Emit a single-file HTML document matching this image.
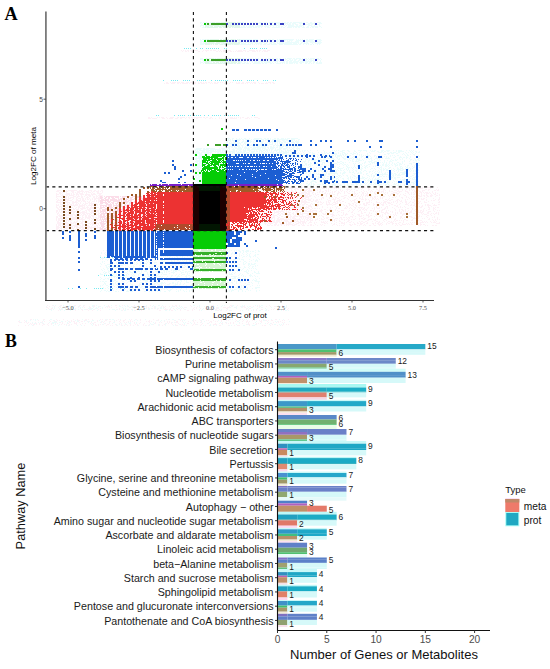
<!DOCTYPE html>
<html><head><meta charset="utf-8"><style>
html,body{margin:0;padding:0;background:#fff;}
svg{display:block;font-family:"Liberation Sans",sans-serif;}
</style></head><body>
<svg width="550" height="669" viewBox="0 0 550 669">
<rect width="550" height="669" fill="#fff"/>
<g shape-rendering="crispEdges"><path fill="#ec3232" d="M151 191h2v1h-2zM149 192h1v1h-1zM151 192h5v1h-5zM157 192h36v1h-36zM230 192h34v1h-34zM265 192h4v1h-4zM270 192h1v1h-1zM273 192h3v1h-3zM283 192h1v1h-1zM287 192h1v1h-1zM296 192h1v1h-1zM146 193h3v1h-3zM150 193h3v1h-3zM154 193h39v1h-39zM230 193h37v1h-37zM269 193h8v1h-8zM278 192h1v2h-1zM280 193h3v1h-3zM285 193h1v1h-1zM288 193h1v1h-1zM291 192h1v2h-1zM294 193h2v1h-2zM147 194h3v1h-3zM151 194h5v1h-5zM157 194h6v1h-6zM230 194h39v1h-39zM270 194h3v1h-3zM275 194h4v1h-4zM281 194h4v1h-4zM287 194h1v1h-1zM289 194h2v1h-2zM146 195h17v1h-17zM164 194h29v2h-29zM230 195h37v1h-37zM268 195h1v1h-1zM271 195h2v1h-2zM275 195h1v1h-1zM277 195h1v1h-1zM283 195h2v1h-2zM288 195h1v1h-1zM294 195h1v1h-1zM147 196h3v1h-3zM151 196h3v1h-3zM155 196h38v1h-38zM266 196h2v1h-2zM269 196h3v1h-3zM273 196h1v1h-1zM276 196h2v1h-2zM280 196h2v1h-2zM291 196h1v1h-1zM296 196h1v1h-1zM143 195h2v3h-2zM147 197h46v1h-46zM230 196h34v2h-34zM266 197h1v1h-1zM271 197h3v1h-3zM276 197h1v1h-1zM278 197h6v1h-6zM285 197h1v1h-1zM287 197h2v1h-2zM295 197h1v1h-1zM301 197h1v1h-1zM143 198h13v1h-13zM157 198h36v1h-36zM269 197h1v2h-1zM271 198h2v1h-2zM274 198h2v1h-2zM278 198h2v1h-2zM283 198h1v1h-1zM288 198h1v1h-1zM290 197h1v2h-1zM292 197h1v2h-1zM300 198h1v1h-1zM139 197h2v3h-2zM143 199h50v1h-50zM230 198h36v2h-36zM267 199h2v1h-2zM270 199h7v1h-7zM278 199h5v1h-5zM286 199h1v1h-1zM139 200h3v1h-3zM143 200h7v1h-7zM151 200h3v1h-3zM155 200h1v1h-1zM157 200h36v1h-36zM230 200h42v1h-42zM273 200h4v1h-4zM282 200h4v1h-4zM293 200h1v1h-1zM295 200h1v1h-1zM139 201h6v1h-6zM146 201h17v1h-17zM230 201h37v1h-37zM268 201h3v1h-3zM272 201h1v1h-1zM274 201h3v1h-3zM278 201h1v1h-1zM280 201h1v1h-1zM282 201h2v1h-2zM285 201h1v1h-1zM289 201h1v1h-1zM291 201h1v1h-1zM135 200h2v3h-2zM138 202h25v1h-25zM164 201h29v2h-29zM230 202h40v1h-40zM271 202h2v1h-2zM274 202h4v1h-4zM281 202h3v1h-3zM289 202h2v1h-2zM294 202h2v1h-2zM135 203h10v1h-10zM146 203h3v1h-3zM150 203h3v1h-3zM154 203h39v1h-39zM230 203h36v1h-36zM267 203h4v1h-4zM278 203h1v1h-1zM283 203h1v1h-1zM286 202h1v2h-1zM288 203h2v1h-2zM291 203h1v1h-1zM297 203h1v1h-1zM131 202h2v3h-2zM134 204h4v1h-4zM157 204h36v1h-36zM230 204h34v1h-34zM265 204h1v1h-1zM267 204h1v1h-1zM269 204h2v1h-2zM272 203h1v2h-1zM275 204h6v1h-6zM284 204h1v1h-1zM286 204h3v1h-3zM290 204h1v1h-1zM295 204h1v1h-1zM131 205h6v1h-6zM139 204h7v2h-7zM147 204h9v2h-9zM157 205h6v1h-6zM164 205h29v1h-29zM230 205h37v1h-37zM269 205h1v1h-1zM271 205h5v1h-5zM277 205h3v1h-3zM281 205h4v1h-4zM289 205h2v1h-2zM293 205h2v1h-2zM127 205h2v2h-2zM131 206h2v1h-2zM134 206h22v1h-22zM157 206h36v1h-36zM230 206h44v1h-44zM275 206h6v1h-6zM285 206h1v1h-1zM288 206h1v1h-1zM294 206h1v1h-1zM127 207h3v1h-3zM131 207h7v1h-7zM139 207h3v1h-3zM143 207h2v1h-2zM147 207h6v1h-6zM154 207h2v1h-2zM157 207h6v1h-6zM164 207h29v1h-29zM230 207h14v1h-14zM245 207h7v1h-7zM253 207h4v1h-4zM258 207h1v1h-1zM260 207h9v1h-9zM271 207h1v1h-1zM273 207h1v1h-1zM276 207h1v1h-1zM278 207h2v1h-2zM283 207h2v1h-2zM286 207h2v1h-2zM289 207h1v1h-1zM294 207h2v1h-2zM127 208h2v1h-2zM135 208h11v1h-11zM147 208h2v1h-2zM151 208h5v1h-5zM157 208h36v1h-36zM249 208h3v1h-3zM255 208h1v1h-1zM258 208h7v1h-7zM266 208h6v1h-6zM273 208h4v1h-4zM278 208h3v1h-3zM288 208h1v1h-1zM123 206h2v4h-2zM126 209h3v1h-3zM130 208h4v2h-4zM135 209h3v1h-3zM139 209h2v1h-2zM142 209h3v1h-3zM146 209h9v1h-9zM156 209h37v1h-37zM230 208h18v2h-18zM249 209h1v1h-1zM251 209h10v1h-10zM263 209h4v1h-4zM268 209h2v1h-2zM271 209h1v1h-1zM273 209h3v1h-3zM279 209h1v1h-1zM282 208h1v2h-1zM284 209h1v1h-1zM286 209h2v1h-2zM289 209h1v1h-1zM292 209h4v1h-4zM297 209h1v1h-1zM301 209h1v1h-1zM119 208h2v3h-2zM123 210h10v1h-10zM134 210h7v1h-7zM142 210h8v1h-8zM151 210h42v1h-42zM230 210h23v1h-23zM256 210h1v1h-1zM258 210h2v1h-2zM261 210h2v1h-2zM266 210h1v1h-1zM119 211h3v1h-3zM123 211h2v1h-2zM127 211h2v1h-2zM130 211h4v1h-4zM135 211h6v1h-6zM142 211h4v1h-4zM147 211h8v1h-8zM156 211h7v1h-7zM230 211h21v1h-21zM252 211h3v1h-3zM257 211h1v1h-1zM259 211h5v1h-5zM270 211h1v1h-1zM123 212h4v1h-4zM128 212h6v1h-6zM135 212h10v1h-10zM146 212h3v1h-3zM150 212h13v1h-13zM230 212h19v1h-19zM253 212h4v1h-4zM258 212h1v1h-1zM268 211h1v2h-1zM270 212h2v1h-2zM119 212h2v2h-2zM123 213h3v1h-3zM127 213h7v1h-7zM135 213h2v1h-2zM139 213h6v1h-6zM146 213h4v1h-4zM151 213h2v1h-2zM154 213h2v1h-2zM157 213h6v1h-6zM164 211h29v3h-29zM230 213h16v1h-16zM248 213h1v1h-1zM250 212h2v2h-2zM253 213h1v1h-1zM255 213h2v1h-2zM258 213h2v1h-2zM262 213h1v1h-1zM264 213h3v1h-3zM118 214h3v1h-3zM123 214h2v1h-2zM126 214h4v1h-4zM131 214h2v1h-2zM134 214h3v1h-3zM138 214h3v1h-3zM143 214h3v1h-3zM147 214h8v1h-8zM156 214h37v1h-37zM230 214h18v1h-18zM249 214h9v1h-9zM259 214h1v1h-1zM261 214h2v1h-2zM266 214h4v1h-4zM271 214h1v1h-1zM116 214h1v2h-1zM119 215h6v1h-6zM126 215h7v1h-7zM134 215h7v1h-7zM143 215h2v1h-2zM146 215h10v1h-10zM157 215h36v1h-36zM230 215h17v1h-17zM248 215h7v1h-7zM256 215h2v1h-2zM261 215h1v1h-1zM266 215h2v1h-2zM270 215h1v1h-1zM119 216h2v1h-2zM123 216h3v1h-3zM127 216h3v1h-3zM131 216h7v1h-7zM139 216h2v1h-2zM142 216h4v1h-4zM147 216h46v1h-46zM230 216h25v1h-25zM257 216h2v1h-2zM262 216h4v1h-4zM267 216h2v1h-2zM117 217h4v1h-4zM123 217h2v1h-2zM127 217h15v1h-15zM143 217h11v1h-11zM157 217h6v1h-6zM164 217h29v1h-29zM230 217h17v1h-17zM248 217h5v1h-5zM255 217h2v1h-2zM258 217h1v1h-1zM260 216h1v2h-1zM269 217h2v1h-2zM119 218h6v1h-6zM126 218h7v1h-7zM134 218h4v1h-4zM142 218h7v1h-7zM151 218h42v1h-42zM230 218h21v1h-21zM252 218h1v1h-1zM254 218h2v1h-2zM257 218h2v1h-2zM262 218h2v1h-2zM266 217h1v2h-1zM113 219h1v1h-1zM119 219h1v1h-1zM122 219h3v1h-3zM127 219h7v1h-7zM135 219h2v1h-2zM139 218h2v2h-2zM142 219h12v1h-12zM155 219h38v1h-38zM230 219h14v1h-14zM247 219h11v1h-11zM262 219h1v1h-1zM264 219h1v1h-1zM269 218h1v2h-1zM119 220h2v1h-2zM123 220h6v1h-6zM131 220h14v1h-14zM146 220h10v1h-10zM157 220h6v1h-6zM230 220h16v1h-16zM247 220h1v1h-1zM249 220h9v1h-9zM260 220h4v1h-4zM266 220h1v1h-1zM268 220h3v1h-3zM111 219h1v3h-1zM115 221h1v1h-1zM119 221h3v1h-3zM123 221h3v1h-3zM127 221h1v1h-1zM130 221h3v1h-3zM135 221h10v1h-10zM146 221h17v1h-17zM230 221h24v1h-24zM255 221h3v1h-3zM259 221h4v1h-4zM266 221h2v1h-2zM269 221h3v1h-3zM118 222h4v1h-4zM123 222h2v1h-2zM130 222h4v1h-4zM135 222h6v1h-6zM142 222h3v1h-3zM146 222h10v1h-10zM157 222h6v1h-6zM164 220h29v3h-29zM228 222h2v1h-2zM232 222h2v1h-2zM235 222h2v1h-2zM239 222h3v1h-3zM243 222h2v1h-2zM246 222h1v1h-1zM248 222h4v1h-4zM253 222h5v1h-5zM260 222h1v1h-1zM115 223h1v1h-1zM119 223h3v1h-3zM123 223h3v1h-3zM127 222h2v2h-2zM131 223h2v1h-2zM134 223h11v1h-11zM147 223h7v1h-7zM155 223h1v1h-1zM157 223h36v1h-36zM228 223h1v1h-1zM233 223h2v1h-2zM237 223h2v1h-2zM240 223h4v1h-4zM245 223h2v1h-2zM252 223h1v1h-1zM257 223h1v1h-1zM259 223h1v1h-1zM110 224h1v1h-1zM112 224h1v1h-1zM116 224h1v1h-1zM119 224h2v1h-2zM122 224h3v1h-3zM126 224h3v1h-3zM130 224h3v1h-3zM134 224h4v1h-4zM139 224h10v1h-10zM150 224h6v1h-6zM226 224h3v1h-3zM231 224h2v1h-2zM237 224h1v1h-1zM243 224h3v1h-3zM249 223h1v2h-1zM251 224h2v1h-2zM254 223h1v2h-1zM256 224h1v1h-1zM258 224h2v1h-2zM111 225h1v1h-1zM114 225h1v1h-1zM117 225h4v1h-4zM122 225h4v1h-4zM127 225h10v1h-10zM139 225h7v1h-7zM147 225h2v1h-2zM150 225h4v1h-4zM155 225h1v1h-1zM226 225h2v1h-2zM229 225h1v1h-1zM232 225h1v1h-1zM235 225h7v1h-7zM243 225h1v1h-1zM245 225h1v1h-1zM249 225h6v1h-6zM256 225h2v1h-2zM259 225h1v1h-1zM111 226h2v1h-2zM116 226h1v1h-1zM119 226h10v1h-10zM131 226h3v1h-3zM135 226h6v1h-6zM143 226h13v1h-13zM233 226h1v1h-1zM237 226h7v1h-7zM246 226h2v1h-2zM250 226h2v1h-2zM254 226h3v1h-3zM260 226h1v1h-1zM111 227h1v1h-1zM113 227h2v1h-2zM122 227h4v1h-4zM127 227h6v1h-6zM135 227h20v1h-20zM226 227h2v1h-2zM231 226h1v2h-1zM233 227h3v1h-3zM238 227h1v1h-1zM243 227h1v1h-1zM245 227h3v1h-3zM250 227h1v1h-1zM255 227h2v1h-2zM258 227h1v1h-1zM260 227h2v1h-2zM115 228h1v1h-1zM118 227h3v2h-3zM123 228h2v1h-2zM126 228h4v1h-4zM131 228h10v1h-10zM142 228h12v1h-12zM233 228h2v1h-2zM236 228h1v1h-1zM240 227h1v2h-1zM242 228h2v1h-2zM257 228h5v1h-5zM114 229h1v1h-1zM116 229h1v1h-1zM122 229h4v1h-4zM130 229h7v1h-7zM138 229h3v1h-3zM142 229h11v1h-11zM155 228h1v2h-1zM228 229h1v1h-1zM230 229h4v1h-4zM235 229h3v1h-3zM240 229h2v1h-2zM248 229h2v1h-2zM252 229h2v1h-2zM255 228h1v2h-1zM257 229h2v1h-2zM260 229h1v1h-1zM119 229h2v2h-2zM123 230h2v1h-2zM127 229h2v2h-2zM131 230h2v1h-2zM135 230h2v1h-2zM139 230h2v1h-2zM143 230h2v1h-2zM147 230h2v1h-2zM151 230h2v1h-2z"/>
<path fill="#000000" d="M193 184h33v2h-33zM199 191h21v33h-21z"/>
<path fill="#06cc06" d="M204 23h2v2h-2zM204 40h2v2h-2zM204 59h2v2h-2zM221 128h2v2h-2zM195 154h2v2h-2zM205 154h2v2h-2zM212 154h14v2h-14zM202 156h3v1h-3zM206 156h4v1h-4zM211 156h11v1h-11zM223 156h2v1h-2zM202 157h16v1h-16zM222 157h2v1h-2zM203 158h7v1h-7zM211 158h2v1h-2zM214 158h10v1h-10zM203 159h4v1h-4zM208 159h8v1h-8zM217 159h5v1h-5zM223 159h1v1h-1zM225 157h1v3h-1zM202 160h8v1h-8zM212 160h5v1h-5zM218 160h3v1h-3zM222 160h2v1h-2zM202 161h4v1h-4zM207 161h1v1h-1zM210 161h10v1h-10zM221 161h1v1h-1zM223 161h3v1h-3zM202 162h6v1h-6zM209 162h1v1h-1zM211 162h10v1h-10zM222 162h4v1h-4zM202 163h1v1h-1zM206 163h3v1h-3zM210 163h3v1h-3zM214 163h5v1h-5zM223 163h1v1h-1zM225 163h1v1h-1zM202 164h4v1h-4zM208 164h2v1h-2zM211 164h8v1h-8zM195 164h2v2h-2zM202 165h3v1h-3zM207 165h5v1h-5zM213 165h3v1h-3zM218 165h1v1h-1zM220 164h6v2h-6zM202 166h1v1h-1zM204 166h6v1h-6zM214 166h3v1h-3zM222 166h1v1h-1zM224 166h2v1h-2zM203 167h15v1h-15zM219 166h2v2h-2zM222 167h2v1h-2zM202 168h16v1h-16zM219 168h1v1h-1zM224 168h2v1h-2zM202 169h4v1h-4zM207 169h5v1h-5zM214 169h7v1h-7zM222 169h3v1h-3zM201 170h3v1h-3zM205 170h1v1h-1zM207 170h1v1h-1zM209 170h1v1h-1zM211 170h5v1h-5zM217 170h7v1h-7zM225 170h1v1h-1zM201 171h1v1h-1zM203 171h2v1h-2zM206 171h2v1h-2zM210 171h7v1h-7zM219 171h7v1h-7zM195 172h2v2h-2zM199 172h2v2h-2zM193 178h2v2h-2zM199 180h2v2h-2zM202 172h24v12h-24zM193 231h33v18h-33z"/>
<path fill="#1c5ed2" d="M232 129h3v2h-3zM236 129h3v2h-3zM244 129h3v2h-3zM248 129h3v2h-3zM252 129h3v2h-3zM256 129h3v2h-3zM260 129h3v2h-3zM264 129h3v2h-3zM268 129h3v2h-3zM276 129h2v2h-2zM235 140h2v2h-2zM247 140h2v2h-2zM256 140h2v2h-2zM259 140h2v2h-2zM268 140h2v2h-2zM274 140h2v2h-2zM289 140h2v2h-2zM310 140h2v2h-2zM320 140h2v2h-2zM325 140h2v2h-2zM330 140h2v2h-2zM347 140h2v2h-2zM354 140h2v2h-2zM366 140h2v2h-2zM379 140h4v2h-4zM416 140h2v2h-2zM226 144h2v2h-2zM232 144h2v2h-2zM235 144h2v2h-2zM247 144h2v2h-2zM253 144h2v2h-2zM256 144h2v2h-2zM262 144h2v2h-2zM265 144h2v2h-2zM280 144h2v2h-2zM286 144h2v2h-2zM289 144h2v2h-2zM292 144h2v2h-2zM295 144h2v2h-2zM298 144h4v2h-4zM310 144h2v2h-2zM315 144h2v2h-2zM330 146h2v2h-2zM369 146h2v2h-2zM380 146h2v2h-2zM416 146h2v2h-2zM294 150h2v2h-2zM292 152h4v2h-4zM332 152h2v2h-2zM306 154h2v1h-2zM226 154h2v2h-2zM229 154h2v2h-2zM235 154h2v2h-2zM238 154h2v2h-2zM241 154h2v2h-2zM244 154h2v2h-2zM247 154h2v2h-2zM250 154h2v2h-2zM253 154h2v2h-2zM256 154h2v2h-2zM259 154h2v2h-2zM262 154h2v2h-2zM265 154h2v2h-2zM268 154h2v2h-2zM271 154h2v2h-2zM274 154h2v2h-2zM277 154h2v2h-2zM280 154h2v2h-2zM320 154h2v2h-2zM325 155h2v1h-2zM329 155h1v1h-1zM226 156h50v1h-50zM280 156h1v1h-1zM282 156h1v1h-1zM285 155h2v2h-2zM289 155h2v2h-2zM293 155h2v2h-2zM297 155h2v2h-2zM301 155h2v2h-2zM305 155h3v2h-3zM309 155h2v2h-2zM313 155h2v2h-2zM324 156h3v1h-3zM329 156h3v1h-3zM227 157h1v1h-1zM229 157h2v1h-2zM233 157h2v1h-2zM236 157h3v1h-3zM243 157h4v1h-4zM249 157h2v1h-2zM252 157h1v1h-1zM256 157h2v1h-2zM259 157h6v1h-6zM266 157h1v1h-1zM269 157h1v1h-1zM271 157h1v1h-1zM274 157h1v1h-1zM276 157h1v1h-1zM278 157h5v1h-5zM306 157h2v1h-2zM321 156h2v2h-2zM324 157h2v1h-2zM330 157h2v1h-2zM347 156h2v2h-2zM355 156h2v2h-2zM366 156h2v2h-2zM378 156h4v2h-4zM416 156h2v2h-2zM226 158h57v1h-57zM286 158h1v1h-1zM289 158h3v1h-3zM295 158h1v1h-1zM226 159h52v1h-52zM279 159h1v1h-1zM283 159h1v1h-1zM288 159h1v1h-1zM290 159h1v1h-1zM293 158h1v2h-1zM296 159h1v1h-1zM298 159h1v1h-1zM301 159h1v1h-1zM312 158h2v2h-2zM226 160h7v1h-7zM235 160h1v1h-1zM237 160h1v1h-1zM239 160h1v1h-1zM241 160h1v1h-1zM243 160h2v1h-2zM246 160h4v1h-4zM251 160h2v1h-2zM255 160h2v1h-2zM258 160h1v1h-1zM260 160h3v1h-3zM265 160h2v1h-2zM269 160h5v1h-5zM276 160h1v1h-1zM278 160h2v1h-2zM281 159h1v2h-1zM286 160h3v1h-3zM292 160h1v1h-1zM295 160h2v1h-2zM172 160h2v2h-2zM277 161h1v1h-1zM280 161h11v1h-11zM297 161h1v1h-1zM300 161h1v1h-1zM318 160h2v2h-2zM326 160h2v2h-2zM332 160h2v2h-2zM226 161h50v2h-50zM277 162h2v1h-2zM282 162h1v1h-1zM284 162h6v1h-6zM226 163h1v1h-1zM228 163h8v1h-8zM239 163h4v1h-4zM244 163h1v1h-1zM246 163h2v1h-2zM250 163h4v1h-4zM256 163h4v1h-4zM261 163h1v1h-1zM265 163h1v1h-1zM267 163h2v1h-2zM270 163h2v1h-2zM273 163h6v1h-6zM280 163h1v1h-1zM282 163h4v1h-4zM287 163h1v1h-1zM290 163h1v1h-1zM292 163h2v1h-2zM314 162h2v2h-2zM330 162h2v2h-2zM277 164h1v1h-1zM281 164h2v1h-2zM284 164h1v1h-1zM286 164h3v1h-3zM292 164h1v1h-1zM295 162h1v3h-1zM297 163h1v2h-1zM172 164h2v2h-2zM190 164h2v2h-2zM226 164h50v2h-50zM278 165h2v1h-2zM281 165h3v1h-3zM285 165h3v1h-3zM289 165h1v1h-1zM291 165h1v1h-1zM293 165h1v1h-1zM300 164h2v2h-2zM318 164h2v2h-2zM377 162h2v4h-2zM226 166h2v1h-2zM229 166h1v1h-1zM231 166h1v1h-1zM233 166h2v1h-2zM236 166h1v1h-1zM239 166h2v1h-2zM242 166h3v1h-3zM246 166h1v1h-1zM249 166h1v1h-1zM253 166h1v1h-1zM255 166h1v1h-1zM257 166h2v1h-2zM260 166h3v1h-3zM265 166h1v1h-1zM267 166h4v1h-4zM272 166h5v1h-5zM278 166h1v1h-1zM283 166h2v1h-2zM295 166h1v1h-1zM226 167h52v1h-52zM280 166h2v2h-2zM284 167h1v1h-1zM287 166h3v2h-3zM293 167h2v1h-2zM298 166h4v2h-4zM324 166h2v2h-2zM330 164h4v4h-4zM226 168h51v1h-51zM278 168h1v1h-1zM280 168h4v1h-4zM285 168h1v1h-1zM289 168h4v1h-4zM298 168h1v1h-1zM300 168h6v1h-6zM358 165h2v4h-2zM174 166h2v4h-2zM227 169h1v1h-1zM229 169h1v1h-1zM231 169h1v1h-1zM233 169h6v1h-6zM240 169h2v1h-2zM244 169h2v1h-2zM247 169h2v1h-2zM250 169h1v1h-1zM252 169h1v1h-1zM255 169h1v1h-1zM257 169h2v1h-2zM260 169h1v1h-1zM264 169h1v1h-1zM267 169h5v1h-5zM273 169h1v1h-1zM276 169h6v1h-6zM283 169h10v1h-10zM299 169h7v1h-7zM310 168h2v2h-2zM322 168h2v2h-2zM328 168h4v2h-4zM226 170h31v1h-31zM258 170h26v1h-26zM288 170h1v1h-1zM290 170h1v1h-1zM292 170h1v1h-1zM297 170h3v1h-3zM302 170h4v1h-4zM182 170h2v2h-2zM190 170h2v2h-2zM226 171h30v1h-30zM257 171h28v1h-28zM286 171h1v1h-1zM289 171h3v1h-3zM294 168h2v4h-2zM299 171h7v1h-7zM308 170h2v2h-2zM314 170h2v2h-2zM324 170h2v2h-2zM330 170h5v2h-5zM226 172h18v1h-18zM245 172h38v1h-38zM285 172h4v1h-4zM292 172h2v1h-2zM297 172h4v1h-4zM164 172h2v2h-2zM168 172h2v2h-2zM226 173h39v1h-39zM266 173h19v1h-19zM287 173h1v1h-1zM289 173h6v1h-6zM302 172h2v2h-2zM226 174h11v1h-11zM238 174h14v1h-14zM253 174h34v1h-34zM289 174h3v1h-3zM300 174h2v1h-2zM184 174h2v2h-2zM226 175h5v1h-5zM232 175h8v1h-8zM241 175h19v1h-19zM261 175h14v1h-14zM276 175h9v1h-9zM287 175h7v1h-7zM300 175h1v1h-1zM320 174h4v2h-4zM377 174h2v2h-2zM226 176h26v1h-26zM253 176h29v1h-29zM285 176h7v1h-7zM294 176h6v1h-6zM406 169h2v8h-2zM180 176h2v2h-2zM226 177h29v1h-29zM256 177h31v1h-31zM288 177h1v1h-1zM290 177h2v1h-2zM293 177h1v1h-1zM296 177h4v1h-4zM306 176h2v2h-2zM312 174h2v4h-2zM320 176h2v2h-2zM334 176h1v2h-1zM226 178h3v1h-3zM230 178h38v1h-38zM269 178h13v1h-13zM283 178h2v1h-2zM286 178h1v1h-1zM288 178h2v1h-2zM298 178h2v1h-2zM301 177h1v2h-1zM178 178h2v2h-2zM226 179h10v1h-10zM237 179h8v1h-8zM246 179h30v1h-30zM277 179h6v1h-6zM289 179h2v1h-2zM292 179h3v1h-3zM296 179h1v1h-1zM298 179h4v1h-4zM304 178h2v2h-2zM308 178h2v2h-2zM314 178h2v2h-2zM330 176h2v4h-2zM389 170h2v10h-2zM226 180h52v1h-52zM279 180h6v1h-6zM288 180h1v1h-1zM299 180h5v1h-5zM334 180h1v1h-1zM358 175h2v6h-2zM377 180h2v1h-2zM406 179h2v2h-2zM160 180h2v2h-2zM226 181h58v1h-58zM285 181h1v1h-1zM287 181h3v1h-3zM291 181h2v1h-2zM294 180h2v2h-2zM298 181h1v1h-1zM300 181h4v1h-4zM320 180h2v2h-2zM324 180h4v2h-4zM332 181h3v1h-3zM162 182h4v1h-4zM178 182h2v1h-2zM184 182h2v1h-2zM226 182h9v1h-9zM236 182h52v1h-52zM292 182h3v1h-3zM296 182h2v1h-2zM300 182h1v1h-1zM324 182h6v1h-6zM332 182h2v1h-2zM336 181h2v2h-2zM342 181h6v2h-6zM352 181h8v2h-8zM362 181h2v2h-2zM370 181h2v2h-2zM377 181h5v2h-5zM384 181h2v2h-2zM398 181h4v2h-4zM406 181h4v2h-4zM226 183h57v1h-57zM286 183h1v1h-1zM288 183h2v1h-2zM292 183h2v1h-2zM296 183h4v1h-4zM324 183h2v1h-2zM328 183h2v1h-2zM377 183h2v1h-2zM406 183h2v2h-2zM416 163h2v23h-2zM157 231h36v1h-36zM69 231h2v2h-2zM94 231h2v2h-2zM155 231h1v2h-1zM157 232h6v1h-6zM164 232h29v1h-29zM236 231h6v2h-6zM155 233h38v1h-38zM62 231h2v4h-2zM155 234h8v1h-8zM164 234h29v1h-29zM226 231h8v4h-8zM236 233h4v2h-4zM244 231h2v4h-2zM155 235h38v1h-38zM85 233h2v4h-2zM155 236h1v1h-1zM157 236h6v1h-6zM164 236h29v1h-29zM226 235h12v2h-12zM155 237h38v1h-38zM62 237h2v2h-2zM94 235h2v4h-2zM155 238h8v1h-8zM226 237h6v2h-6zM236 237h6v2h-6zM155 239h1v1h-1zM157 239h6v1h-6zM164 238h29v2h-29zM69 235h2v6h-2zM85 239h2v2h-2zM155 240h38v1h-38zM232 239h10v2h-10zM155 241h1v1h-1zM157 241h36v1h-36zM255 240h2v2h-2zM155 242h8v1h-8zM226 239h4v4h-4zM232 241h8v2h-8zM155 243h1v1h-1zM157 243h6v1h-6zM164 242h29v2h-29zM155 244h38v1h-38zM228 243h6v2h-6zM236 243h4v2h-4zM244 243h2v2h-2zM157 245h6v1h-6zM164 245h29v1h-29zM157 246h36v1h-36zM226 245h14v2h-14zM246 245h2v2h-2zM78 231h2v17h-2zM157 247h6v1h-6zM164 247h29v1h-29zM155 245h1v4h-1zM157 248h1v1h-1zM275 247h2v2h-2zM155 249h3v1h-3zM155 250h1v1h-1zM157 250h1v1h-1zM155 251h3v1h-3zM78 251h2v2h-2zM155 252h1v1h-1zM157 252h1v1h-1zM160 250h3v3h-3zM164 250h29v3h-29zM226 252h2v2h-2zM235 252h2v2h-2zM155 253h3v2h-3zM107 231h7v25h-7zM115 231h3v25h-3zM119 231h3v25h-3zM123 231h3v25h-3zM127 231h3v25h-3zM131 231h3v25h-3zM135 231h3v25h-3zM139 231h3v25h-3zM143 231h3v25h-3zM151 231h3v25h-3zM155 255h1v1h-1zM160 253h33v3h-33zM111 256h11v1h-11zM151 256h5v1h-5zM157 255h1v2h-1zM107 256h3v2h-3zM114 257h8v1h-8zM123 256h23v2h-23zM147 231h3v27h-3zM151 257h7v1h-7zM78 257h2v2h-2zM115 258h3v1h-3zM120 258h3v1h-3zM135 258h3v1h-3zM140 258h3v1h-3zM160 258h3v1h-3zM164 258h29v1h-29zM226 257h2v2h-2zM229 257h2v2h-2zM235 257h2v2h-2zM114 259h10v1h-10zM125 258h3v2h-3zM130 258h3v2h-3zM134 259h10v1h-10zM145 258h3v2h-3zM155 258h1v2h-1zM157 258h1v2h-1zM160 259h33v1h-33zM114 260h2v1h-2zM118 260h2v1h-2zM122 260h2v1h-2zM126 260h2v1h-2zM130 260h2v1h-2zM134 260h2v1h-2zM138 260h2v1h-2zM142 260h2v1h-2zM150 259h2v2h-2zM110 259h2v3h-2zM78 261h2v2h-2zM226 261h2v2h-2zM229 261h2v2h-2zM232 261h2v2h-2zM235 261h2v2h-2zM110 262h3v2h-3zM118 262h6v2h-6zM125 262h3v2h-3zM130 262h3v2h-3zM142 262h2v2h-2zM150 262h2v2h-2zM160 262h3v2h-3zM165 262h28v2h-28zM110 265h2v2h-2zM114 265h2v2h-2zM118 265h2v2h-2zM142 265h2v2h-2zM154 265h2v2h-2zM229 265h2v2h-2zM232 265h2v2h-2zM235 265h2v2h-2zM160 266h2v2h-2zM164 266h2v2h-2zM168 266h2v2h-2zM172 266h2v2h-2zM176 266h2v2h-2zM180 266h2v2h-2zM188 266h2v2h-2zM192 266h1v2h-1zM155 268h1v1h-1zM157 268h1v1h-1zM110 268h3v2h-3zM118 268h6v2h-6zM125 268h3v2h-3zM130 268h3v2h-3zM135 268h8v2h-8zM145 268h3v2h-3zM150 268h3v2h-3zM155 269h3v1h-3zM160 268h3v2h-3zM165 268h3v2h-3zM175 268h3v2h-3zM190 268h3v2h-3zM78 269h2v2h-2zM110 270h2v1h-2zM229 269h2v2h-2zM232 269h2v2h-2zM238 269h2v2h-2zM114 271h2v2h-2zM118 271h2v2h-2zM122 271h2v2h-2zM134 271h2v2h-2zM150 271h2v2h-2zM158 271h2v2h-2zM110 274h2v2h-2zM118 274h2v2h-2zM122 274h2v2h-2zM142 274h2v2h-2zM150 274h2v2h-2zM154 274h2v2h-2zM122 277h2v1h-2zM130 277h2v1h-2zM138 277h2v1h-2zM150 277h2v1h-2zM154 277h2v1h-2zM118 277h2v2h-2zM127 278h8v1h-8zM157 278h36v1h-36zM122 278h3v2h-3zM127 279h3v1h-3zM132 279h3v1h-3zM137 278h3v2h-3zM142 278h3v2h-3zM147 278h9v2h-9zM157 279h6v1h-6zM164 279h29v1h-29zM229 279h2v2h-2zM238 279h2v2h-2zM241 279h2v2h-2zM244 279h2v2h-2zM247 279h2v2h-2zM110 279h2v3h-2zM130 280h2v2h-2zM134 280h2v2h-2zM150 280h2v2h-2zM154 280h2v2h-2zM158 280h2v2h-2zM110 283h2v2h-2zM118 283h2v2h-2zM122 283h2v2h-2zM142 283h2v2h-2zM146 283h2v2h-2zM150 283h2v2h-2zM150 286h6v1h-6zM157 286h6v1h-6zM78 286h2v2h-2zM110 286h2v2h-2zM118 286h6v2h-6zM125 286h3v2h-3zM130 286h3v2h-3zM135 286h3v2h-3zM145 286h3v2h-3zM150 287h13v1h-13zM164 286h29v2h-29zM229 286h2v2h-2zM232 286h2v2h-2zM238 286h2v2h-2zM244 286h2v2h-2zM110 289h2v2h-2zM122 289h2v2h-2zM130 289h2v2h-2zM134 289h2v2h-2zM138 289h2v2h-2zM146 289h2v2h-2zM150 289h2v2h-2zM154 289h2v2h-2zM158 289h2v2h-2z"/>
<path fill="#a05a28" d="M150 186h7v1h-7zM159 186h5v1h-5zM166 186h1v1h-1zM168 186h25v1h-25zM230 186h4v1h-4zM235 186h23v1h-23zM261 186h3v1h-3zM265 186h2v1h-2zM268 186h1v1h-1zM270 186h7v1h-7zM279 186h2v1h-2zM283 186h2v1h-2zM152 187h2v1h-2zM156 187h2v1h-2zM159 187h1v1h-1zM161 187h5v1h-5zM167 187h2v1h-2zM230 187h29v1h-29zM260 187h3v1h-3zM264 187h2v1h-2zM267 187h2v1h-2zM270 187h5v1h-5zM276 187h1v1h-1zM279 187h4v1h-4zM143 187h2v2h-2zM147 187h2v2h-2zM150 187h1v2h-1zM152 188h3v1h-3zM157 188h4v1h-4zM162 188h2v1h-2zM165 188h1v1h-1zM167 188h1v1h-1zM170 187h23v2h-23zM230 188h31v1h-31zM262 188h2v1h-2zM265 188h6v1h-6zM273 188h2v1h-2zM276 188h6v1h-6zM284 187h1v2h-1zM151 189h3v1h-3zM155 189h12v1h-12zM168 189h17v1h-17zM186 189h7v1h-7zM230 189h23v1h-23zM254 189h4v1h-4zM262 189h11v1h-11zM274 189h1v1h-1zM276 189h8v1h-8zM151 190h4v1h-4zM156 190h1v1h-1zM159 190h2v1h-2zM162 190h1v1h-1zM165 190h6v1h-6zM172 190h4v1h-4zM177 190h1v1h-1zM179 190h14v1h-14zM230 190h6v1h-6zM238 190h21v1h-21zM263 190h1v1h-1zM265 190h6v1h-6zM273 190h2v1h-2zM278 190h1v1h-1zM280 190h2v1h-2zM283 190h1v1h-1zM153 191h4v1h-4zM158 191h4v1h-4zM165 191h4v1h-4zM170 191h7v1h-7zM178 191h4v1h-4zM183 191h10v1h-10zM231 191h5v1h-5zM237 191h3v1h-3zM241 191h14v1h-14zM256 191h2v1h-2zM259 191h2v1h-2zM266 191h2v1h-2zM271 191h4v1h-4zM276 190h1v2h-1zM280 191h1v1h-1zM282 191h1v1h-1zM284 191h1v1h-1zM147 191h2v2h-2zM131 194h2v2h-2zM139 189h2v8h-2zM127 196h2v2h-2zM264 196h2v2h-2zM274 196h2v2h-2zM123 198h2v2h-2zM135 194h2v6h-2zM298 200h2v2h-2zM123 202h2v2h-2zM119 202h2v6h-2zM115 207h2v2h-2zM107 207h2v4h-2zM111 209h2v2h-2zM115 211h2v3h-2zM115 214h1v2h-1zM286 216h2v2h-2zM111 213h2v6h-2zM115 216h2v5h-2zM112 219h1v3h-1zM116 221h1v1h-1zM264 220h2v2h-2zM292 220h2v2h-2zM115 222h2v1h-2zM111 222h2v2h-2zM116 223h1v1h-1zM282 222h2v2h-2zM111 224h1v1h-1zM115 224h1v1h-1zM416 186h2v39h-2zM112 225h1v1h-1zM115 225h2v1h-2zM115 226h1v1h-1zM112 227h1v1h-1zM115 227h2v1h-2zM116 228h1v1h-1zM115 229h1v1h-1zM107 213h2v18h-2zM111 228h2v3h-2zM115 230h2v1h-2z"/>
<path fill="#7a1ec8" d="M150 184h1v1h-1zM152 184h5v1h-5zM159 184h2v1h-2zM162 184h6v1h-6zM169 184h12v1h-12zM182 184h11v1h-11zM226 184h51v1h-51zM278 184h4v1h-4zM150 185h38v1h-38zM189 185h4v1h-4zM226 185h12v1h-12zM239 185h44v1h-44z"/>
<path fill="#3c9e28" d="M207 23h2v2h-2zM211 23h15v2h-15zM207 40h19v2h-19zM207 59h2v2h-2zM211 59h15v2h-15zM207 144h2v2h-2zM215 144h6v2h-6zM223 144h3v2h-3z"/>
<path fill="#ebfcfc" d="M200 22h2v1h-2zM203 22h3v1h-3zM207 22h2v1h-2zM210 22h2v1h-2zM215 22h1v1h-1zM220 22h1v1h-1zM226 22h1v1h-1zM240 22h4v1h-4zM245 22h1v1h-1zM247 22h1v1h-1zM250 22h2v1h-2zM253 22h1v1h-1zM255 22h3v1h-3zM259 22h3v1h-3zM264 22h4v1h-4zM269 22h4v1h-4zM274 22h6v1h-6zM282 22h1v1h-1zM284 22h2v1h-2zM287 22h2v1h-2zM290 22h2v1h-2zM293 22h9v1h-9zM303 22h2v1h-2zM306 22h2v1h-2zM310 22h2v1h-2zM314 22h1v1h-1zM317 22h4v1h-4zM200 23h1v1h-1zM202 23h1v1h-1zM228 23h1v1h-1zM243 23h1v1h-1zM258 23h3v1h-3zM263 23h1v1h-1zM269 23h1v1h-1zM272 23h1v1h-1zM276 23h4v1h-4zM284 23h4v1h-4zM289 23h2v1h-2zM292 23h4v1h-4zM299 23h4v1h-4zM308 23h7v1h-7zM319 23h3v1h-3zM201 24h1v1h-1zM203 24h1v1h-1zM231 24h1v1h-1zM237 24h1v1h-1zM240 23h1v2h-1zM249 24h1v1h-1zM260 24h1v1h-1zM266 24h1v1h-1zM268 24h1v1h-1zM273 24h1v1h-1zM276 24h1v1h-1zM278 24h2v1h-2zM285 24h1v1h-1zM287 24h4v1h-4zM292 24h2v1h-2zM295 24h3v1h-3zM300 24h1v1h-1zM305 24h5v1h-5zM311 24h2v1h-2zM317 24h3v1h-3zM200 25h4v1h-4zM207 25h1v1h-1zM219 25h2v1h-2zM249 25h2v1h-2zM252 25h2v1h-2zM255 25h1v1h-1zM257 25h6v1h-6zM265 25h2v1h-2zM268 25h12v1h-12zM283 25h2v1h-2zM286 25h1v1h-1zM288 25h6v1h-6zM296 25h2v1h-2zM299 25h5v1h-5zM308 25h4v1h-4zM314 24h1v2h-1zM319 25h1v1h-1zM200 26h1v1h-1zM203 26h1v1h-1zM209 26h1v1h-1zM221 26h1v1h-1zM229 24h1v3h-1zM234 26h1v1h-1zM241 26h1v1h-1zM243 25h2v2h-2zM246 25h1v2h-1zM248 26h6v1h-6zM255 26h8v1h-8zM264 26h5v1h-5zM270 26h1v1h-1zM273 26h1v1h-1zM276 26h1v1h-1zM278 26h2v1h-2zM281 26h2v1h-2zM285 26h1v1h-1zM288 26h14v1h-14zM303 26h1v1h-1zM307 26h2v1h-2zM311 26h7v1h-7zM319 26h2v1h-2zM202 27h3v1h-3zM206 27h1v1h-1zM233 27h1v1h-1zM240 27h6v1h-6zM247 27h5v1h-5zM253 27h4v1h-4zM258 27h2v1h-2zM261 27h1v1h-1zM265 27h1v1h-1zM267 27h3v1h-3zM272 27h8v1h-8zM281 27h1v1h-1zM283 27h2v1h-2zM287 27h5v1h-5zM293 27h1v1h-1zM295 27h2v1h-2zM298 27h2v1h-2zM302 27h3v1h-3zM306 27h3v1h-3zM310 27h1v1h-1zM312 27h2v1h-2zM315 27h3v1h-3zM321 27h1v1h-1zM200 39h1v1h-1zM202 39h3v1h-3zM209 39h1v1h-1zM230 39h1v1h-1zM234 39h1v1h-1zM238 39h1v1h-1zM240 39h12v1h-12zM253 39h5v1h-5zM264 39h3v1h-3zM268 39h3v1h-3zM272 39h2v1h-2zM277 39h1v1h-1zM279 39h15v1h-15zM296 39h1v1h-1zM298 39h1v1h-1zM300 39h1v1h-1zM302 39h1v1h-1zM304 39h1v1h-1zM306 39h2v1h-2zM309 39h5v1h-5zM316 39h5v1h-5zM200 40h2v1h-2zM228 40h1v1h-1zM237 40h1v1h-1zM243 40h1v1h-1zM269 40h1v1h-1zM272 40h1v1h-1zM284 40h2v1h-2zM287 40h1v1h-1zM289 40h4v1h-4zM296 40h7v1h-7zM306 40h7v1h-7zM314 40h1v1h-1zM317 40h1v1h-1zM319 40h3v1h-3zM200 41h4v1h-4zM206 39h1v3h-1zM238 41h1v1h-1zM240 40h1v2h-1zM249 40h1v2h-1zM252 40h1v2h-1zM255 40h1v2h-1zM258 40h1v2h-1zM260 39h1v3h-1zM263 40h1v2h-1zM266 40h1v2h-1zM268 41h2v1h-2zM273 41h1v1h-1zM276 40h4v2h-4zM284 41h1v1h-1zM287 41h3v1h-3zM291 41h1v1h-1zM295 41h4v1h-4zM300 41h1v1h-1zM302 41h1v1h-1zM305 41h9v1h-9zM317 41h4v1h-4zM200 42h2v1h-2zM203 42h2v1h-2zM207 42h1v1h-1zM224 42h3v1h-3zM228 42h1v1h-1zM231 42h1v1h-1zM237 42h1v1h-1zM240 42h2v1h-2zM243 42h1v1h-1zM245 42h13v1h-13zM259 42h6v1h-6zM266 42h2v1h-2zM270 42h5v1h-5zM277 42h1v1h-1zM279 42h5v1h-5zM285 42h14v1h-14zM301 42h2v1h-2zM304 42h1v1h-1zM306 42h2v1h-2zM310 42h6v1h-6zM317 42h5v1h-5zM200 43h5v1h-5zM214 42h1v2h-1zM221 43h2v1h-2zM241 43h5v1h-5zM248 43h1v1h-1zM250 43h3v1h-3zM255 43h7v1h-7zM264 43h3v1h-3zM269 43h3v1h-3zM273 43h3v1h-3zM277 43h15v1h-15zM293 43h4v1h-4zM298 43h1v1h-1zM300 43h2v1h-2zM303 43h6v1h-6zM312 43h1v1h-1zM315 43h6v1h-6zM200 44h4v1h-4zM210 44h1v1h-1zM219 44h1v1h-1zM223 44h1v1h-1zM231 44h1v1h-1zM233 44h1v1h-1zM239 44h12v1h-12zM252 44h1v1h-1zM254 44h1v1h-1zM256 44h1v1h-1zM258 44h1v1h-1zM260 44h2v1h-2zM263 44h3v1h-3zM267 44h3v1h-3zM271 44h6v1h-6zM279 44h4v1h-4zM284 44h14v1h-14zM299 44h2v1h-2zM303 44h1v1h-1zM306 44h1v1h-1zM308 44h1v1h-1zM310 44h2v1h-2zM313 44h1v1h-1zM317 44h1v1h-1zM319 44h1v1h-1zM200 58h3v1h-3zM205 58h1v1h-1zM208 58h1v1h-1zM214 58h1v1h-1zM216 58h1v1h-1zM223 58h1v1h-1zM233 58h1v1h-1zM240 58h7v1h-7zM248 58h4v1h-4zM253 58h1v1h-1zM255 58h4v1h-4zM261 58h2v1h-2zM265 58h2v1h-2zM268 58h3v1h-3zM279 58h2v1h-2zM283 58h1v1h-1zM285 58h1v1h-1zM287 58h5v1h-5zM293 58h2v1h-2zM296 58h5v1h-5zM302 58h1v1h-1zM304 58h3v1h-3zM308 58h1v1h-1zM310 58h5v1h-5zM316 58h3v1h-3zM320 58h1v1h-1zM200 59h4v1h-4zM240 59h1v1h-1zM249 59h1v1h-1zM252 59h1v1h-1zM258 59h2v1h-2zM272 58h2v2h-2zM276 58h2v2h-2zM279 59h1v1h-1zM285 59h2v1h-2zM289 59h2v1h-2zM292 59h1v1h-1zM294 59h3v1h-3zM299 59h4v1h-4zM306 59h2v1h-2zM309 59h3v1h-3zM313 59h1v1h-1zM317 59h3v1h-3zM321 59h1v1h-1zM202 60h2v1h-2zM206 60h1v1h-1zM243 59h1v2h-1zM246 60h1v1h-1zM255 59h1v2h-1zM258 60h1v1h-1zM260 60h1v1h-1zM263 60h1v1h-1zM266 59h1v2h-1zM268 59h2v2h-2zM273 60h1v1h-1zM276 60h3v1h-3zM285 60h1v1h-1zM287 60h2v1h-2zM290 60h3v1h-3zM294 60h2v1h-2zM298 60h2v1h-2zM302 60h1v1h-1zM305 60h2v1h-2zM308 60h1v1h-1zM310 60h4v1h-4zM200 61h1v1h-1zM203 61h2v1h-2zM210 61h1v1h-1zM214 61h1v1h-1zM227 61h1v1h-1zM236 61h2v1h-2zM243 61h2v1h-2zM249 61h4v1h-4zM254 61h3v1h-3zM258 61h14v1h-14zM273 61h5v1h-5zM279 61h1v1h-1zM283 61h2v1h-2zM289 61h3v1h-3zM293 61h6v1h-6zM300 61h12v1h-12zM313 61h3v1h-3zM317 61h1v1h-1zM320 60h1v2h-1zM200 62h3v1h-3zM204 62h1v1h-1zM209 62h3v1h-3zM221 62h1v1h-1zM223 62h1v1h-1zM230 62h1v1h-1zM240 61h2v2h-2zM244 62h2v1h-2zM247 61h1v2h-1zM252 62h1v1h-1zM254 62h6v1h-6zM261 62h2v1h-2zM264 62h7v1h-7zM272 62h1v1h-1zM275 62h1v1h-1zM277 62h1v1h-1zM280 62h5v1h-5zM289 62h9v1h-9zM299 62h5v1h-5zM305 62h3v1h-3zM309 62h2v1h-2zM313 62h2v1h-2zM316 62h2v1h-2zM319 62h3v1h-3zM200 63h1v1h-1zM203 63h1v1h-1zM217 63h1v1h-1zM222 63h1v1h-1zM233 63h1v1h-1zM240 63h1v1h-1zM242 63h3v1h-3zM246 63h3v1h-3zM250 63h1v1h-1zM253 63h8v1h-8zM262 63h2v1h-2zM265 63h2v1h-2zM270 63h2v1h-2zM273 63h1v1h-1zM276 63h5v1h-5zM282 63h1v1h-1zM284 63h1v1h-1zM286 61h2v3h-2zM289 63h4v1h-4zM294 63h1v1h-1zM296 63h2v1h-2zM300 63h2v1h-2zM305 63h2v1h-2zM308 63h2v1h-2zM311 63h1v1h-1zM313 63h1v1h-1zM316 63h6v1h-6zM227 138h3v1h-3zM232 138h2v1h-2zM236 138h1v1h-1zM239 138h1v1h-1zM241 138h1v1h-1zM244 138h2v1h-2zM249 138h1v1h-1zM254 138h8v1h-8zM264 138h2v1h-2zM267 138h2v1h-2zM274 138h2v1h-2zM277 138h2v1h-2zM281 138h3v1h-3zM285 138h1v1h-1zM287 138h3v1h-3zM291 138h7v1h-7zM228 139h1v1h-1zM230 139h1v1h-1zM232 139h1v1h-1zM236 139h5v1h-5zM242 139h2v1h-2zM245 139h4v1h-4zM251 139h1v1h-1zM253 139h6v1h-6zM261 139h3v1h-3zM265 139h4v1h-4zM270 138h1v2h-1zM272 139h4v1h-4zM277 139h11v1h-11zM291 139h4v1h-4zM298 139h2v1h-2zM226 140h5v1h-5zM232 140h3v1h-3zM237 140h3v1h-3zM243 140h1v1h-1zM249 140h2v1h-2zM254 140h1v1h-1zM258 140h1v1h-1zM263 140h1v1h-1zM265 140h1v1h-1zM267 140h1v1h-1zM272 140h1v1h-1zM276 140h4v1h-4zM282 140h3v1h-3zM286 140h3v1h-3zM291 140h2v1h-2zM294 140h1v1h-1zM296 140h1v1h-1zM298 140h1v1h-1zM230 141h1v1h-1zM233 141h1v1h-1zM237 141h2v1h-2zM242 141h2v1h-2zM245 141h2v1h-2zM250 141h2v1h-2zM253 141h1v1h-1zM261 141h3v1h-3zM271 141h3v1h-3zM276 141h5v1h-5zM283 141h3v1h-3zM288 141h1v1h-1zM292 141h2v1h-2zM295 141h4v1h-4zM226 141h2v2h-2zM229 142h1v1h-1zM231 142h1v1h-1zM233 142h3v1h-3zM237 142h3v1h-3zM241 142h2v1h-2zM244 142h3v1h-3zM250 142h1v1h-1zM253 142h2v1h-2zM259 142h4v1h-4zM267 142h4v1h-4zM274 142h2v1h-2zM279 142h1v1h-1zM281 142h2v1h-2zM284 142h2v1h-2zM287 142h1v1h-1zM289 142h1v1h-1zM291 142h4v1h-4zM296 142h3v1h-3zM229 143h12v1h-12zM244 143h2v1h-2zM247 143h2v1h-2zM253 143h1v1h-1zM261 143h2v1h-2zM264 143h3v1h-3zM269 143h1v1h-1zM272 142h1v2h-1zM279 143h4v1h-4zM287 143h3v1h-3zM297 143h1v1h-1zM231 144h1v1h-1zM238 144h1v1h-1zM240 144h1v1h-1zM243 144h1v1h-1zM245 144h1v1h-1zM249 144h1v1h-1zM251 144h1v1h-1zM267 144h1v1h-1zM269 144h4v1h-4zM275 143h1v2h-1zM277 142h1v3h-1zM282 144h3v1h-3zM228 144h1v2h-1zM241 145h2v1h-2zM246 145h1v1h-1zM249 145h4v1h-4zM255 144h1v2h-1zM258 144h4v2h-4zM264 145h1v1h-1zM267 145h2v1h-2zM273 145h2v1h-2zM276 145h4v1h-4zM283 145h3v1h-3zM288 145h1v1h-1zM291 144h1v2h-1zM294 143h1v3h-1zM297 145h1v1h-1zM229 146h4v1h-4zM234 144h1v3h-1zM237 145h3v2h-3zM245 146h1v1h-1zM247 146h1v1h-1zM249 146h1v1h-1zM253 146h2v1h-2zM257 146h3v1h-3zM261 146h5v1h-5zM270 146h2v1h-2zM273 146h1v1h-1zM277 146h1v1h-1zM279 146h2v1h-2zM282 146h2v1h-2zM285 146h3v1h-3zM293 146h1v1h-1zM295 146h3v1h-3zM299 146h1v1h-1zM227 147h3v1h-3zM231 147h2v1h-2zM234 147h3v1h-3zM238 147h3v1h-3zM242 146h1v2h-1zM244 147h3v1h-3zM248 147h1v1h-1zM250 147h2v1h-2zM253 147h13v1h-13zM267 147h2v1h-2zM270 147h5v1h-5zM276 147h2v1h-2zM279 147h4v1h-4zM286 147h2v1h-2zM291 147h1v1h-1zM293 147h2v1h-2zM297 147h1v1h-1zM196 148h6v1h-6zM203 148h2v1h-2zM206 148h9v1h-9zM219 148h1v1h-1zM221 148h4v1h-4zM226 148h1v1h-1zM228 148h2v1h-2zM233 148h1v1h-1zM235 148h7v1h-7zM244 148h6v1h-6zM252 148h4v1h-4zM257 148h4v1h-4zM262 148h4v1h-4zM268 148h1v1h-1zM270 148h4v1h-4zM279 148h3v1h-3zM283 148h4v1h-4zM289 147h1v2h-1zM292 148h2v1h-2zM296 148h4v1h-4zM195 149h6v1h-6zM203 149h6v1h-6zM210 149h11v1h-11zM222 149h4v1h-4zM227 149h1v1h-1zM229 149h1v1h-1zM232 149h3v1h-3zM237 149h5v1h-5zM243 149h1v1h-1zM245 149h1v1h-1zM247 149h3v1h-3zM251 149h10v1h-10zM262 149h1v1h-1zM264 149h4v1h-4zM271 149h2v1h-2zM275 148h1v2h-1zM277 149h4v1h-4zM283 149h3v1h-3zM287 149h1v1h-1zM290 149h2v1h-2zM293 149h2v1h-2zM297 149h1v1h-1zM195 150h1v1h-1zM197 150h1v1h-1zM199 150h6v1h-6zM206 150h8v1h-8zM215 150h1v1h-1zM217 150h4v1h-4zM222 150h6v1h-6zM233 150h2v1h-2zM239 150h2v1h-2zM247 150h4v1h-4zM254 150h1v1h-1zM256 150h1v1h-1zM259 150h3v1h-3zM263 150h2v1h-2zM266 150h2v1h-2zM269 149h1v2h-1zM274 150h4v1h-4zM281 150h1v1h-1zM285 150h1v1h-1zM287 150h4v1h-4zM296 150h2v1h-2zM299 149h1v2h-1zM304 150h2v1h-2zM307 150h1v1h-1zM310 150h1v1h-1zM317 150h1v1h-1zM323 150h1v1h-1zM332 150h1v1h-1zM334 150h1v1h-1zM336 150h1v1h-1zM338 150h1v1h-1zM342 150h3v1h-3zM347 150h2v1h-2zM354 150h1v1h-1zM358 150h4v1h-4zM363 150h4v1h-4zM370 150h1v1h-1zM372 150h1v1h-1zM374 150h2v1h-2zM381 150h3v1h-3zM386 150h4v1h-4zM393 150h1v1h-1zM398 150h4v1h-4zM406 150h1v1h-1zM409 150h1v1h-1zM411 150h1v1h-1zM413 150h1v1h-1zM196 151h3v1h-3zM202 151h3v1h-3zM206 151h3v1h-3zM210 151h11v1h-11zM222 151h1v1h-1zM224 151h2v1h-2zM227 151h8v1h-8zM236 150h1v2h-1zM238 151h1v1h-1zM240 151h2v1h-2zM243 150h3v2h-3zM249 151h1v1h-1zM251 151h4v1h-4zM256 151h2v1h-2zM261 151h2v1h-2zM265 151h1v1h-1zM267 151h1v1h-1zM271 150h1v2h-1zM273 151h1v1h-1zM276 151h1v1h-1zM279 150h1v2h-1zM281 151h3v1h-3zM285 151h2v1h-2zM288 151h1v1h-1zM290 151h2v1h-2zM293 151h1v1h-1zM296 151h1v1h-1zM300 151h1v1h-1zM302 150h1v2h-1zM304 151h1v1h-1zM308 151h1v1h-1zM330 151h1v1h-1zM335 151h1v1h-1zM340 151h3v1h-3zM348 151h2v1h-2zM354 151h2v1h-2zM360 151h1v1h-1zM366 151h1v1h-1zM371 151h4v1h-4zM377 151h2v1h-2zM381 151h2v1h-2zM384 151h2v1h-2zM387 151h2v1h-2zM396 150h1v2h-1zM398 151h6v1h-6zM410 151h1v1h-1zM412 151h1v1h-1zM415 151h2v1h-2zM419 151h1v1h-1zM195 152h5v1h-5zM201 152h11v1h-11zM215 152h1v1h-1zM217 152h2v1h-2zM220 152h4v1h-4zM225 152h1v1h-1zM229 152h2v1h-2zM232 152h3v1h-3zM237 152h8v1h-8zM246 152h3v1h-3zM251 152h3v1h-3zM259 151h1v2h-1zM261 152h1v1h-1zM263 152h2v1h-2zM266 152h1v1h-1zM268 152h1v1h-1zM270 152h4v1h-4zM277 152h5v1h-5zM283 152h6v1h-6zM291 152h1v1h-1zM298 152h1v1h-1zM303 152h1v1h-1zM309 152h2v1h-2zM312 152h1v1h-1zM318 152h1v1h-1zM321 152h1v1h-1zM324 151h1v2h-1zM326 152h1v1h-1zM329 152h1v1h-1zM342 152h3v1h-3zM353 152h1v1h-1zM356 152h1v1h-1zM359 152h1v1h-1zM369 152h1v1h-1zM378 152h4v1h-4zM383 152h1v1h-1zM390 152h2v1h-2zM393 152h3v1h-3zM398 152h2v1h-2zM405 152h1v1h-1zM408 152h1v1h-1zM411 152h1v1h-1zM413 152h1v1h-1zM416 152h1v1h-1zM418 152h2v1h-2zM195 153h7v1h-7zM204 153h5v1h-5zM210 153h1v1h-1zM212 153h1v1h-1zM217 153h5v1h-5zM223 153h2v1h-2zM226 153h1v1h-1zM230 153h1v1h-1zM232 153h1v1h-1zM234 153h1v1h-1zM236 153h4v1h-4zM242 153h1v1h-1zM244 153h3v1h-3zM250 153h10v1h-10zM261 153h6v1h-6zM272 153h2v1h-2zM275 153h3v1h-3zM280 153h1v1h-1zM282 153h5v1h-5zM290 153h2v1h-2zM296 153h2v1h-2zM299 153h1v1h-1zM301 153h1v1h-1zM304 153h1v1h-1zM307 153h1v1h-1zM322 153h1v1h-1zM324 153h2v1h-2zM327 153h2v1h-2zM330 153h1v1h-1zM338 152h1v2h-1zM342 153h1v1h-1zM344 153h2v1h-2zM347 153h1v1h-1zM350 153h2v1h-2zM353 153h3v1h-3zM370 153h1v1h-1zM387 153h3v1h-3zM391 153h3v1h-3zM396 153h2v1h-2zM403 153h1v1h-1zM406 153h1v1h-1zM412 153h1v1h-1zM415 153h1v1h-1zM199 154h4v1h-4zM204 154h1v1h-1zM207 154h4v1h-4zM231 154h1v1h-1zM233 154h2v1h-2zM246 154h1v1h-1zM249 154h1v1h-1zM252 154h1v1h-1zM270 154h1v1h-1zM273 154h1v1h-1zM282 154h2v1h-2zM286 154h7v1h-7zM294 154h1v1h-1zM296 154h3v1h-3zM300 154h2v1h-2zM312 153h3v2h-3zM317 154h1v1h-1zM323 154h1v1h-1zM329 154h1v1h-1zM334 153h3v2h-3zM340 153h1v2h-1zM342 154h2v1h-2zM345 154h2v1h-2zM352 154h2v1h-2zM357 153h1v2h-1zM367 153h1v2h-1zM379 154h1v1h-1zM384 154h2v1h-2zM388 154h1v1h-1zM402 154h1v1h-1zM404 154h1v1h-1zM407 154h1v1h-1zM410 154h1v1h-1zM413 154h2v1h-2zM197 155h1v1h-1zM199 155h3v1h-3zM203 155h2v1h-2zM207 155h2v1h-2zM211 155h1v1h-1zM228 154h1v2h-1zM232 155h3v1h-3zM237 154h1v2h-1zM240 155h1v1h-1zM255 154h1v2h-1zM258 155h1v1h-1zM264 155h1v1h-1zM267 155h1v1h-1zM276 154h1v2h-1zM279 154h1v2h-1zM287 155h2v1h-2zM291 155h2v1h-2zM296 155h1v1h-1zM303 154h2v2h-2zM311 155h2v1h-2zM318 155h1v1h-1zM322 155h3v1h-3zM330 155h1v1h-1zM332 155h2v1h-2zM337 155h5v1h-5zM343 155h1v1h-1zM345 155h1v1h-1zM347 155h1v1h-1zM349 155h2v1h-2zM356 155h1v1h-1zM359 154h1v2h-1zM361 154h1v2h-1zM363 155h1v1h-1zM365 155h1v1h-1zM367 155h3v1h-3zM374 155h2v1h-2zM381 155h1v1h-1zM392 155h1v1h-1zM394 155h1v1h-1zM397 155h2v1h-2zM405 155h1v1h-1zM407 155h2v1h-2zM414 155h1v1h-1zM418 155h1v1h-1zM195 156h2v1h-2zM205 156h1v1h-1zM210 156h1v1h-1zM222 156h1v1h-1zM276 156h3v1h-3zM281 156h1v1h-1zM284 155h1v2h-1zM288 156h1v1h-1zM292 156h1v1h-1zM295 156h2v1h-2zM299 155h1v2h-1zM308 156h1v1h-1zM315 156h1v1h-1zM327 155h1v2h-1zM335 155h1v2h-1zM337 156h3v1h-3zM341 156h1v1h-1zM344 156h1v1h-1zM349 156h1v1h-1zM353 156h2v1h-2zM361 156h2v1h-2zM370 156h1v1h-1zM374 156h1v1h-1zM384 156h1v1h-1zM390 155h1v2h-1zM395 156h1v1h-1zM400 156h1v1h-1zM406 156h1v1h-1zM419 156h1v1h-1zM196 157h1v1h-1zM198 156h4v2h-4zM218 157h4v1h-4zM283 157h1v1h-1zM286 157h1v1h-1zM290 157h3v1h-3zM294 157h1v1h-1zM296 157h1v1h-1zM298 157h2v1h-2zM302 157h1v1h-1zM304 157h1v1h-1zM313 157h1v1h-1zM317 156h1v2h-1zM319 157h1v1h-1zM323 157h1v1h-1zM326 157h2v1h-2zM329 157h1v1h-1zM332 156h1v2h-1zM336 157h2v1h-2zM342 157h2v1h-2zM346 156h1v2h-1zM352 157h1v1h-1zM354 157h1v1h-1zM361 157h1v1h-1zM365 157h1v1h-1zM368 156h1v2h-1zM371 157h1v1h-1zM376 156h1v2h-1zM386 156h1v2h-1zM388 157h1v1h-1zM393 157h2v1h-2zM399 157h3v1h-3zM403 157h2v1h-2zM406 157h2v1h-2zM410 156h1v2h-1zM195 158h8v1h-8zM210 158h1v1h-1zM213 158h1v1h-1zM302 158h2v1h-2zM305 158h1v1h-1zM308 158h2v1h-2zM324 158h1v1h-1zM328 158h2v1h-2zM331 158h3v1h-3zM337 158h1v1h-1zM339 158h1v1h-1zM343 158h3v1h-3zM349 158h3v1h-3zM353 158h1v1h-1zM356 158h2v1h-2zM359 158h1v1h-1zM364 158h1v1h-1zM367 158h2v1h-2zM370 158h2v1h-2zM375 158h5v1h-5zM382 157h1v2h-1zM385 158h5v1h-5zM399 158h1v1h-1zM406 158h1v1h-1zM409 158h1v1h-1zM414 158h1v1h-1zM418 158h2v1h-2zM195 159h2v1h-2zM199 159h1v1h-1zM201 159h2v1h-2zM207 159h1v1h-1zM216 159h1v1h-1zM222 159h1v1h-1zM224 157h1v3h-1zM305 159h3v1h-3zM309 159h1v1h-1zM311 159h1v1h-1zM314 159h3v1h-3zM318 158h1v2h-1zM320 159h2v1h-2zM323 159h3v1h-3zM333 159h2v1h-2zM338 159h2v1h-2zM344 159h2v1h-2zM347 159h1v1h-1zM349 159h1v1h-1zM352 159h2v1h-2zM356 159h4v1h-4zM362 159h1v1h-1zM366 159h1v1h-1zM369 159h1v1h-1zM371 159h1v1h-1zM374 159h1v1h-1zM377 159h1v1h-1zM379 159h1v1h-1zM391 159h1v1h-1zM395 159h1v1h-1zM397 159h1v1h-1zM400 159h1v1h-1zM402 158h1v2h-1zM410 159h2v1h-2zM415 159h1v1h-1zM417 159h2v1h-2zM196 160h4v1h-4zM201 160h1v1h-1zM210 160h2v1h-2zM217 160h1v1h-1zM221 160h1v1h-1zM225 160h1v1h-1zM301 160h1v1h-1zM305 160h1v1h-1zM308 160h2v1h-2zM311 160h5v1h-5zM317 160h1v1h-1zM321 160h3v1h-3zM325 160h1v1h-1zM331 160h1v1h-1zM335 160h1v1h-1zM348 160h1v1h-1zM350 160h1v1h-1zM352 160h1v1h-1zM356 160h1v1h-1zM358 160h4v1h-4zM363 160h1v1h-1zM371 160h2v1h-2zM380 160h1v1h-1zM387 160h1v1h-1zM390 160h1v1h-1zM392 160h2v1h-2zM395 160h2v1h-2zM410 160h1v1h-1zM413 160h1v1h-1zM415 160h2v1h-2zM418 160h2v1h-2zM195 161h7v1h-7zM206 161h1v1h-1zM220 161h1v1h-1zM222 161h1v1h-1zM303 161h3v1h-3zM314 161h3v1h-3zM320 161h2v1h-2zM330 161h1v1h-1zM337 161h1v1h-1zM340 161h2v1h-2zM352 161h2v1h-2zM355 161h4v1h-4zM365 161h1v1h-1zM368 161h4v1h-4zM374 161h3v1h-3zM378 160h1v2h-1zM389 161h3v1h-3zM404 160h1v2h-1zM409 161h1v1h-1zM416 161h1v1h-1zM196 162h2v1h-2zM199 162h2v1h-2zM208 161h1v2h-1zM210 162h1v1h-1zM221 162h1v1h-1zM304 162h1v1h-1zM308 161h1v2h-1zM310 162h1v1h-1zM317 162h1v1h-1zM322 162h3v1h-3zM327 162h2v1h-2zM332 162h2v1h-2zM337 162h3v1h-3zM342 162h2v1h-2zM345 162h1v1h-1zM349 162h1v1h-1zM359 162h1v1h-1zM364 162h2v1h-2zM369 162h1v1h-1zM371 162h4v1h-4zM380 162h1v1h-1zM382 162h1v1h-1zM384 160h1v3h-1zM397 162h2v1h-2zM413 162h2v1h-2zM416 162h3v1h-3zM195 163h1v1h-1zM197 163h5v1h-5zM203 163h3v1h-3zM209 163h1v1h-1zM213 163h1v1h-1zM219 163h4v1h-4zM224 163h1v1h-1zM302 162h1v2h-1zM310 163h2v1h-2zM316 163h2v1h-2zM322 163h1v1h-1zM324 163h1v1h-1zM332 163h5v1h-5zM340 163h2v1h-2zM343 163h1v1h-1zM353 163h1v1h-1zM355 163h1v1h-1zM358 163h1v1h-1zM362 163h1v1h-1zM364 163h1v1h-1zM370 163h1v1h-1zM372 163h1v1h-1zM374 163h1v1h-1zM376 162h1v2h-1zM383 163h1v1h-1zM386 162h1v2h-1zM389 162h1v2h-1zM392 162h1v2h-1zM394 163h1v1h-1zM396 163h1v1h-1zM399 163h2v1h-2zM402 161h1v3h-1zM409 163h3v1h-3zM419 163h1v1h-1zM197 164h3v1h-3zM201 164h1v1h-1zM206 164h2v1h-2zM305 163h2v2h-2zM308 164h3v1h-3zM314 164h1v1h-1zM316 164h1v1h-1zM321 164h2v1h-2zM337 164h1v1h-1zM339 164h1v1h-1zM342 164h1v1h-1zM344 164h2v1h-2zM347 164h1v1h-1zM359 164h3v1h-3zM368 164h3v1h-3zM385 164h2v1h-2zM388 164h1v1h-1zM391 164h1v1h-1zM394 164h2v1h-2zM397 164h1v1h-1zM399 164h3v1h-3zM404 164h1v1h-1zM411 164h1v1h-1zM415 164h1v1h-1zM197 165h5v1h-5zM205 165h2v1h-2zM212 165h1v1h-1zM216 165h2v1h-2zM219 164h1v2h-1zM302 165h3v1h-3zM306 165h1v1h-1zM308 165h1v1h-1zM310 165h1v1h-1zM312 165h1v1h-1zM317 165h1v1h-1zM324 165h3v1h-3zM328 165h1v1h-1zM343 165h1v1h-1zM346 165h1v1h-1zM348 165h1v1h-1zM361 165h1v1h-1zM364 165h1v1h-1zM366 165h2v1h-2zM375 165h2v1h-2zM380 165h1v1h-1zM382 164h2v2h-2zM385 165h3v1h-3zM389 165h1v1h-1zM392 165h1v1h-1zM395 165h3v1h-3zM399 165h1v1h-1zM407 165h2v1h-2zM418 165h2v1h-2zM195 166h7v1h-7zM203 166h1v1h-1zM210 166h4v1h-4zM217 166h2v1h-2zM302 166h1v1h-1zM309 166h2v1h-2zM320 166h2v1h-2zM326 166h1v1h-1zM334 166h2v1h-2zM339 166h1v1h-1zM346 166h2v1h-2zM354 164h1v3h-1zM357 165h1v2h-1zM362 166h1v1h-1zM365 166h2v1h-2zM369 166h1v1h-1zM373 166h1v1h-1zM375 166h1v1h-1zM381 166h1v1h-1zM385 166h2v1h-2zM388 166h1v1h-1zM395 166h1v1h-1zM400 166h2v1h-2zM405 166h1v1h-1zM407 166h1v1h-1zM412 166h1v1h-1zM414 165h1v2h-1zM195 167h8v1h-8zM218 167h1v1h-1zM221 167h1v1h-1zM224 167h2v1h-2zM302 167h2v1h-2zM305 167h1v1h-1zM307 167h2v1h-2zM313 167h1v1h-1zM316 167h1v1h-1zM318 167h3v1h-3zM322 167h1v1h-1zM328 167h1v1h-1zM335 167h1v1h-1zM337 167h2v1h-2zM343 167h1v1h-1zM347 167h3v1h-3zM351 167h1v1h-1zM353 167h1v1h-1zM355 167h1v1h-1zM361 167h1v1h-1zM364 167h2v1h-2zM367 167h1v1h-1zM377 167h2v1h-2zM380 167h2v1h-2zM389 167h2v1h-2zM397 167h1v1h-1zM400 167h1v1h-1zM402 167h1v1h-1zM406 167h2v1h-2zM409 167h1v1h-1zM413 167h2v1h-2zM419 167h1v1h-1zM195 168h4v1h-4zM200 168h1v1h-1zM220 168h4v1h-4zM320 168h2v1h-2zM324 168h1v1h-1zM332 168h1v1h-1zM338 168h5v1h-5zM352 168h1v1h-1zM356 168h1v1h-1zM361 168h2v1h-2zM365 168h1v1h-1zM371 168h2v1h-2zM374 168h1v1h-1zM379 168h1v1h-1zM381 168h1v1h-1zM383 168h1v1h-1zM385 168h1v1h-1zM388 168h2v1h-2zM393 168h1v1h-1zM397 168h2v1h-2zM400 168h3v1h-3zM407 168h2v1h-2zM412 168h1v1h-1zM195 169h2v1h-2zM198 169h2v1h-2zM201 169h1v1h-1zM212 169h1v1h-1zM221 169h1v1h-1zM225 169h1v1h-1zM313 169h1v1h-1zM315 169h1v1h-1zM320 169h1v1h-1zM324 169h2v1h-2zM332 169h2v1h-2zM335 169h1v1h-1zM337 169h1v1h-1zM340 169h1v1h-1zM344 169h1v1h-1zM346 168h1v2h-1zM348 168h1v2h-1zM353 169h1v1h-1zM358 169h1v1h-1zM360 169h2v1h-2zM370 169h1v1h-1zM375 169h1v1h-1zM380 169h2v1h-2zM383 169h2v1h-2zM386 169h2v1h-2zM391 169h1v1h-1zM394 169h1v1h-1zM397 169h4v1h-4zM402 169h2v1h-2zM405 168h1v2h-1zM408 169h1v1h-1zM410 168h1v2h-1zM195 170h1v1h-1zM197 170h3v1h-3zM206 169h1v2h-1zM208 170h1v1h-1zM210 170h1v1h-1zM216 170h1v1h-1zM301 170h1v1h-1zM307 170h1v1h-1zM310 170h1v1h-1zM320 170h3v1h-3zM336 170h1v1h-1zM338 170h1v1h-1zM340 170h2v1h-2zM343 170h1v1h-1zM347 170h1v1h-1zM352 170h1v1h-1zM355 170h2v1h-2zM361 170h1v1h-1zM364 170h2v1h-2zM373 170h1v1h-1zM378 170h1v1h-1zM383 170h1v1h-1zM386 170h3v1h-3zM393 170h1v1h-1zM396 170h1v1h-1zM400 170h3v1h-3zM409 170h1v1h-1zM411 170h1v1h-1zM418 169h1v2h-1zM195 171h6v1h-6zM202 171h1v1h-1zM205 171h1v1h-1zM208 171h2v1h-2zM218 171h1v1h-1zM310 171h2v1h-2zM316 170h1v2h-1zM318 170h1v2h-1zM321 171h1v1h-1zM323 171h1v1h-1zM327 171h1v1h-1zM329 171h1v1h-1zM344 171h1v1h-1zM349 170h1v2h-1zM353 171h1v1h-1zM356 171h1v1h-1zM360 171h1v1h-1zM363 171h1v1h-1zM366 171h1v1h-1zM369 171h2v1h-2zM372 171h1v1h-1zM375 171h1v1h-1zM377 171h1v1h-1zM379 171h1v1h-1zM394 171h1v1h-1zM398 170h1v2h-1zM404 171h2v1h-2zM410 171h1v1h-1zM413 170h1v2h-1zM415 170h1v2h-1zM197 172h2v1h-2zM301 172h1v1h-1zM304 172h1v1h-1zM306 171h1v2h-1zM308 172h1v1h-1zM310 172h1v1h-1zM313 172h2v1h-2zM322 172h1v1h-1zM325 172h2v1h-2zM330 172h2v1h-2zM335 171h2v2h-2zM343 172h3v1h-3zM349 172h2v1h-2zM352 172h2v1h-2zM358 172h1v1h-1zM369 172h1v1h-1zM374 172h1v1h-1zM378 172h2v1h-2zM381 170h1v3h-1zM385 172h1v1h-1zM387 172h1v1h-1zM391 172h1v1h-1zM397 172h1v1h-1zM400 172h6v1h-6zM418 172h1v1h-1zM201 172h1v2h-1zM300 173h2v1h-2zM305 173h2v1h-2zM309 173h2v1h-2zM312 173h3v1h-3zM316 173h1v1h-1zM318 173h1v1h-1zM320 173h1v1h-1zM323 173h1v1h-1zM326 173h1v1h-1zM328 173h10v1h-10zM340 172h1v2h-1zM342 173h3v1h-3zM354 173h1v1h-1zM357 173h2v1h-2zM360 172h2v2h-2zM366 173h2v1h-2zM372 173h1v1h-1zM378 173h1v1h-1zM382 173h1v1h-1zM384 173h2v1h-2zM391 173h2v1h-2zM394 173h2v1h-2zM399 173h1v1h-1zM402 173h4v1h-4zM413 173h3v1h-3zM195 174h7v1h-7zM308 174h1v1h-1zM317 174h3v1h-3zM328 174h2v1h-2zM334 174h1v1h-1zM337 174h1v1h-1zM342 174h1v1h-1zM352 174h1v1h-1zM359 174h1v1h-1zM363 174h1v1h-1zM366 174h1v1h-1zM375 173h2v2h-2zM379 174h9v1h-9zM391 174h1v1h-1zM393 174h1v1h-1zM395 174h2v1h-2zM398 174h2v1h-2zM401 174h4v1h-4zM414 174h1v1h-1zM195 175h4v1h-4zM200 175h2v1h-2zM301 175h1v1h-1zM303 175h1v1h-1zM306 175h1v1h-1zM308 175h2v1h-2zM324 174h2v2h-2zM332 175h2v1h-2zM338 175h3v1h-3zM343 175h1v1h-1zM346 175h2v1h-2zM353 175h2v1h-2zM367 175h2v1h-2zM376 175h1v1h-1zM379 175h1v1h-1zM382 175h1v1h-1zM392 175h2v1h-2zM395 175h1v1h-1zM397 175h4v1h-4zM412 175h2v1h-2zM195 176h2v1h-2zM198 176h4v1h-4zM300 176h1v1h-1zM309 176h1v1h-1zM311 176h1v1h-1zM316 176h1v1h-1zM318 176h1v1h-1zM327 176h2v1h-2zM336 176h2v1h-2zM339 176h1v1h-1zM341 176h1v1h-1zM347 176h1v1h-1zM354 176h2v1h-2zM362 176h1v1h-1zM369 176h1v1h-1zM371 174h1v3h-1zM373 175h2v2h-2zM379 176h3v1h-3zM383 176h2v1h-2zM386 176h1v1h-1zM391 176h1v1h-1zM393 176h1v1h-1zM405 175h1v2h-1zM410 176h2v1h-2zM415 176h1v1h-1zM418 176h1v1h-1zM195 177h5v1h-5zM302 177h1v1h-1zM304 177h1v1h-1zM315 177h1v1h-1zM318 177h2v1h-2zM322 177h1v1h-1zM324 176h1v2h-1zM332 177h2v1h-2zM335 177h1v1h-1zM338 177h1v1h-1zM340 177h1v1h-1zM348 177h1v1h-1zM352 177h1v1h-1zM356 177h2v1h-2zM362 177h3v1h-3zM367 177h1v1h-1zM373 177h1v1h-1zM378 177h2v1h-2zM388 175h1v3h-1zM391 177h2v1h-2zM397 177h3v1h-3zM402 177h1v1h-1zM406 177h1v1h-1zM408 177h2v1h-2zM413 177h3v1h-3zM196 178h4v1h-4zM201 177h1v2h-1zM303 178h1v1h-1zM306 178h1v1h-1zM323 178h1v1h-1zM325 178h1v1h-1zM327 178h2v1h-2zM332 178h3v1h-3zM336 178h2v1h-2zM342 178h2v1h-2zM347 178h2v1h-2zM350 176h1v3h-1zM354 178h1v1h-1zM356 178h1v1h-1zM360 178h4v1h-4zM365 178h2v1h-2zM369 178h1v1h-1zM375 178h1v1h-1zM377 178h2v1h-2zM382 178h1v1h-1zM391 178h1v1h-1zM394 177h2v2h-2zM404 178h1v1h-1zM407 178h1v1h-1zM410 178h1v1h-1zM412 178h1v1h-1zM414 178h1v1h-1zM195 179h7v1h-7zM302 179h2v1h-2zM307 179h1v1h-1zM310 179h2v1h-2zM317 178h2v2h-2zM323 179h2v1h-2zM329 179h1v1h-1zM336 179h1v1h-1zM338 179h1v1h-1zM343 179h1v1h-1zM348 179h1v1h-1zM351 179h1v1h-1zM364 179h1v1h-1zM368 179h1v1h-1zM370 179h1v1h-1zM372 178h1v2h-1zM374 179h7v1h-7zM387 179h1v1h-1zM395 179h1v1h-1zM400 179h1v1h-1zM402 179h4v1h-4zM409 179h1v1h-1zM412 179h4v1h-4zM195 180h4v1h-4zM305 180h1v1h-1zM312 180h2v1h-2zM333 180h1v1h-1zM335 180h3v1h-3zM339 180h1v1h-1zM344 180h1v1h-1zM349 180h1v1h-1zM351 180h2v1h-2zM354 180h2v1h-2zM357 180h1v1h-1zM360 180h1v1h-1zM363 180h1v1h-1zM365 180h1v1h-1zM367 180h3v1h-3zM371 180h2v1h-2zM374 180h1v1h-1zM385 180h2v1h-2zM389 180h2v1h-2zM393 180h1v1h-1zM401 180h1v1h-1zM403 180h2v1h-2zM415 180h1v1h-1zM196 181h3v1h-3zM201 180h1v2h-1zM307 181h1v1h-1zM311 181h5v1h-5zM319 180h1v2h-1zM328 181h1v1h-1zM335 181h1v1h-1zM361 181h1v1h-1zM368 181h1v1h-1zM383 181h1v1h-1zM387 181h2v1h-2zM394 181h1v1h-1zM396 181h1v1h-1zM404 181h2v1h-2zM414 181h2v1h-2zM418 181h1v1h-1zM195 182h1v1h-1zM197 182h5v1h-5zM310 182h2v1h-2zM315 182h2v1h-2zM320 182h2v1h-2zM323 181h1v2h-1zM334 182h2v1h-2zM341 182h1v1h-1zM350 182h2v1h-2zM365 182h1v1h-1zM367 182h1v1h-1zM373 182h1v1h-1zM375 182h2v1h-2zM382 182h2v1h-2zM386 182h4v1h-4zM392 182h1v1h-1zM397 182h1v1h-1zM402 182h2v1h-2zM411 182h3v1h-3zM415 182h1v1h-1zM195 183h7v1h-7zM301 183h1v1h-1zM303 183h1v1h-1zM306 183h2v1h-2zM309 183h1v1h-1zM313 183h1v1h-1zM322 183h1v1h-1zM333 183h2v1h-2zM336 183h1v1h-1zM338 183h1v1h-1zM343 183h2v1h-2zM355 183h2v1h-2zM358 183h1v1h-1zM360 182h1v2h-1zM363 183h2v1h-2zM366 183h1v1h-1zM369 183h1v1h-1zM371 183h1v1h-1zM374 183h2v1h-2zM379 183h1v1h-1zM383 183h3v1h-3zM387 183h1v1h-1zM394 183h1v1h-1zM396 183h1v1h-1zM405 183h1v1h-1zM408 183h2v1h-2zM413 183h2v1h-2zM300 184h1v1h-1zM308 184h2v1h-2zM311 183h1v2h-1zM313 184h2v1h-2zM317 184h4v1h-4zM322 184h2v1h-2zM325 184h1v1h-1zM332 184h4v1h-4zM340 184h1v1h-1zM347 183h1v2h-1zM351 184h3v1h-3zM356 184h2v1h-2zM360 184h2v1h-2zM365 184h1v1h-1zM368 184h1v1h-1zM370 184h2v1h-2zM373 184h1v1h-1zM375 184h1v1h-1zM377 184h5v1h-5zM385 184h2v1h-2zM388 184h1v1h-1zM393 184h3v1h-3zM398 183h1v2h-1zM400 184h1v1h-1zM413 184h1v1h-1zM415 184h1v1h-1zM301 185h1v1h-1zM307 185h2v1h-2zM310 185h2v1h-2zM313 185h1v1h-1zM319 185h1v1h-1zM324 185h2v1h-2zM329 185h1v1h-1zM332 185h1v1h-1zM334 185h2v1h-2zM337 185h1v1h-1zM339 185h3v1h-3zM344 184h1v2h-1zM347 185h3v1h-3zM356 185h1v1h-1zM360 185h1v1h-1zM362 185h1v1h-1zM367 185h3v1h-3zM378 185h2v1h-2zM385 185h1v1h-1zM389 185h1v1h-1zM391 185h1v1h-1zM397 185h4v1h-4zM404 184h1v2h-1zM408 185h1v1h-1zM410 184h1v2h-1zM418 185h1v1h-1zM103 250h1v1h-1zM106 250h1v1h-1zM114 250h1v1h-1zM227 250h1v1h-1zM229 250h1v1h-1zM231 250h1v1h-1zM236 250h1v1h-1zM238 250h2v1h-2zM242 250h2v1h-2zM246 250h3v1h-3zM255 250h1v1h-1zM258 250h1v1h-1zM122 251h1v1h-1zM134 250h1v2h-1zM228 251h2v1h-2zM234 250h1v2h-1zM239 251h2v1h-2zM245 251h4v1h-4zM250 251h1v1h-1zM252 251h2v1h-2zM258 251h2v1h-2zM105 252h1v1h-1zM130 252h1v1h-1zM138 252h1v1h-1zM142 251h1v2h-1zM154 250h1v3h-1zM228 252h1v1h-1zM232 252h1v1h-1zM240 252h1v1h-1zM243 251h1v2h-1zM246 252h1v1h-1zM255 252h1v1h-1zM101 252h1v2h-1zM104 253h1v1h-1zM122 253h1v1h-1zM126 253h1v1h-1zM146 251h1v3h-1zM231 253h2v1h-2zM242 253h1v1h-1zM247 253h1v1h-1zM250 253h1v1h-1zM105 254h1v1h-1zM134 254h1v1h-1zM231 254h1v1h-1zM234 253h1v2h-1zM243 254h1v1h-1zM246 254h1v1h-1zM255 254h1v1h-1zM257 254h2v1h-2zM106 255h1v1h-1zM122 255h1v1h-1zM130 254h1v2h-1zM138 254h1v2h-1zM146 255h1v1h-1zM159 254h1v2h-1zM236 255h1v1h-1zM241 255h1v1h-1zM247 255h1v1h-1zM249 254h1v2h-1zM254 255h2v1h-2zM100 255h1v2h-1zM104 256h1v1h-1zM161 256h1v1h-1zM163 256h1v1h-1zM165 256h1v1h-1zM167 256h1v1h-1zM170 256h1v1h-1zM176 256h2v1h-2zM180 256h1v1h-1zM187 256h1v1h-1zM190 256h1v1h-1zM228 255h1v2h-1zM231 256h1v1h-1zM239 253h1v4h-1zM243 256h2v1h-2zM246 256h1v1h-1zM249 256h2v1h-2zM253 256h1v1h-1zM255 256h1v1h-1zM102 257h1v1h-1zM105 257h1v1h-1zM122 257h1v1h-1zM169 257h1v1h-1zM172 257h1v1h-1zM174 257h1v1h-1zM177 257h1v1h-1zM182 256h1v2h-1zM184 257h1v1h-1zM238 257h1v1h-1zM242 257h1v1h-1zM250 257h1v1h-1zM257 257h1v1h-1zM101 258h3v1h-3zM109 258h2v1h-2zM112 258h2v1h-2zM129 258h1v1h-1zM133 258h1v1h-1zM143 258h1v1h-1zM152 258h1v1h-1zM154 258h1v1h-1zM237 258h3v1h-3zM258 258h1v1h-1zM100 259h1v1h-1zM102 259h1v1h-1zM105 259h2v1h-2zM108 259h1v1h-1zM158 258h1v2h-1zM230 259h1v1h-1zM233 259h3v1h-3zM239 259h1v1h-1zM241 259h3v1h-3zM249 259h1v1h-1zM253 259h1v1h-1zM256 259h1v1h-1zM259 259h1v1h-1zM107 260h1v1h-1zM121 260h1v1h-1zM128 260h1v1h-1zM154 260h2v1h-2zM161 260h2v1h-2zM164 260h1v1h-1zM171 260h1v1h-1zM177 260h2v1h-2zM180 260h1v1h-1zM182 260h1v1h-1zM184 260h1v1h-1zM189 260h2v1h-2zM228 259h1v2h-1zM233 260h1v1h-1zM243 260h1v1h-1zM251 260h1v1h-1zM255 260h3v1h-3zM104 261h1v1h-1zM117 261h3v1h-3zM127 261h2v1h-2zM137 261h1v1h-1zM139 261h4v1h-4zM146 260h1v2h-1zM148 260h1v2h-1zM163 261h1v1h-1zM171 261h2v1h-2zM174 260h1v2h-1zM179 261h1v1h-1zM183 261h1v1h-1zM186 260h1v2h-1zM189 261h1v1h-1zM192 260h1v2h-1zM234 261h1v1h-1zM240 261h1v1h-1zM244 261h2v1h-2zM249 261h1v1h-1zM255 261h1v1h-1zM257 261h1v1h-1zM102 261h1v2h-1zM134 262h1v1h-1zM136 262h1v1h-1zM147 262h1v1h-1zM149 262h1v1h-1zM154 262h3v1h-3zM163 262h2v1h-2zM228 262h1v1h-1zM246 262h1v1h-1zM100 263h1v1h-1zM104 263h1v1h-1zM114 263h1v1h-1zM116 262h1v2h-1zM133 263h1v1h-1zM137 263h1v1h-1zM144 263h3v1h-3zM154 263h1v1h-1zM163 263h1v1h-1zM230 263h1v1h-1zM234 263h1v1h-1zM243 262h1v2h-1zM245 263h1v1h-1zM251 263h1v1h-1zM254 263h2v1h-2zM101 264h1v1h-1zM107 264h4v1h-4zM117 264h1v1h-1zM123 264h2v1h-2zM127 264h1v1h-1zM130 264h1v1h-1zM134 264h1v1h-1zM136 264h1v1h-1zM140 262h1v3h-1zM146 264h1v1h-1zM149 264h1v1h-1zM151 264h1v1h-1zM156 264h1v1h-1zM169 264h1v1h-1zM172 264h5v1h-5zM178 264h1v1h-1zM180 264h2v1h-2zM185 264h1v1h-1zM239 264h1v1h-1zM243 264h2v1h-2zM248 263h2v2h-2zM251 264h4v1h-4zM105 265h2v1h-2zM112 264h1v2h-1zM116 265h1v1h-1zM120 265h3v1h-3zM125 265h1v1h-1zM133 265h1v1h-1zM139 265h1v1h-1zM144 264h1v2h-1zM160 265h1v1h-1zM164 265h1v1h-1zM170 265h2v1h-2zM182 265h1v1h-1zM184 265h1v1h-1zM226 265h1v1h-1zM248 265h1v1h-1zM250 265h1v1h-1zM257 265h1v1h-1zM100 266h1v1h-1zM106 266h1v1h-1zM108 266h2v1h-2zM112 266h2v1h-2zM117 266h1v1h-1zM128 266h1v1h-1zM131 266h1v1h-1zM133 266h2v1h-2zM146 266h1v1h-1zM149 266h2v1h-2zM152 266h1v1h-1zM158 266h1v1h-1zM179 266h1v1h-1zM185 266h1v1h-1zM191 266h1v1h-1zM237 265h1v2h-1zM244 266h1v1h-1zM249 266h1v1h-1zM252 266h2v1h-2zM255 265h1v2h-1zM106 267h2v1h-2zM109 267h1v1h-1zM113 267h2v1h-2zM116 267h5v1h-5zM125 267h1v1h-1zM129 267h1v1h-1zM133 267h1v1h-1zM139 267h1v1h-1zM143 267h1v1h-1zM149 267h1v1h-1zM151 267h1v1h-1zM156 267h2v1h-2zM162 267h1v1h-1zM175 265h1v3h-1zM182 267h3v1h-3zM187 264h1v4h-1zM231 267h1v1h-1zM238 267h3v1h-3zM244 267h2v1h-2zM248 267h1v1h-1zM252 267h1v1h-1zM103 268h1v1h-1zM107 268h2v1h-2zM115 268h1v1h-1zM124 268h1v1h-1zM128 268h1v1h-1zM133 268h2v1h-2zM148 268h2v1h-2zM154 268h1v1h-1zM158 268h1v1h-1zM169 268h1v1h-1zM173 268h2v1h-2zM188 268h1v1h-1zM238 268h1v1h-1zM243 268h1v1h-1zM249 268h1v1h-1zM251 268h1v1h-1zM253 268h1v1h-1zM255 268h1v1h-1zM101 269h1v1h-1zM104 269h1v1h-1zM107 269h1v1h-1zM113 269h1v1h-1zM128 269h2v1h-2zM144 268h1v2h-1zM174 269h1v1h-1zM179 269h1v1h-1zM185 269h2v1h-2zM189 269h1v1h-1zM228 269h1v1h-1zM240 269h1v1h-1zM242 269h1v1h-1zM247 269h1v1h-1zM256 269h1v1h-1zM102 270h1v1h-1zM108 270h1v1h-1zM119 270h2v1h-2zM122 270h1v1h-1zM124 270h1v1h-1zM129 270h1v1h-1zM135 270h2v1h-2zM138 270h1v1h-1zM145 270h2v1h-2zM161 270h1v1h-1zM163 270h2v1h-2zM166 270h2v1h-2zM171 269h1v2h-1zM173 270h4v1h-4zM178 270h2v1h-2zM182 270h2v1h-2zM190 270h1v1h-1zM226 270h1v1h-1zM231 270h1v1h-1zM234 270h1v1h-1zM236 270h2v1h-2zM241 270h1v1h-1zM246 270h1v1h-1zM251 270h1v1h-1zM104 271h1v1h-1zM108 271h2v1h-2zM127 271h1v1h-1zM129 271h2v1h-2zM133 271h1v1h-1zM137 271h3v1h-3zM144 271h3v1h-3zM152 271h1v1h-1zM155 271h3v1h-3zM168 271h2v1h-2zM173 271h1v1h-1zM175 271h2v1h-2zM180 271h1v1h-1zM185 271h2v1h-2zM188 271h2v1h-2zM228 271h1v1h-1zM230 271h1v1h-1zM237 271h1v1h-1zM239 271h1v1h-1zM244 271h3v1h-3zM248 270h1v2h-1zM254 271h1v1h-1zM103 272h1v1h-1zM105 272h2v1h-2zM108 272h1v1h-1zM116 271h1v2h-1zM124 272h3v1h-3zM130 272h3v1h-3zM136 272h1v1h-1zM141 270h1v3h-1zM153 272h1v1h-1zM160 272h3v1h-3zM164 271h1v2h-1zM166 271h1v2h-1zM171 272h4v1h-4zM181 272h3v1h-3zM185 272h1v1h-1zM192 272h1v1h-1zM232 272h1v1h-1zM235 272h1v1h-1zM246 272h2v1h-2zM254 272h2v1h-2zM258 271h1v2h-1zM100 273h1v1h-1zM104 273h2v1h-2zM109 273h3v1h-3zM114 273h1v1h-1zM121 273h1v1h-1zM127 273h1v1h-1zM132 273h1v1h-1zM134 273h3v1h-3zM139 273h2v1h-2zM143 273h1v1h-1zM147 272h1v2h-1zM158 273h2v1h-2zM162 273h1v1h-1zM169 273h1v1h-1zM173 273h1v1h-1zM181 273h1v1h-1zM189 273h1v1h-1zM229 272h1v2h-1zM231 273h1v1h-1zM234 273h1v1h-1zM240 273h1v1h-1zM247 273h2v1h-2zM252 273h1v1h-1zM256 273h4v1h-4zM100 274h3v1h-3zM104 274h1v1h-1zM106 274h1v1h-1zM113 274h1v1h-1zM128 274h1v1h-1zM131 274h1v1h-1zM133 274h1v1h-1zM141 274h1v1h-1zM147 274h2v1h-2zM152 274h2v1h-2zM158 274h1v1h-1zM161 274h1v1h-1zM163 274h4v1h-4zM176 274h1v1h-1zM179 274h1v1h-1zM182 274h3v1h-3zM187 272h1v3h-1zM192 274h1v1h-1zM226 274h1v1h-1zM229 274h4v1h-4zM239 274h1v1h-1zM242 274h1v1h-1zM250 274h1v1h-1zM109 275h1v1h-1zM116 274h1v2h-1zM126 274h1v2h-1zM132 275h1v1h-1zM134 275h1v1h-1zM138 274h1v2h-1zM144 274h1v2h-1zM148 275h1v1h-1zM153 275h1v1h-1zM156 275h2v1h-2zM171 275h2v1h-2zM175 275h1v1h-1zM178 275h1v1h-1zM181 275h1v1h-1zM186 275h1v1h-1zM188 275h2v1h-2zM238 275h1v1h-1zM241 275h1v1h-1zM249 275h3v1h-3zM254 275h1v1h-1zM104 276h1v1h-1zM113 276h3v1h-3zM117 276h4v1h-4zM123 276h1v1h-1zM131 276h1v1h-1zM133 276h1v1h-1zM142 276h1v1h-1zM145 276h1v1h-1zM148 276h2v1h-2zM151 276h2v1h-2zM156 276h1v1h-1zM158 276h3v1h-3zM162 276h1v1h-1zM167 276h1v1h-1zM171 276h1v1h-1zM177 276h3v1h-3zM185 276h2v1h-2zM190 276h1v1h-1zM192 276h1v1h-1zM227 275h1v2h-1zM231 276h6v1h-6zM243 275h1v2h-1zM245 276h1v1h-1zM250 276h1v1h-1zM252 276h1v1h-1zM255 276h1v1h-1zM257 276h1v1h-1zM100 277h1v1h-1zM109 277h1v1h-1zM111 276h1v2h-1zM114 277h1v1h-1zM116 277h1v1h-1zM120 277h1v1h-1zM125 277h2v1h-2zM128 277h2v1h-2zM143 277h1v1h-1zM146 277h1v1h-1zM149 277h1v1h-1zM153 277h1v1h-1zM161 277h1v1h-1zM166 277h1v1h-1zM170 277h1v1h-1zM176 277h2v1h-2zM186 277h1v1h-1zM189 277h1v1h-1zM234 277h2v1h-2zM238 277h2v1h-2zM101 278h1v1h-1zM105 278h1v1h-1zM107 278h2v1h-2zM145 278h1v1h-1zM226 278h1v1h-1zM230 278h1v1h-1zM232 278h4v1h-4zM237 278h1v1h-1zM244 278h2v1h-2zM255 278h1v1h-1zM259 278h1v1h-1zM100 279h1v1h-1zM103 279h2v1h-2zM108 279h1v1h-1zM131 279h1v1h-1zM146 279h1v1h-1zM231 279h1v1h-1zM253 279h1v1h-1zM256 279h1v1h-1zM112 279h1v2h-1zM114 280h2v1h-2zM121 279h1v2h-1zM125 280h2v1h-2zM129 280h1v1h-1zM133 280h1v1h-1zM136 280h1v1h-1zM140 280h1v1h-1zM143 280h5v1h-5zM163 280h1v1h-1zM167 280h1v1h-1zM175 280h2v1h-2zM180 280h2v1h-2zM184 280h1v1h-1zM227 280h1v1h-1zM232 280h1v1h-1zM240 280h1v1h-1zM252 280h1v1h-1zM254 280h3v1h-3zM100 281h1v1h-1zM102 281h2v1h-2zM105 281h2v1h-2zM112 281h2v1h-2zM116 281h2v1h-2zM122 281h2v1h-2zM128 281h2v1h-2zM132 281h2v1h-2zM137 281h1v1h-1zM145 281h3v1h-3zM149 281h1v1h-1zM153 281h1v1h-1zM156 280h1v2h-1zM178 281h1v1h-1zM181 281h1v1h-1zM186 280h1v2h-1zM192 281h1v1h-1zM229 281h1v1h-1zM234 280h1v2h-1zM239 281h2v1h-2zM242 281h1v1h-1zM255 281h5v1h-5zM104 282h1v1h-1zM110 282h1v1h-1zM118 282h2v1h-2zM124 282h1v1h-1zM127 282h1v1h-1zM140 282h3v1h-3zM145 282h2v1h-2zM151 282h1v1h-1zM156 282h4v1h-4zM161 282h2v1h-2zM164 282h1v1h-1zM186 282h3v1h-3zM190 281h1v2h-1zM227 282h2v1h-2zM231 282h2v1h-2zM240 282h1v1h-1zM248 282h2v1h-2zM251 282h1v1h-1zM104 283h2v1h-2zM112 283h2v1h-2zM115 282h1v2h-1zM117 283h1v1h-1zM120 283h2v1h-2zM126 283h1v1h-1zM130 282h1v2h-1zM139 283h1v1h-1zM154 283h2v1h-2zM157 283h1v1h-1zM160 283h4v1h-4zM165 283h1v1h-1zM169 283h2v1h-2zM172 282h2v2h-2zM175 283h1v1h-1zM177 282h1v2h-1zM180 282h1v2h-1zM184 283h1v1h-1zM192 283h1v1h-1zM232 283h1v1h-1zM236 281h1v3h-1zM245 283h1v1h-1zM252 283h1v1h-1zM258 282h1v2h-1zM103 284h1v1h-1zM105 284h1v1h-1zM109 284h1v1h-1zM116 284h1v1h-1zM120 284h1v1h-1zM131 284h2v1h-2zM139 284h2v1h-2zM152 284h3v1h-3zM158 284h2v1h-2zM161 284h1v1h-1zM167 284h3v1h-3zM175 284h3v1h-3zM179 284h2v1h-2zM183 284h1v1h-1zM191 284h2v1h-2zM227 283h1v2h-1zM234 284h1v1h-1zM247 284h3v1h-3zM102 285h1v1h-1zM106 285h2v1h-2zM111 285h1v1h-1zM113 284h1v2h-1zM117 285h1v1h-1zM119 285h1v1h-1zM121 285h1v1h-1zM127 285h1v1h-1zM132 285h1v1h-1zM135 285h1v1h-1zM138 285h2v1h-2zM145 284h1v2h-1zM149 285h1v1h-1zM159 285h3v1h-3zM165 285h1v1h-1zM173 285h3v1h-3zM186 285h1v1h-1zM190 285h3v1h-3zM229 285h1v1h-1zM239 285h1v1h-1zM243 285h1v1h-1zM246 285h1v1h-1zM252 285h1v1h-1zM257 285h1v1h-1zM259 285h1v1h-1zM100 285h1v2h-1zM108 286h1v1h-1zM114 286h1v1h-1zM128 286h1v1h-1zM133 286h1v1h-1zM139 286h1v1h-1zM141 286h2v1h-2zM144 286h1v1h-1zM227 286h2v1h-2zM231 286h1v1h-1zM237 286h1v1h-1zM250 286h1v1h-1zM107 287h1v1h-1zM116 287h1v1h-1zM124 287h1v1h-1zM140 287h2v1h-2zM149 287h1v1h-1zM227 287h1v1h-1zM235 287h3v1h-3zM241 285h1v3h-1zM255 287h5v1h-5zM101 288h1v1h-1zM103 287h1v2h-1zM105 288h1v1h-1zM108 288h1v1h-1zM117 288h1v1h-1zM121 288h1v1h-1zM135 288h1v1h-1zM138 288h2v1h-2zM142 288h4v1h-4zM147 288h1v1h-1zM156 288h3v1h-3zM162 288h1v1h-1zM166 288h1v1h-1zM172 288h1v1h-1zM181 288h1v1h-1zM192 288h1v1h-1zM228 288h1v1h-1zM237 288h4v1h-4zM243 288h1v1h-1zM247 287h1v2h-1zM252 288h1v1h-1zM255 288h2v1h-2zM112 289h1v1h-1zM116 289h1v1h-1zM124 289h2v1h-2zM132 288h1v2h-1zM136 289h1v1h-1zM143 289h1v1h-1zM161 289h1v1h-1zM164 288h1v2h-1zM167 289h1v1h-1zM170 289h2v1h-2zM176 289h1v1h-1zM186 288h1v2h-1zM191 289h2v1h-2zM226 288h1v2h-1zM230 288h1v2h-1zM232 289h1v1h-1zM234 289h3v1h-3zM239 289h3v1h-3zM246 289h2v1h-2zM101 290h1v1h-1zM104 290h2v1h-2zM107 290h1v1h-1zM113 290h1v1h-1zM127 290h1v1h-1zM129 287h1v4h-1zM133 290h1v1h-1zM140 290h1v1h-1zM152 290h1v1h-1zM156 290h1v1h-1zM168 290h3v1h-3zM180 289h1v2h-1zM183 290h1v1h-1zM191 290h1v1h-1zM231 290h3v1h-3zM248 290h1v1h-1zM250 290h1v1h-1zM259 290h1v1h-1zM100 291h1v1h-1zM106 291h1v1h-1zM108 291h2v1h-2zM115 291h2v1h-2zM118 291h1v1h-1zM123 291h1v1h-1zM126 291h3v1h-3zM130 291h3v1h-3zM144 291h2v1h-2zM149 291h1v1h-1zM151 291h1v1h-1zM155 291h1v1h-1zM157 291h1v1h-1zM160 290h1v2h-1zM164 291h2v1h-2zM169 291h1v1h-1zM176 291h1v1h-1zM178 290h1v2h-1zM184 291h1v1h-1zM186 291h1v1h-1zM189 290h1v2h-1zM226 291h2v1h-2zM229 290h1v2h-1zM231 291h1v1h-1zM238 290h1v2h-1zM242 290h1v2h-1zM245 291h1v1h-1zM256 290h1v2h-1zM53 305h1v1h-1zM55 305h1v1h-1zM79 305h1v1h-1zM83 305h1v1h-1zM92 305h2v1h-2zM96 305h1v1h-1zM104 305h1v1h-1zM111 305h1v1h-1zM119 305h1v1h-1zM124 305h1v1h-1zM138 305h1v1h-1zM153 305h1v1h-1zM158 305h2v1h-2zM162 305h1v1h-1zM179 305h1v1h-1zM193 305h2v1h-2zM211 305h1v1h-1zM217 305h1v1h-1zM222 305h1v1h-1zM224 305h1v1h-1zM232 305h2v1h-2zM242 305h1v1h-1zM244 305h1v1h-1zM255 305h1v1h-1zM257 305h1v1h-1zM261 305h2v1h-2zM278 305h1v1h-1zM46 306h1v1h-1zM60 306h1v1h-1zM63 305h1v2h-1zM65 306h1v1h-1zM69 305h1v2h-1zM71 306h1v1h-1zM74 306h1v1h-1zM92 306h1v1h-1zM100 306h1v1h-1zM106 306h2v1h-2zM119 306h2v1h-2zM125 306h1v1h-1zM127 305h1v2h-1zM131 306h1v1h-1zM134 306h1v1h-1zM142 306h2v1h-2zM146 305h1v2h-1zM152 306h1v1h-1zM172 306h1v1h-1zM174 306h1v1h-1zM181 306h1v1h-1zM197 306h1v1h-1zM199 305h1v2h-1zM204 306h1v1h-1zM214 306h1v1h-1zM221 306h1v1h-1zM232 306h1v1h-1zM241 306h2v1h-2zM247 306h1v1h-1zM249 306h1v1h-1zM260 306h1v1h-1zM276 306h1v1h-1zM286 305h1v2h-1zM52 307h1v1h-1zM58 307h1v1h-1zM71 307h2v1h-2zM78 307h1v1h-1zM82 307h1v1h-1zM89 307h1v1h-1zM93 307h1v1h-1zM96 307h1v1h-1zM98 306h1v2h-1zM122 307h1v1h-1zM129 307h2v1h-2zM132 307h1v1h-1zM171 307h1v1h-1zM177 307h1v1h-1zM180 307h1v1h-1zM182 307h1v1h-1zM186 307h1v1h-1zM207 307h2v1h-2zM213 307h1v1h-1zM229 307h2v1h-2zM234 307h1v1h-1zM241 307h1v1h-1zM248 307h1v1h-1zM251 307h2v1h-2zM259 307h1v1h-1zM262 307h1v1h-1zM271 307h1v1h-1zM283 307h1v1h-1zM54 307h1v2h-1zM61 308h2v1h-2zM65 308h1v1h-1zM80 307h1v2h-1zM88 308h2v1h-2zM91 308h2v1h-2zM95 308h2v1h-2zM102 307h1v2h-1zM123 308h1v1h-1zM138 308h1v1h-1zM140 308h2v1h-2zM145 308h2v1h-2zM148 308h2v1h-2zM151 308h1v1h-1zM155 306h1v3h-1zM157 308h1v1h-1zM160 307h2v2h-2zM163 307h1v2h-1zM170 308h1v1h-1zM176 308h1v1h-1zM178 308h2v1h-2zM183 308h1v1h-1zM203 308h1v1h-1zM208 308h1v1h-1zM216 308h1v1h-1zM218 307h1v2h-1zM236 306h1v3h-1zM246 308h1v1h-1zM265 308h1v1h-1zM285 307h1v2h-1zM46 309h1v1h-1zM49 309h2v1h-2zM53 309h1v1h-1zM59 309h1v1h-1zM62 309h1v1h-1zM65 309h2v1h-2zM74 309h2v1h-2zM78 309h1v1h-1zM82 309h1v1h-1zM84 309h2v1h-2zM90 309h2v1h-2zM93 309h1v1h-1zM109 309h1v1h-1zM112 309h3v1h-3zM117 309h1v1h-1zM125 308h1v2h-1zM127 309h1v1h-1zM141 309h1v1h-1zM149 309h1v1h-1zM174 309h1v1h-1zM180 309h1v1h-1zM185 309h1v1h-1zM199 309h1v1h-1zM202 309h1v1h-1zM211 309h1v1h-1zM221 309h1v1h-1zM227 309h1v1h-1zM253 309h1v1h-1zM256 309h1v1h-1zM266 309h1v1h-1zM51 310h1v1h-1zM60 310h1v1h-1zM64 310h1v1h-1zM70 310h1v1h-1zM97 310h1v1h-1zM115 310h1v1h-1zM121 310h1v1h-1zM124 310h2v1h-2zM132 309h1v2h-1zM135 310h1v1h-1zM139 310h1v1h-1zM165 310h2v1h-2zM169 310h1v1h-1zM175 310h1v1h-1zM201 310h1v1h-1zM215 310h2v1h-2zM220 310h1v1h-1zM229 310h1v1h-1zM231 310h1v1h-1zM242 310h1v1h-1zM248 309h1v2h-1zM251 310h1v1h-1zM259 310h2v1h-2zM265 310h2v1h-2zM277 309h1v2h-1zM281 310h1v1h-1zM285 310h2v1h-2zM288 310h1v1h-1zM33 319h1v1h-1zM37 319h1v1h-1zM50 319h2v1h-2zM82 319h1v1h-1zM105 319h1v1h-1zM107 319h1v1h-1zM110 319h1v1h-1zM112 319h2v1h-2zM120 319h1v1h-1zM129 319h1v1h-1zM135 319h1v1h-1zM145 319h1v1h-1zM168 319h1v1h-1zM172 319h2v1h-2zM179 319h1v1h-1zM193 319h1v1h-1zM203 319h1v1h-1zM224 319h1v1h-1zM229 319h1v1h-1zM232 319h1v1h-1zM244 319h1v1h-1zM246 319h1v1h-1zM271 319h1v1h-1zM279 319h1v1h-1zM283 319h1v1h-1zM19 320h1v1h-1zM30 320h1v1h-1zM35 319h1v2h-1zM43 320h1v1h-1zM54 320h1v1h-1zM75 320h1v1h-1zM77 320h1v1h-1zM86 320h1v1h-1zM92 320h2v1h-2zM99 320h1v1h-1zM114 320h1v1h-1zM134 320h1v1h-1zM137 320h1v1h-1zM157 320h1v1h-1zM161 320h1v1h-1zM164 320h1v1h-1zM175 320h1v1h-1zM182 320h1v1h-1zM184 320h1v1h-1zM192 320h1v1h-1zM201 320h1v1h-1zM218 320h1v1h-1zM239 320h1v1h-1zM263 320h2v1h-2zM26 320h1v2h-1zM55 321h1v1h-1zM61 321h2v1h-2zM68 321h1v1h-1zM77 321h2v1h-2zM84 321h1v1h-1zM91 321h1v1h-1zM102 321h1v1h-1zM160 321h1v1h-1zM204 321h1v1h-1zM237 321h2v1h-2zM256 321h1v1h-1zM267 321h1v1h-1zM275 321h1v1h-1zM277 321h1v1h-1zM289 321h1v1h-1zM20 322h1v1h-1zM32 322h1v1h-1zM38 322h1v1h-1zM40 322h1v1h-1zM42 322h1v1h-1zM49 322h1v1h-1zM52 322h5v1h-5zM59 322h1v1h-1zM70 322h1v1h-1zM88 321h1v2h-1zM100 322h1v1h-1zM109 322h1v1h-1zM113 322h2v1h-2zM128 322h1v1h-1zM130 322h1v1h-1zM153 322h1v1h-1zM172 322h1v1h-1zM175 322h1v1h-1zM183 322h1v1h-1zM185 322h1v1h-1zM190 322h1v1h-1zM201 322h1v1h-1zM220 322h1v1h-1zM222 322h1v1h-1zM226 322h1v1h-1zM255 322h1v1h-1zM34 323h2v1h-2zM43 323h1v1h-1zM52 323h2v1h-2zM67 322h1v2h-1zM92 323h1v1h-1zM104 323h1v1h-1zM121 323h1v1h-1zM125 323h1v1h-1zM129 323h2v1h-2zM136 322h1v2h-1zM150 323h1v1h-1zM154 323h1v1h-1zM166 323h1v1h-1zM191 323h1v1h-1zM208 323h1v1h-1zM219 323h1v1h-1zM239 323h1v1h-1zM260 323h1v1h-1zM265 323h1v1h-1zM270 323h1v1h-1zM283 323h1v1h-1zM29 324h1v1h-1zM55 324h1v1h-1zM59 324h1v1h-1zM91 324h1v1h-1zM102 324h1v1h-1zM116 324h1v1h-1zM119 324h1v1h-1zM126 324h1v1h-1zM151 324h2v1h-2zM179 324h1v1h-1zM184 323h1v2h-1zM196 324h1v1h-1zM222 324h1v1h-1zM236 324h1v1h-1zM247 324h1v1h-1zM255 324h1v1h-1zM269 324h1v1h-1zM274 324h2v1h-2zM279 324h1v1h-1zM281 324h1v1h-1zM32 325h1v1h-1zM53 325h1v1h-1zM58 325h1v1h-1zM66 325h1v1h-1zM69 325h1v1h-1zM77 325h1v1h-1zM81 325h1v1h-1zM92 325h1v1h-1zM117 325h1v1h-1zM122 325h1v1h-1zM138 325h1v1h-1zM146 325h1v1h-1zM149 325h1v1h-1zM158 324h1v2h-1zM165 324h1v2h-1zM173 325h1v1h-1zM175 325h1v1h-1zM181 325h1v1h-1zM186 325h1v1h-1zM203 325h1v1h-1zM210 324h1v2h-1zM213 325h1v1h-1zM216 325h1v1h-1zM229 325h1v1h-1zM231 325h1v1h-1zM243 325h2v1h-2zM252 325h3v1h-3zM280 325h1v1h-1z"/>
<path fill="#fdf0f6" d="M181 50h1v1h-1zM183 50h1v1h-1zM185 50h1v1h-1zM187 50h2v1h-2zM190 50h2v1h-2zM194 50h4v1h-4zM203 50h1v1h-1zM205 50h4v1h-4zM210 50h2v1h-2zM213 50h3v1h-3zM218 50h1v1h-1zM220 50h1v1h-1zM226 50h1v1h-1zM228 50h3v1h-3zM236 50h1v1h-1zM238 50h4v1h-4zM243 50h3v1h-3zM249 50h6v1h-6zM256 50h2v1h-2zM259 50h2v1h-2zM263 50h3v1h-3zM267 50h3v1h-3zM182 51h1v1h-1zM185 51h2v1h-2zM188 51h1v1h-1zM191 51h3v1h-3zM198 51h2v1h-2zM202 51h1v1h-1zM206 51h1v1h-1zM216 51h2v1h-2zM219 51h1v1h-1zM221 51h1v1h-1zM223 50h2v2h-2zM226 51h2v1h-2zM230 51h2v1h-2zM233 51h1v1h-1zM235 51h1v1h-1zM237 51h6v1h-6zM245 51h1v1h-1zM247 51h2v1h-2zM252 51h4v1h-4zM257 51h1v1h-1zM259 51h1v1h-1zM262 51h1v1h-1zM264 51h4v1h-4zM166 82h2v1h-2zM170 82h1v1h-1zM172 82h4v1h-4zM177 82h3v1h-3zM181 82h3v1h-3zM186 82h3v1h-3zM190 82h2v1h-2zM193 82h3v1h-3zM198 82h1v1h-1zM200 82h2v1h-2zM203 82h1v1h-1zM205 82h2v1h-2zM208 82h2v1h-2zM211 82h1v1h-1zM214 82h2v1h-2zM217 82h2v1h-2zM220 82h1v1h-1zM222 82h1v1h-1zM226 82h1v1h-1zM230 82h1v1h-1zM232 82h1v1h-1zM236 82h1v1h-1zM238 82h2v1h-2zM242 82h2v1h-2zM246 82h4v1h-4zM251 82h1v1h-1zM253 82h3v1h-3zM258 82h1v1h-1zM266 82h1v1h-1zM268 82h3v1h-3zM272 82h2v1h-2zM164 83h1v1h-1zM166 83h3v1h-3zM171 83h4v1h-4zM177 83h2v1h-2zM180 83h1v1h-1zM182 83h6v1h-6zM189 83h1v1h-1zM192 83h4v1h-4zM198 83h2v1h-2zM201 83h4v1h-4zM206 83h1v1h-1zM210 83h1v1h-1zM212 83h1v1h-1zM214 83h4v1h-4zM224 83h1v1h-1zM227 83h1v1h-1zM229 83h1v1h-1zM236 83h4v1h-4zM241 83h3v1h-3zM245 83h1v1h-1zM247 83h1v1h-1zM250 83h1v1h-1zM252 83h1v1h-1zM254 83h2v1h-2zM259 83h1v1h-1zM261 83h3v1h-3zM265 83h3v1h-3zM270 83h1v1h-1zM273 83h2v1h-2zM148 117h2v1h-2zM151 117h1v1h-1zM157 117h1v1h-1zM159 117h1v1h-1zM161 117h3v1h-3zM166 117h1v1h-1zM170 117h4v1h-4zM177 117h2v1h-2zM180 117h5v1h-5zM186 117h1v1h-1zM188 117h2v1h-2zM191 117h11v1h-11zM203 117h2v1h-2zM206 117h2v1h-2zM210 117h2v1h-2zM225 117h1v1h-1zM230 117h3v1h-3zM234 117h1v1h-1zM236 117h1v1h-1zM238 117h1v1h-1zM242 117h2v1h-2zM247 117h2v1h-2zM251 117h1v1h-1zM254 117h4v1h-4zM148 118h3v1h-3zM152 118h5v1h-5zM162 118h3v1h-3zM167 118h1v1h-1zM169 118h4v1h-4zM175 118h3v1h-3zM180 118h2v1h-2zM185 118h1v1h-1zM189 118h1v1h-1zM192 118h1v1h-1zM194 118h1v1h-1zM196 118h2v1h-2zM205 118h1v1h-1zM209 118h2v1h-2zM212 118h1v1h-1zM215 118h1v1h-1zM219 117h1v2h-1zM221 118h1v1h-1zM225 118h3v1h-3zM230 118h7v1h-7zM240 117h1v2h-1zM245 118h3v1h-3zM249 118h1v1h-1zM258 118h2v1h-2zM259 187h1v1h-1zM263 187h1v1h-1zM266 187h1v1h-1zM278 187h1v1h-1zM283 187h1v1h-1zM288 187h1v1h-1zM290 187h2v1h-2zM294 187h2v1h-2zM298 187h1v1h-1zM300 187h3v1h-3zM306 187h1v1h-1zM311 187h1v1h-1zM314 187h1v1h-1zM319 187h1v1h-1zM321 187h1v1h-1zM323 187h3v1h-3zM330 187h1v1h-1zM333 187h3v1h-3zM340 187h1v1h-1zM344 187h1v1h-1zM346 187h1v1h-1zM356 187h5v1h-5zM363 187h3v1h-3zM371 187h1v1h-1zM375 187h1v1h-1zM379 187h2v1h-2zM385 187h1v1h-1zM388 187h2v1h-2zM393 187h1v1h-1zM398 187h2v1h-2zM402 187h1v1h-1zM407 187h2v1h-2zM410 187h1v1h-1zM422 187h1v1h-1zM427 187h4v1h-4zM432 187h1v1h-1zM437 187h1v1h-1zM271 188h2v1h-2zM289 188h4v1h-4zM295 188h3v1h-3zM301 188h1v1h-1zM308 188h2v1h-2zM322 188h3v1h-3zM326 188h1v1h-1zM334 188h1v1h-1zM336 188h1v1h-1zM338 188h1v1h-1zM347 188h1v1h-1zM355 188h1v1h-1zM358 188h1v1h-1zM362 188h1v1h-1zM368 188h1v1h-1zM376 188h1v1h-1zM382 188h1v1h-1zM384 188h1v1h-1zM392 188h1v1h-1zM395 187h1v2h-1zM399 188h1v1h-1zM406 188h2v1h-2zM415 187h1v2h-1zM420 188h3v1h-3zM430 188h1v1h-1zM259 189h3v1h-3zM275 189h1v1h-1zM285 187h1v3h-1zM287 189h1v1h-1zM291 189h1v1h-1zM294 189h2v1h-2zM297 189h2v1h-2zM304 189h1v1h-1zM306 189h2v1h-2zM309 189h1v1h-1zM319 189h2v1h-2zM346 189h4v1h-4zM351 189h1v1h-1zM354 189h1v1h-1zM361 189h1v1h-1zM368 189h2v1h-2zM373 189h1v1h-1zM376 189h2v1h-2zM379 188h1v2h-1zM381 189h1v1h-1zM383 189h2v1h-2zM393 189h1v1h-1zM397 188h1v2h-1zM406 189h1v1h-1zM411 188h1v2h-1zM413 189h1v1h-1zM425 189h2v1h-2zM428 189h2v1h-2zM436 189h1v1h-1zM438 189h1v1h-1zM57 190h4v1h-4zM66 190h1v1h-1zM68 190h9v1h-9zM79 190h1v1h-1zM81 190h2v1h-2zM89 190h3v1h-3zM94 190h2v1h-2zM98 190h1v1h-1zM101 190h2v1h-2zM259 190h1v1h-1zM261 190h2v1h-2zM264 190h1v1h-1zM277 190h1v1h-1zM279 190h1v1h-1zM282 190h1v1h-1zM291 190h2v1h-2zM295 190h1v1h-1zM304 190h3v1h-3zM308 190h4v1h-4zM315 190h1v1h-1zM317 189h1v2h-1zM320 190h1v1h-1zM325 190h2v1h-2zM330 190h1v1h-1zM336 190h1v1h-1zM340 189h1v2h-1zM342 190h1v1h-1zM347 190h1v1h-1zM350 190h1v1h-1zM356 190h2v1h-2zM363 190h1v1h-1zM368 190h1v1h-1zM371 190h1v1h-1zM383 190h1v1h-1zM385 190h1v1h-1zM394 190h3v1h-3zM398 190h1v1h-1zM402 189h1v2h-1zM405 190h1v1h-1zM409 188h1v3h-1zM412 190h1v1h-1zM414 190h1v1h-1zM418 190h1v1h-1zM422 190h3v1h-3zM428 190h1v1h-1zM434 190h2v1h-2zM437 190h2v1h-2zM56 191h3v1h-3zM61 191h1v1h-1zM65 191h3v1h-3zM71 191h3v1h-3zM77 191h7v1h-7zM85 191h4v1h-4zM91 191h1v1h-1zM93 191h2v1h-2zM96 191h3v1h-3zM100 191h1v1h-1zM258 191h1v1h-1zM263 191h3v1h-3zM268 191h2v1h-2zM278 191h2v1h-2zM285 191h2v1h-2zM288 191h1v1h-1zM290 191h4v1h-4zM295 191h2v1h-2zM300 190h1v2h-1zM304 191h2v1h-2zM307 191h5v1h-5zM313 191h1v1h-1zM319 191h2v1h-2zM322 191h2v1h-2zM326 191h1v1h-1zM328 188h1v4h-1zM334 191h2v1h-2zM338 191h1v1h-1zM341 191h1v1h-1zM346 191h1v1h-1zM349 191h1v1h-1zM352 191h1v1h-1zM361 191h1v1h-1zM364 191h1v1h-1zM366 191h1v1h-1zM372 191h1v1h-1zM375 191h1v1h-1zM378 190h2v2h-2zM381 191h3v1h-3zM389 190h1v2h-1zM391 191h2v1h-2zM397 191h5v1h-5zM405 191h3v1h-3zM414 191h2v1h-2zM419 191h2v1h-2zM422 191h1v1h-1zM59 192h2v1h-2zM62 192h3v1h-3zM66 192h1v1h-1zM72 192h2v1h-2zM75 192h1v1h-1zM77 192h3v1h-3zM82 192h1v1h-1zM84 192h1v1h-1zM88 192h3v1h-3zM92 192h1v1h-1zM97 192h2v1h-2zM102 191h1v2h-1zM264 192h1v1h-1zM271 192h1v1h-1zM279 192h1v1h-1zM281 192h2v1h-2zM284 192h1v1h-1zM288 192h3v1h-3zM292 192h4v1h-4zM297 192h3v1h-3zM301 192h6v1h-6zM308 192h2v1h-2zM312 192h2v1h-2zM317 192h1v1h-1zM319 192h1v1h-1zM322 192h1v1h-1zM325 192h1v1h-1zM330 192h1v1h-1zM334 192h1v1h-1zM338 192h2v1h-2zM347 192h1v1h-1zM354 191h1v2h-1zM359 192h1v1h-1zM370 191h1v2h-1zM374 192h1v1h-1zM376 192h1v1h-1zM379 192h1v1h-1zM381 192h1v1h-1zM383 192h1v1h-1zM385 192h1v1h-1zM393 192h4v1h-4zM399 192h1v1h-1zM407 192h2v1h-2zM413 192h1v1h-1zM415 192h1v1h-1zM420 192h2v1h-2zM423 192h1v1h-1zM425 192h3v1h-3zM429 192h1v1h-1zM432 191h1v2h-1zM56 193h1v1h-1zM59 193h3v1h-3zM66 193h4v1h-4zM73 193h1v1h-1zM76 193h2v1h-2zM79 193h4v1h-4zM86 192h1v2h-1zM91 193h1v1h-1zM93 193h2v1h-2zM97 193h5v1h-5zM267 193h2v1h-2zM277 192h1v2h-1zM283 193h2v1h-2zM287 193h1v1h-1zM289 193h2v1h-2zM296 193h1v1h-1zM299 193h5v1h-5zM305 193h5v1h-5zM312 193h1v1h-1zM324 193h2v1h-2zM327 193h1v1h-1zM329 193h1v1h-1zM332 191h1v3h-1zM337 193h2v1h-2zM340 193h1v1h-1zM344 191h1v3h-1zM348 193h2v1h-2zM352 193h1v1h-1zM354 193h2v1h-2zM357 193h1v1h-1zM362 192h2v2h-2zM365 193h1v1h-1zM367 192h1v2h-1zM374 193h2v1h-2zM384 193h1v1h-1zM387 192h1v2h-1zM391 193h3v1h-3zM396 193h3v1h-3zM405 193h1v1h-1zM408 193h1v1h-1zM414 193h1v1h-1zM419 193h1v1h-1zM424 193h1v1h-1zM426 193h3v1h-3zM430 193h1v1h-1zM433 193h1v1h-1zM435 192h1v2h-1zM437 193h1v1h-1zM56 194h3v1h-3zM60 194h1v1h-1zM62 194h1v1h-1zM65 194h5v1h-5zM71 193h1v2h-1zM73 194h2v1h-2zM76 194h3v1h-3zM80 194h4v1h-4zM85 194h5v1h-5zM91 194h5v1h-5zM99 194h2v1h-2zM299 194h1v1h-1zM301 194h1v1h-1zM304 194h2v1h-2zM307 194h3v1h-3zM313 194h1v1h-1zM315 193h1v2h-1zM317 194h2v1h-2zM323 194h1v1h-1zM329 194h3v1h-3zM333 194h2v1h-2zM354 194h1v1h-1zM356 194h1v1h-1zM366 194h2v1h-2zM375 194h1v1h-1zM385 194h1v1h-1zM392 194h1v1h-1zM397 194h1v1h-1zM400 194h1v1h-1zM403 194h1v1h-1zM409 194h1v1h-1zM411 192h1v3h-1zM413 194h2v1h-2zM426 194h1v1h-1zM431 194h1v1h-1zM434 194h2v1h-2zM56 195h1v1h-1zM61 195h3v1h-3zM66 195h2v1h-2zM69 195h5v1h-5zM76 195h1v1h-1zM78 195h1v1h-1zM81 195h1v1h-1zM85 195h2v1h-2zM88 195h3v1h-3zM92 195h1v1h-1zM96 195h1v1h-1zM98 195h5v1h-5zM267 195h1v1h-1zM270 195h1v1h-1zM273 195h2v1h-2zM276 195h1v1h-1zM278 195h4v1h-4zM286 194h1v2h-1zM289 195h2v1h-2zM295 194h1v2h-1zM300 195h1v1h-1zM304 195h4v1h-4zM309 195h3v1h-3zM316 195h1v1h-1zM320 195h1v1h-1zM337 194h1v2h-1zM344 195h3v1h-3zM355 195h1v1h-1zM358 195h1v1h-1zM361 194h1v2h-1zM363 194h1v2h-1zM365 195h4v1h-4zM371 195h1v1h-1zM388 195h1v1h-1zM390 194h1v2h-1zM404 195h2v1h-2zM418 195h2v1h-2zM421 193h1v3h-1zM423 195h2v1h-2zM426 195h2v1h-2zM430 195h3v1h-3zM436 195h2v1h-2zM439 194h1v2h-1zM56 196h5v1h-5zM62 196h1v1h-1zM73 196h3v1h-3zM77 196h3v1h-3zM84 196h1v1h-1zM87 196h1v1h-1zM89 196h2v1h-2zM96 196h2v1h-2zM99 196h1v1h-1zM102 196h1v1h-1zM282 196h1v1h-1zM286 196h3v1h-3zM290 196h1v1h-1zM292 196h1v1h-1zM294 196h2v1h-2zM297 196h3v1h-3zM301 196h1v1h-1zM304 196h7v1h-7zM314 196h1v1h-1zM318 196h1v1h-1zM321 196h1v1h-1zM326 194h1v3h-1zM334 196h1v1h-1zM341 196h3v1h-3zM348 196h1v1h-1zM350 195h1v2h-1zM353 196h3v1h-3zM357 196h1v1h-1zM360 196h1v1h-1zM365 196h1v1h-1zM367 196h1v1h-1zM370 196h2v1h-2zM377 196h1v1h-1zM383 196h2v1h-2zM389 196h1v1h-1zM394 196h1v1h-1zM396 196h1v1h-1zM399 195h1v2h-1zM411 196h1v1h-1zM413 196h1v1h-1zM415 196h1v1h-1zM419 196h3v1h-3zM424 196h1v1h-1zM427 196h2v1h-2zM430 196h2v1h-2zM435 196h1v1h-1zM56 197h1v1h-1zM61 197h1v1h-1zM65 196h2v2h-2zM68 196h1v2h-1zM70 197h4v1h-4zM76 197h2v1h-2zM81 196h2v2h-2zM86 197h3v1h-3zM93 196h2v2h-2zM96 197h1v1h-1zM98 197h2v1h-2zM277 197h1v1h-1zM284 196h1v2h-1zM296 197h2v1h-2zM300 197h1v1h-1zM302 197h2v1h-2zM305 197h4v1h-4zM315 197h1v1h-1zM322 197h2v1h-2zM331 197h2v1h-2zM335 197h2v1h-2zM339 197h1v1h-1zM344 197h2v1h-2zM349 197h1v1h-1zM359 197h1v1h-1zM370 197h1v1h-1zM372 197h1v1h-1zM374 196h2v2h-2zM392 197h2v1h-2zM395 197h1v1h-1zM401 197h2v1h-2zM406 196h1v2h-1zM408 197h1v1h-1zM412 197h1v1h-1zM414 197h1v1h-1zM426 197h1v1h-1zM57 198h1v1h-1zM62 198h1v1h-1zM64 198h3v1h-3zM68 198h3v1h-3zM73 198h1v1h-1zM76 198h1v1h-1zM78 198h3v1h-3zM87 198h1v1h-1zM89 198h1v1h-1zM94 198h6v1h-6zM102 198h1v1h-1zM268 196h1v3h-1zM276 198h2v1h-2zM280 198h1v1h-1zM282 198h1v1h-1zM284 198h3v1h-3zM289 197h1v2h-1zM291 198h1v1h-1zM293 197h2v2h-2zM297 198h1v1h-1zM301 198h2v1h-2zM304 198h2v1h-2zM308 198h1v1h-1zM311 198h1v1h-1zM323 198h1v1h-1zM329 197h1v2h-1zM333 198h1v1h-1zM335 198h1v1h-1zM337 198h2v1h-2zM343 198h2v1h-2zM347 198h1v1h-1zM356 198h1v1h-1zM359 198h2v1h-2zM362 196h1v3h-1zM365 198h1v1h-1zM372 198h2v1h-2zM375 198h1v1h-1zM377 198h1v1h-1zM380 196h1v3h-1zM382 197h1v2h-1zM389 198h1v1h-1zM402 198h1v1h-1zM409 198h1v1h-1zM418 198h2v1h-2zM421 198h1v1h-1zM423 198h2v1h-2zM433 198h1v1h-1zM439 197h1v2h-1zM56 199h1v1h-1zM58 199h1v1h-1zM60 199h2v1h-2zM65 199h4v1h-4zM72 199h1v1h-1zM76 199h2v1h-2zM80 199h1v1h-1zM82 198h2v2h-2zM85 198h1v2h-1zM87 199h2v1h-2zM92 198h1v2h-1zM94 199h2v1h-2zM266 199h1v1h-1zM269 199h1v1h-1zM284 199h1v1h-1zM287 199h1v1h-1zM290 199h1v1h-1zM293 199h1v1h-1zM299 198h1v2h-1zM302 199h2v1h-2zM305 199h6v1h-6zM316 199h2v1h-2zM319 199h1v1h-1zM321 198h1v2h-1zM327 199h1v1h-1zM332 199h4v1h-4zM339 199h1v1h-1zM341 199h1v1h-1zM348 199h1v1h-1zM354 199h2v1h-2zM361 199h3v1h-3zM365 199h2v1h-2zM368 199h1v1h-1zM372 199h1v1h-1zM374 199h1v1h-1zM376 199h1v1h-1zM378 199h1v1h-1zM385 199h2v1h-2zM388 199h1v1h-1zM391 199h2v1h-2zM397 199h2v1h-2zM407 199h1v1h-1zM411 198h1v2h-1zM413 199h2v1h-2zM421 199h3v1h-3zM435 199h1v1h-1zM438 199h2v1h-2zM57 200h5v1h-5zM65 200h1v1h-1zM67 200h5v1h-5zM76 200h5v1h-5zM82 200h3v1h-3zM90 199h1v2h-1zM94 200h1v1h-1zM277 200h1v1h-1zM279 200h1v1h-1zM281 200h1v1h-1zM286 200h1v1h-1zM288 200h1v1h-1zM290 200h3v1h-3zM294 200h1v1h-1zM296 199h1v2h-1zM301 200h2v1h-2zM304 200h2v1h-2zM308 200h3v1h-3zM313 199h1v2h-1zM315 200h3v1h-3zM328 200h3v1h-3zM337 200h4v1h-4zM350 200h1v1h-1zM352 200h3v1h-3zM357 200h1v1h-1zM365 200h1v1h-1zM371 200h1v1h-1zM383 200h1v1h-1zM387 200h1v1h-1zM389 200h2v1h-2zM396 200h2v1h-2zM399 200h1v1h-1zM401 200h1v1h-1zM405 199h1v2h-1zM426 199h1v2h-1zM431 200h1v1h-1zM433 200h2v1h-2zM438 200h1v1h-1zM56 201h2v1h-2zM60 201h1v1h-1zM62 201h1v1h-1zM65 201h3v1h-3zM72 201h2v1h-2zM75 201h2v1h-2zM78 201h2v1h-2zM81 201h1v1h-1zM83 201h3v1h-3zM87 201h1v1h-1zM89 201h1v1h-1zM92 201h3v1h-3zM96 200h1v2h-1zM98 199h2v3h-2zM271 201h1v1h-1zM273 201h1v1h-1zM284 201h1v1h-1zM287 201h1v1h-1zM293 201h5v1h-5zM301 201h6v1h-6zM311 201h2v1h-2zM315 201h2v1h-2zM318 201h1v1h-1zM320 201h1v1h-1zM328 201h1v1h-1zM330 201h1v1h-1zM334 200h1v2h-1zM336 201h2v1h-2zM339 201h1v1h-1zM342 201h2v1h-2zM351 201h1v1h-1zM354 201h1v1h-1zM360 201h1v1h-1zM362 201h1v1h-1zM369 200h1v2h-1zM376 201h1v1h-1zM384 201h3v1h-3zM395 201h1v1h-1zM400 201h2v1h-2zM410 201h1v1h-1zM414 200h1v2h-1zM418 201h1v1h-1zM420 201h1v1h-1zM424 201h1v1h-1zM428 201h1v1h-1zM439 201h1v1h-1zM56 202h7v1h-7zM65 202h5v1h-5zM72 202h6v1h-6zM85 202h1v1h-1zM88 202h2v1h-2zM91 202h1v1h-1zM98 202h1v1h-1zM270 202h1v1h-1zM278 202h1v1h-1zM284 202h2v1h-2zM287 202h2v1h-2zM293 202h1v1h-1zM296 202h2v1h-2zM301 202h9v1h-9zM317 202h2v1h-2zM320 202h2v1h-2zM323 202h1v1h-1zM328 202h2v1h-2zM333 202h3v1h-3zM337 202h1v1h-1zM345 202h1v1h-1zM354 202h2v1h-2zM357 202h1v1h-1zM366 202h4v1h-4zM371 202h1v1h-1zM376 202h4v1h-4zM381 202h1v1h-1zM383 202h3v1h-3zM387 202h3v1h-3zM391 202h1v1h-1zM393 201h1v2h-1zM397 201h1v2h-1zM402 202h1v1h-1zM405 201h2v2h-2zM409 202h1v1h-1zM412 202h2v1h-2zM419 202h1v1h-1zM424 202h3v1h-3zM438 202h2v1h-2zM60 203h1v1h-1zM67 203h1v1h-1zM69 203h1v1h-1zM72 203h2v1h-2zM76 203h1v1h-1zM78 203h1v1h-1zM80 202h1v2h-1zM83 203h1v1h-1zM85 203h3v1h-3zM89 203h8v1h-8zM273 203h2v1h-2zM276 203h1v1h-1zM279 203h2v1h-2zM282 203h1v1h-1zM287 203h1v1h-1zM290 203h1v1h-1zM292 203h1v1h-1zM294 203h3v1h-3zM299 202h1v2h-1zM301 203h1v1h-1zM304 203h2v1h-2zM311 203h1v1h-1zM314 203h1v1h-1zM322 203h1v1h-1zM326 201h1v3h-1zM329 203h1v1h-1zM332 203h1v1h-1zM335 203h3v1h-3zM340 202h1v2h-1zM348 203h2v1h-2zM352 203h2v1h-2zM356 203h1v1h-1zM359 203h1v1h-1zM366 203h2v1h-2zM373 203h1v1h-1zM380 203h1v1h-1zM383 203h1v1h-1zM385 203h1v1h-1zM388 203h3v1h-3zM396 203h1v1h-1zM400 203h1v1h-1zM406 203h1v1h-1zM408 203h1v1h-1zM418 203h1v1h-1zM421 203h1v1h-1zM432 203h1v1h-1zM56 204h1v1h-1zM58 204h1v1h-1zM60 204h3v1h-3zM64 204h1v1h-1zM67 204h2v1h-2zM70 204h2v1h-2zM73 204h1v1h-1zM75 204h3v1h-3zM79 204h1v1h-1zM82 204h1v1h-1zM84 204h2v1h-2zM89 204h1v1h-1zM91 204h2v1h-2zM96 204h2v1h-2zM99 204h3v1h-3zM266 204h1v1h-1zM271 204h1v1h-1zM274 204h1v1h-1zM283 204h1v1h-1zM289 204h1v1h-1zM293 204h2v1h-2zM299 204h2v1h-2zM302 204h3v1h-3zM306 204h2v1h-2zM310 204h1v1h-1zM312 204h1v1h-1zM320 204h2v1h-2zM326 204h6v1h-6zM333 204h3v1h-3zM343 204h1v1h-1zM349 204h2v1h-2zM353 204h1v1h-1zM355 204h1v1h-1zM360 204h1v1h-1zM363 203h2v2h-2zM366 204h1v1h-1zM368 204h2v1h-2zM373 204h2v1h-2zM381 204h3v1h-3zM386 204h1v1h-1zM391 204h2v1h-2zM399 204h1v1h-1zM405 204h3v1h-3zM411 204h1v1h-1zM414 203h1v2h-1zM427 204h2v1h-2zM434 204h1v1h-1zM438 204h2v1h-2zM56 205h3v1h-3zM62 205h1v1h-1zM65 205h3v1h-3zM69 205h9v1h-9zM79 205h6v1h-6zM86 205h1v1h-1zM88 205h6v1h-6zM97 205h1v1h-1zM268 204h1v2h-1zM270 205h1v1h-1zM276 205h1v1h-1zM285 204h1v2h-1zM287 205h1v1h-1zM299 205h1v1h-1zM308 205h3v1h-3zM317 204h2v2h-2zM327 205h1v1h-1zM332 205h1v1h-1zM344 205h1v1h-1zM346 205h1v1h-1zM349 205h1v1h-1zM351 205h2v1h-2zM355 205h2v1h-2zM359 205h1v1h-1zM364 205h3v1h-3zM373 205h1v1h-1zM379 204h1v2h-1zM382 205h2v1h-2zM389 205h1v1h-1zM394 205h2v1h-2zM397 205h1v1h-1zM408 205h1v1h-1zM410 205h2v1h-2zM413 205h2v1h-2zM422 205h1v1h-1zM425 204h1v2h-1zM427 205h4v1h-4zM433 205h4v1h-4zM56 206h1v1h-1zM59 206h3v1h-3zM67 206h1v1h-1zM74 206h1v1h-1zM78 206h5v1h-5zM84 206h1v1h-1zM87 206h1v1h-1zM91 206h1v1h-1zM94 206h2v1h-2zM101 206h1v1h-1zM283 206h1v1h-1zM286 206h1v1h-1zM289 206h2v1h-2zM293 206h1v1h-1zM295 205h2v2h-2zM299 206h2v1h-2zM302 205h2v2h-2zM306 206h1v1h-1zM308 206h4v1h-4zM316 206h2v1h-2zM335 206h1v1h-1zM337 206h1v1h-1zM346 206h2v1h-2zM353 206h1v1h-1zM356 206h1v1h-1zM386 206h2v1h-2zM396 206h2v1h-2zM404 206h1v1h-1zM415 206h1v1h-1zM419 206h1v1h-1zM421 206h2v1h-2zM428 206h1v1h-1zM431 206h1v1h-1zM56 207h2v1h-2zM59 207h1v1h-1zM61 207h1v1h-1zM64 207h4v1h-4zM71 207h2v1h-2zM76 207h1v1h-1zM78 207h2v1h-2zM82 207h3v1h-3zM86 207h3v1h-3zM90 207h4v1h-4zM96 207h3v1h-3zM259 207h1v1h-1zM269 207h2v1h-2zM274 207h1v1h-1zM296 207h3v1h-3zM300 207h1v1h-1zM305 207h4v1h-4zM311 207h1v1h-1zM322 206h1v2h-1zM327 207h1v1h-1zM332 207h1v1h-1zM345 207h1v1h-1zM347 207h1v1h-1zM350 207h1v1h-1zM354 207h2v1h-2zM358 207h5v1h-5zM364 207h1v1h-1zM368 207h1v1h-1zM376 204h1v4h-1zM379 207h1v1h-1zM381 207h1v1h-1zM385 207h1v1h-1zM392 207h1v1h-1zM398 207h1v1h-1zM400 206h1v2h-1zM402 207h1v1h-1zM405 207h1v1h-1zM411 207h1v1h-1zM420 207h2v1h-2zM428 207h2v1h-2zM433 207h1v1h-1zM435 207h1v1h-1zM437 207h2v1h-2zM57 208h2v1h-2zM61 208h2v1h-2zM66 208h1v1h-1zM69 208h1v1h-1zM73 208h1v1h-1zM75 208h1v1h-1zM78 208h1v1h-1zM80 208h6v1h-6zM87 208h1v1h-1zM89 208h5v1h-5zM99 208h1v1h-1zM265 208h1v1h-1zM281 206h1v3h-1zM290 207h1v2h-1zM292 207h2v2h-2zM295 208h2v1h-2zM300 208h2v1h-2zM305 208h2v1h-2zM308 208h2v1h-2zM312 208h1v1h-1zM314 208h2v1h-2zM317 208h1v1h-1zM319 208h1v1h-1zM330 207h1v2h-1zM336 207h1v2h-1zM338 208h2v1h-2zM344 208h3v1h-3zM349 208h1v1h-1zM351 208h1v1h-1zM355 208h1v1h-1zM359 208h1v1h-1zM361 208h1v1h-1zM363 208h2v1h-2zM367 208h1v1h-1zM372 208h1v1h-1zM377 208h3v1h-3zM384 208h2v1h-2zM387 207h1v2h-1zM394 208h1v1h-1zM407 208h2v1h-2zM424 208h1v1h-1zM429 208h1v1h-1zM433 208h2v1h-2zM58 209h4v1h-4zM65 209h1v1h-1zM71 209h1v1h-1zM73 209h2v1h-2zM76 209h3v1h-3zM81 209h2v1h-2zM87 209h4v1h-4zM94 209h2v1h-2zM99 209h2v1h-2zM270 209h1v1h-1zM272 209h1v1h-1zM276 209h1v1h-1zM280 209h1v1h-1zM285 209h1v1h-1zM288 209h1v1h-1zM299 209h2v1h-2zM302 209h2v1h-2zM307 209h1v1h-1zM310 209h2v1h-2zM321 209h1v1h-1zM324 209h2v1h-2zM329 209h3v1h-3zM352 209h1v1h-1zM354 209h1v1h-1zM357 209h1v1h-1zM360 209h1v1h-1zM362 209h2v1h-2zM365 209h2v1h-2zM374 207h1v3h-1zM382 209h3v1h-3zM401 209h2v1h-2zM412 208h1v2h-1zM415 209h1v1h-1zM428 209h2v1h-2zM435 209h1v1h-1zM61 210h1v1h-1zM63 210h3v1h-3zM67 209h2v2h-2zM71 210h2v1h-2zM76 210h2v1h-2zM80 210h1v1h-1zM85 210h2v1h-2zM88 210h2v1h-2zM96 210h3v1h-3zM260 210h1v1h-1zM263 210h1v1h-1zM267 210h4v1h-4zM272 210h3v1h-3zM278 209h1v2h-1zM281 210h2v1h-2zM284 210h1v1h-1zM289 210h2v1h-2zM292 210h1v1h-1zM294 210h1v1h-1zM296 210h2v1h-2zM299 210h1v1h-1zM304 210h3v1h-3zM310 210h1v1h-1zM312 210h5v1h-5zM320 210h3v1h-3zM327 210h1v1h-1zM329 210h1v1h-1zM332 210h1v1h-1zM335 209h1v2h-1zM337 210h1v1h-1zM341 210h3v1h-3zM349 210h1v1h-1zM353 210h1v1h-1zM359 210h2v1h-2zM364 210h1v1h-1zM366 210h1v1h-1zM370 210h2v1h-2zM381 210h2v1h-2zM388 210h1v1h-1zM395 209h1v2h-1zM402 210h2v1h-2zM408 210h1v1h-1zM411 210h1v1h-1zM414 210h1v1h-1zM420 210h2v1h-2zM423 209h1v2h-1zM426 210h1v1h-1zM433 209h1v2h-1zM437 210h1v1h-1zM439 210h1v1h-1zM56 210h2v2h-2zM59 210h1v2h-1zM61 211h2v1h-2zM66 211h1v1h-1zM68 211h1v1h-1zM70 211h6v1h-6zM79 211h1v1h-1zM82 211h3v1h-3zM86 211h1v1h-1zM89 211h1v1h-1zM91 210h3v2h-3zM97 211h2v1h-2zM258 211h1v1h-1zM267 211h1v1h-1zM274 211h1v1h-1zM276 211h8v1h-8zM288 211h1v1h-1zM295 211h4v1h-4zM305 211h8v1h-8zM316 211h1v1h-1zM319 211h3v1h-3zM325 211h1v1h-1zM338 211h2v1h-2zM348 211h1v1h-1zM352 211h1v1h-1zM358 211h1v1h-1zM373 210h1v2h-1zM375 211h1v1h-1zM377 211h1v1h-1zM379 210h1v2h-1zM381 211h1v1h-1zM386 210h1v2h-1zM390 211h1v1h-1zM399 209h1v3h-1zM401 211h1v1h-1zM403 211h1v1h-1zM405 209h1v3h-1zM407 211h1v1h-1zM410 211h2v1h-2zM415 211h1v1h-1zM418 210h1v2h-1zM420 211h1v1h-1zM422 211h2v1h-2zM428 211h3v1h-3zM434 211h1v1h-1zM56 212h1v1h-1zM58 212h1v1h-1zM60 212h1v1h-1zM62 212h1v1h-1zM65 212h1v1h-1zM67 212h2v1h-2zM71 212h1v1h-1zM73 212h2v1h-2zM76 212h1v1h-1zM79 212h8v1h-8zM90 212h4v1h-4zM95 212h2v1h-2zM98 212h1v1h-1zM101 212h2v1h-2zM264 211h1v2h-1zM266 212h2v1h-2zM269 211h1v2h-1zM272 212h1v1h-1zM274 212h5v1h-5zM280 212h1v1h-1zM283 212h2v1h-2zM286 210h1v3h-1zM288 212h3v1h-3zM293 212h1v1h-1zM296 212h2v1h-2zM302 212h1v1h-1zM310 212h1v1h-1zM312 212h2v1h-2zM315 212h1v1h-1zM321 212h1v1h-1zM326 212h1v1h-1zM333 212h1v1h-1zM337 212h1v1h-1zM341 212h1v1h-1zM351 212h2v1h-2zM361 211h1v2h-1zM364 212h2v1h-2zM381 212h3v1h-3zM385 212h3v1h-3zM392 211h1v2h-1zM406 212h2v1h-2zM409 212h3v1h-3zM418 212h5v1h-5zM436 212h1v1h-1zM57 213h2v1h-2zM61 213h1v1h-1zM66 213h1v1h-1zM68 213h1v1h-1zM73 213h1v1h-1zM78 213h3v1h-3zM82 213h3v1h-3zM86 213h4v1h-4zM91 213h1v1h-1zM93 213h1v1h-1zM98 213h2v1h-2zM269 213h2v1h-2zM274 213h1v1h-1zM278 213h2v1h-2zM281 213h2v1h-2zM284 213h1v1h-1zM287 213h1v1h-1zM289 213h1v1h-1zM292 213h2v1h-2zM296 213h1v1h-1zM300 212h1v2h-1zM302 213h7v1h-7zM322 213h2v1h-2zM325 213h1v1h-1zM329 212h1v2h-1zM332 213h1v1h-1zM346 213h1v1h-1zM354 213h1v1h-1zM361 213h2v1h-2zM369 212h1v2h-1zM371 213h1v1h-1zM376 212h1v2h-1zM379 213h1v1h-1zM384 213h2v1h-2zM387 213h2v1h-2zM397 212h1v2h-1zM400 212h2v2h-2zM403 213h3v1h-3zM409 213h1v1h-1zM413 213h2v1h-2zM421 213h1v1h-1zM423 213h1v1h-1zM427 212h2v2h-2zM431 213h1v1h-1zM433 213h1v1h-1zM435 213h2v1h-2zM57 214h1v1h-1zM59 214h1v1h-1zM65 214h4v1h-4zM70 214h5v1h-5zM76 214h1v1h-1zM79 214h1v1h-1zM81 214h1v1h-1zM83 214h3v1h-3zM87 214h1v1h-1zM89 214h2v1h-2zM97 214h2v1h-2zM102 214h1v1h-1zM260 213h1v2h-1zM264 214h2v1h-2zM272 214h2v1h-2zM277 214h2v1h-2zM280 214h1v1h-1zM282 214h3v1h-3zM287 214h4v1h-4zM293 214h1v1h-1zM295 214h1v1h-1zM300 214h3v1h-3zM307 214h2v1h-2zM312 214h1v1h-1zM323 214h3v1h-3zM330 214h4v1h-4zM338 214h1v1h-1zM343 212h1v3h-1zM345 214h3v1h-3zM352 214h1v1h-1zM357 214h3v1h-3zM366 214h1v1h-1zM368 214h1v1h-1zM375 214h2v1h-2zM385 214h1v1h-1zM393 214h1v1h-1zM395 212h1v3h-1zM402 214h3v1h-3zM418 214h1v1h-1zM422 214h1v1h-1zM424 214h3v1h-3zM430 214h1v1h-1zM434 214h1v1h-1zM438 212h1v3h-1zM58 215h5v1h-5zM65 215h8v1h-8zM74 215h3v1h-3zM79 215h2v1h-2zM82 215h2v1h-2zM88 215h2v1h-2zM91 215h4v1h-4zM96 215h1v1h-1zM262 215h2v1h-2zM265 215h1v1h-1zM268 215h2v1h-2zM271 215h1v1h-1zM273 215h4v1h-4zM279 215h2v1h-2zM287 215h2v1h-2zM290 215h1v1h-1zM294 215h2v1h-2zM298 215h2v1h-2zM302 215h1v1h-1zM306 215h3v1h-3zM311 215h1v1h-1zM316 215h1v1h-1zM319 215h1v1h-1zM321 215h1v1h-1zM326 215h1v1h-1zM332 215h3v1h-3zM336 215h1v1h-1zM339 215h1v1h-1zM341 215h2v1h-2zM345 215h1v1h-1zM353 215h1v1h-1zM358 215h2v1h-2zM361 215h1v1h-1zM363 215h1v1h-1zM366 215h3v1h-3zM370 215h2v1h-2zM376 215h1v1h-1zM380 215h1v1h-1zM390 214h1v2h-1zM394 215h1v1h-1zM396 215h1v1h-1zM402 215h1v1h-1zM415 215h1v1h-1zM419 215h1v1h-1zM427 215h2v1h-2zM431 215h1v1h-1zM59 216h4v1h-4zM66 216h1v1h-1zM70 216h3v1h-3zM75 216h2v1h-2zM82 216h1v1h-1zM85 215h2v2h-2zM88 216h3v1h-3zM92 216h2v1h-2zM259 216h1v1h-1zM261 216h1v1h-1zM266 216h1v1h-1zM269 216h3v1h-3zM273 216h2v1h-2zM277 216h1v1h-1zM281 216h2v1h-2zM285 216h1v1h-1zM288 216h1v1h-1zM290 216h2v1h-2zM293 216h5v1h-5zM299 216h7v1h-7zM308 216h4v1h-4zM318 216h1v1h-1zM322 216h2v1h-2zM331 216h2v1h-2zM350 216h3v1h-3zM355 216h1v1h-1zM359 216h3v1h-3zM368 216h2v1h-2zM374 216h1v1h-1zM379 216h2v1h-2zM382 214h1v3h-1zM386 216h1v1h-1zM388 215h1v2h-1zM409 216h3v1h-3zM418 216h2v1h-2zM421 216h1v1h-1zM426 216h1v1h-1zM56 216h2v2h-2zM60 217h2v1h-2zM65 217h4v1h-4zM70 217h1v1h-1zM72 217h5v1h-5zM79 217h2v1h-2zM82 217h2v1h-2zM85 217h6v1h-6zM95 217h2v1h-2zM98 215h2v3h-2zM261 217h2v1h-2zM264 217h1v1h-1zM267 217h1v1h-1zM272 217h3v1h-3zM278 217h2v1h-2zM284 217h2v1h-2zM289 217h2v1h-2zM292 217h3v1h-3zM300 217h2v1h-2zM305 217h6v1h-6zM323 217h1v1h-1zM326 217h3v1h-3zM333 217h1v1h-1zM340 217h2v1h-2zM343 217h2v1h-2zM346 217h1v1h-1zM348 217h2v1h-2zM352 217h1v1h-1zM363 217h1v1h-1zM368 217h1v1h-1zM381 217h1v1h-1zM386 217h2v1h-2zM393 216h1v2h-1zM400 216h2v2h-2zM404 217h1v1h-1zM411 217h2v1h-2zM414 217h1v1h-1zM427 217h1v1h-1zM432 217h1v1h-1zM434 216h1v2h-1zM58 218h5v1h-5zM66 218h1v1h-1zM71 218h6v1h-6zM79 218h1v1h-1zM81 218h2v1h-2zM85 218h1v1h-1zM87 218h3v1h-3zM91 218h1v1h-1zM93 217h1v2h-1zM96 218h3v1h-3zM268 218h1v1h-1zM270 218h3v1h-3zM277 218h2v1h-2zM280 218h4v1h-4zM286 218h1v1h-1zM288 218h1v1h-1zM290 218h1v1h-1zM292 218h4v1h-4zM299 218h1v1h-1zM301 218h1v1h-1zM303 217h1v2h-1zM305 218h1v1h-1zM307 218h2v1h-2zM310 218h2v1h-2zM317 218h1v1h-1zM319 218h1v1h-1zM321 218h1v1h-1zM324 218h1v1h-1zM326 218h2v1h-2zM335 218h3v1h-3zM339 218h1v1h-1zM341 218h1v1h-1zM347 218h1v1h-1zM349 218h1v1h-1zM355 218h1v1h-1zM361 218h2v1h-2zM364 218h2v1h-2zM371 218h1v1h-1zM376 218h1v1h-1zM382 218h1v1h-1zM386 218h4v1h-4zM391 218h1v1h-1zM395 218h1v1h-1zM400 218h1v1h-1zM402 218h1v1h-1zM407 218h1v1h-1zM413 218h3v1h-3zM418 217h1v2h-1zM422 218h1v1h-1zM424 218h1v1h-1zM429 218h1v1h-1zM58 219h2v1h-2zM61 219h2v1h-2zM65 219h3v1h-3zM71 219h14v1h-14zM89 219h1v1h-1zM92 219h1v1h-1zM96 219h2v1h-2zM99 219h1v1h-1zM101 219h1v1h-1zM261 218h1v2h-1zM263 219h1v1h-1zM266 219h3v1h-3zM270 219h2v1h-2zM274 218h1v2h-1zM277 219h15v1h-15zM293 219h8v1h-8zM302 219h1v1h-1zM306 219h2v1h-2zM309 219h2v1h-2zM312 219h1v1h-1zM315 219h3v1h-3zM321 219h3v1h-3zM328 219h2v1h-2zM341 219h2v1h-2zM346 219h1v1h-1zM348 219h1v1h-1zM351 219h1v1h-1zM353 219h2v1h-2zM359 218h1v2h-1zM363 219h2v1h-2zM368 219h4v1h-4zM373 219h1v1h-1zM375 219h1v1h-1zM377 219h1v1h-1zM384 219h2v1h-2zM394 219h2v1h-2zM404 219h2v1h-2zM412 219h1v1h-1zM428 219h2v1h-2zM432 219h1v1h-1zM437 217h1v3h-1zM439 219h1v1h-1zM56 218h1v3h-1zM58 220h5v1h-5zM66 220h6v1h-6zM77 220h1v1h-1zM82 220h1v1h-1zM85 220h1v1h-1zM88 220h1v1h-1zM97 220h4v1h-4zM267 220h1v1h-1zM281 220h1v1h-1zM284 220h4v1h-4zM291 220h1v1h-1zM294 220h2v1h-2zM297 220h1v1h-1zM300 220h1v1h-1zM304 219h1v2h-1zM307 220h2v1h-2zM310 220h3v1h-3zM315 220h1v1h-1zM319 220h1v1h-1zM336 220h1v1h-1zM339 220h1v1h-1zM344 219h1v2h-1zM348 220h2v1h-2zM367 220h2v1h-2zM374 220h2v1h-2zM383 220h1v1h-1zM386 220h1v1h-1zM394 220h1v1h-1zM396 220h2v1h-2zM399 220h1v1h-1zM401 220h1v1h-1zM406 220h2v1h-2zM411 220h2v1h-2zM418 220h1v1h-1zM420 220h2v1h-2zM433 220h1v1h-1zM435 219h1v2h-1zM57 221h2v1h-2zM60 221h1v1h-1zM66 221h1v1h-1zM68 221h1v1h-1zM70 221h1v1h-1zM74 221h1v1h-1zM76 221h2v1h-2zM80 221h1v1h-1zM82 221h3v1h-3zM91 220h1v2h-1zM93 221h1v1h-1zM95 221h2v1h-2zM258 220h1v2h-1zM263 221h1v1h-1zM268 221h1v1h-1zM272 220h3v2h-3zM276 220h4v2h-4zM283 221h1v1h-1zM285 221h4v1h-4zM290 221h2v1h-2zM294 221h1v1h-1zM296 221h3v1h-3zM300 221h5v1h-5zM306 221h1v1h-1zM310 221h1v1h-1zM321 221h1v1h-1zM323 221h1v1h-1zM325 221h1v1h-1zM327 221h1v1h-1zM330 221h1v1h-1zM332 219h1v3h-1zM334 219h1v3h-1zM339 221h2v1h-2zM347 221h2v1h-2zM351 221h1v1h-1zM359 221h1v1h-1zM361 221h2v1h-2zM365 221h2v1h-2zM372 221h1v1h-1zM376 221h2v1h-2zM379 221h1v1h-1zM384 221h1v1h-1zM388 221h2v1h-2zM391 221h1v1h-1zM393 221h1v1h-1zM395 221h1v1h-1zM422 221h1v1h-1zM424 221h1v1h-1zM426 221h1v1h-1zM430 221h1v1h-1zM434 221h1v1h-1zM436 221h1v1h-1zM57 222h4v1h-4zM63 222h1v1h-1zM65 222h3v1h-3zM70 222h2v1h-2zM73 222h4v1h-4zM81 222h2v1h-2zM87 221h1v2h-1zM90 222h1v1h-1zM92 222h2v1h-2zM96 222h1v1h-1zM99 222h1v1h-1zM102 222h1v1h-1zM258 222h2v1h-2zM261 222h2v1h-2zM264 222h2v1h-2zM267 222h2v1h-2zM270 222h2v1h-2zM273 222h5v1h-5zM279 222h2v1h-2zM288 222h4v1h-4zM295 222h1v1h-1zM298 222h3v1h-3zM302 222h4v1h-4zM309 222h3v1h-3zM316 222h1v1h-1zM321 222h4v1h-4zM326 222h1v1h-1zM336 222h1v1h-1zM341 222h2v1h-2zM344 222h1v1h-1zM346 222h1v1h-1zM349 222h2v1h-2zM353 222h1v1h-1zM357 222h1v1h-1zM360 222h1v1h-1zM363 222h2v1h-2zM367 222h1v1h-1zM378 222h2v1h-2zM382 222h1v1h-1zM387 222h1v1h-1zM390 222h3v1h-3zM399 222h2v1h-2zM403 220h1v3h-1zM410 222h1v1h-1zM412 222h1v1h-1zM414 222h1v1h-1zM420 222h4v1h-4zM425 222h1v1h-1zM427 222h1v1h-1zM431 222h1v1h-1zM433 222h3v1h-3zM439 222h1v1h-1zM57 223h6v1h-6zM65 223h4v1h-4zM70 223h4v1h-4zM75 223h1v1h-1zM80 223h3v1h-3zM85 223h1v1h-1zM88 223h2v1h-2zM91 223h3v1h-3zM96 223h3v1h-3zM258 223h1v1h-1zM264 223h3v1h-3zM268 223h5v1h-5zM275 223h2v1h-2zM280 223h2v1h-2zM284 223h1v1h-1zM286 222h1v2h-1zM288 223h3v1h-3zM293 223h1v1h-1zM296 223h3v1h-3zM300 223h1v1h-1zM302 223h2v1h-2zM305 223h1v1h-1zM308 223h1v1h-1zM314 222h1v2h-1zM324 223h2v1h-2zM327 223h1v1h-1zM331 223h1v1h-1zM334 223h1v1h-1zM339 223h1v1h-1zM341 223h4v1h-4zM354 223h1v1h-1zM357 223h2v1h-2zM360 223h3v1h-3zM366 223h2v1h-2zM372 223h2v1h-2zM375 222h1v2h-1zM377 223h2v1h-2zM380 223h2v1h-2zM388 223h2v1h-2zM392 223h2v1h-2zM395 223h2v1h-2zM398 223h1v1h-1zM402 223h1v1h-1zM406 223h1v1h-1zM408 223h1v1h-1zM411 223h1v1h-1zM418 223h1v1h-1zM420 223h1v1h-1zM436 223h4v1h-4zM62 224h1v1h-1zM66 224h3v1h-3zM75 224h2v1h-2zM79 224h1v1h-1zM82 224h3v1h-3zM90 224h1v1h-1zM92 224h4v1h-4zM98 224h1v1h-1zM100 224h1v1h-1zM260 223h1v2h-1zM265 224h1v1h-1zM267 224h1v1h-1zM270 224h1v1h-1zM274 224h3v1h-3zM278 224h1v1h-1zM280 224h4v1h-4zM286 224h7v1h-7zM294 224h3v1h-3zM301 224h1v1h-1zM303 224h1v1h-1zM315 224h1v1h-1zM320 224h1v1h-1zM322 224h1v1h-1zM333 224h2v1h-2zM336 224h1v1h-1zM344 224h1v1h-1zM349 224h2v1h-2zM352 224h1v1h-1zM354 224h2v1h-2zM360 224h2v1h-2zM364 224h1v1h-1zM373 224h1v1h-1zM378 224h3v1h-3zM382 224h1v1h-1zM386 223h1v2h-1zM392 224h1v1h-1zM396 224h1v1h-1zM399 224h1v1h-1zM402 224h4v1h-4zM407 224h1v1h-1zM409 224h1v1h-1zM411 224h2v1h-2zM420 224h2v1h-2zM423 224h2v1h-2zM56 224h1v2h-1zM58 224h3v2h-3zM62 225h7v1h-7zM71 224h1v2h-1zM73 225h8v1h-8zM82 225h2v1h-2zM87 225h2v1h-2zM92 225h1v1h-1zM96 225h2v1h-2zM99 225h1v1h-1zM260 225h2v1h-2zM267 225h3v1h-3zM271 225h2v1h-2zM274 225h2v1h-2zM277 225h2v1h-2zM281 225h1v1h-1zM284 225h1v1h-1zM286 225h1v1h-1zM288 225h1v1h-1zM292 225h3v1h-3zM298 225h2v1h-2zM302 225h3v1h-3zM307 225h2v1h-2zM310 224h2v2h-2zM313 225h1v1h-1zM317 225h1v1h-1zM321 225h1v1h-1zM324 225h1v1h-1zM332 225h1v1h-1zM337 225h1v1h-1zM339 225h1v1h-1zM341 225h1v1h-1zM343 225h1v1h-1zM350 225h2v1h-2zM357 225h1v1h-1zM359 225h1v1h-1zM363 225h1v1h-1zM365 225h1v1h-1zM369 225h2v1h-2zM374 225h2v1h-2zM379 225h1v1h-1zM381 225h1v1h-1zM395 225h1v1h-1zM397 225h1v1h-1zM400 225h2v1h-2zM418 225h1v1h-1zM420 225h1v1h-1zM425 225h1v1h-1zM427 225h1v1h-1zM432 225h2v1h-2zM435 225h2v1h-2zM56 226h3v1h-3zM60 226h2v1h-2zM70 226h3v1h-3zM74 226h4v1h-4zM80 226h3v1h-3zM85 226h5v1h-5zM91 226h1v1h-1zM94 226h2v1h-2zM97 226h1v1h-1zM56 227h4v1h-4zM61 227h1v1h-1zM65 226h4v2h-4zM71 227h2v1h-2zM74 227h1v1h-1zM76 227h8v1h-8zM87 227h9v1h-9zM97 227h3v1h-3zM56 228h3v1h-3zM60 228h2v1h-2zM64 228h5v1h-5zM71 228h3v1h-3zM76 228h2v1h-2zM79 228h2v1h-2zM82 228h2v1h-2zM90 228h2v1h-2zM96 228h2v1h-2zM56 229h2v1h-2zM59 229h1v1h-1zM61 229h1v1h-1zM63 229h2v1h-2zM66 229h2v1h-2zM73 229h1v1h-1zM75 229h1v1h-1zM79 229h1v1h-1zM81 229h4v1h-4zM87 228h2v2h-2zM91 229h1v1h-1zM99 228h1v2h-1zM47 305h1v1h-1zM52 305h1v1h-1zM60 305h2v1h-2zM74 305h2v1h-2zM80 305h1v1h-1zM84 305h1v1h-1zM94 305h1v1h-1zM108 305h1v1h-1zM115 305h2v1h-2zM122 305h1v1h-1zM134 305h1v1h-1zM150 305h1v1h-1zM172 305h1v1h-1zM175 305h2v1h-2zM190 305h1v1h-1zM212 305h2v1h-2zM230 305h2v1h-2zM237 305h1v1h-1zM269 305h1v1h-1zM282 305h1v1h-1zM49 306h1v1h-1zM54 306h1v1h-1zM59 306h1v1h-1zM64 306h1v1h-1zM78 306h2v1h-2zM83 306h1v1h-1zM89 306h1v1h-1zM93 306h2v1h-2zM99 306h1v1h-1zM108 306h2v1h-2zM128 306h1v1h-1zM132 306h2v1h-2zM135 306h1v1h-1zM144 306h2v1h-2zM161 306h1v1h-1zM163 306h1v1h-1zM165 306h1v1h-1zM169 306h1v1h-1zM173 306h1v1h-1zM176 306h1v1h-1zM179 306h1v1h-1zM191 306h1v1h-1zM206 306h1v1h-1zM229 306h1v1h-1zM231 306h1v1h-1zM240 306h1v1h-1zM243 306h2v1h-2zM250 306h1v1h-1zM253 306h1v1h-1zM257 306h1v1h-1zM259 305h1v2h-1zM266 306h1v1h-1zM270 306h1v1h-1zM274 306h2v1h-2zM280 306h1v1h-1zM283 306h1v1h-1zM46 307h2v1h-2zM60 307h1v1h-1zM63 307h1v1h-1zM65 307h1v1h-1zM73 307h1v1h-1zM84 307h1v1h-1zM105 307h1v1h-1zM107 307h1v1h-1zM109 307h1v1h-1zM111 307h1v1h-1zM116 307h1v1h-1zM139 307h1v1h-1zM142 307h1v1h-1zM146 307h1v1h-1zM148 307h1v1h-1zM164 307h1v1h-1zM184 307h2v1h-2zM194 307h1v1h-1zM199 307h1v1h-1zM216 307h2v1h-2zM223 307h3v1h-3zM227 307h2v1h-2zM235 307h1v1h-1zM242 307h1v1h-1zM244 307h2v1h-2zM261 307h1v1h-1zM286 307h1v1h-1zM48 308h1v1h-1zM51 308h2v1h-2zM59 308h1v1h-1zM68 308h2v1h-2zM75 308h1v1h-1zM90 307h1v2h-1zM97 308h1v1h-1zM100 308h1v1h-1zM134 308h1v1h-1zM137 308h1v1h-1zM144 308h1v1h-1zM152 308h1v1h-1zM154 306h1v3h-1zM158 308h1v1h-1zM165 308h1v1h-1zM173 308h1v1h-1zM181 308h1v1h-1zM193 308h1v1h-1zM196 307h1v2h-1zM200 308h1v1h-1zM205 308h1v1h-1zM214 308h1v1h-1zM217 308h1v1h-1zM226 308h2v1h-2zM247 308h1v1h-1zM249 308h2v1h-2zM257 308h1v1h-1zM274 308h1v1h-1zM277 308h1v1h-1zM288 308h1v1h-1zM51 309h1v1h-1zM60 309h2v1h-2zM68 309h1v1h-1zM70 309h1v1h-1zM81 309h1v1h-1zM86 309h2v1h-2zM89 309h1v1h-1zM94 309h1v1h-1zM98 309h1v1h-1zM116 309h1v1h-1zM119 308h1v2h-1zM123 309h1v1h-1zM128 309h1v1h-1zM131 309h1v1h-1zM148 309h1v1h-1zM157 309h1v1h-1zM164 309h4v1h-4zM169 309h2v1h-2zM177 309h1v1h-1zM184 309h1v1h-1zM194 309h1v1h-1zM207 308h1v2h-1zM209 309h2v1h-2zM215 309h2v1h-2zM219 309h1v1h-1zM246 309h1v1h-1zM261 309h2v1h-2zM271 309h1v1h-1zM273 309h1v1h-1zM284 309h1v1h-1zM287 309h1v1h-1zM58 310h1v1h-1zM75 310h1v1h-1zM82 310h1v1h-1zM88 310h1v1h-1zM92 310h1v1h-1zM100 310h1v1h-1zM122 310h1v1h-1zM134 310h1v1h-1zM141 310h1v1h-1zM159 310h2v1h-2zM171 310h2v1h-2zM180 310h1v1h-1zM187 310h2v1h-2zM192 309h1v2h-1zM199 310h1v1h-1zM211 310h1v1h-1zM217 310h2v1h-2zM221 310h1v1h-1zM226 310h1v1h-1zM230 310h1v1h-1zM240 310h1v1h-1zM253 310h1v1h-1zM256 310h1v1h-1zM268 310h1v1h-1zM278 310h1v1h-1zM283 310h1v1h-1zM30 319h2v1h-2zM43 319h2v1h-2zM56 319h1v1h-1zM63 319h1v1h-1zM73 319h1v1h-1zM77 319h1v1h-1zM85 319h2v1h-2zM88 319h1v1h-1zM92 319h1v1h-1zM100 319h1v1h-1zM102 319h1v1h-1zM106 319h1v1h-1zM109 319h1v1h-1zM118 319h1v1h-1zM125 319h1v1h-1zM131 319h1v1h-1zM136 319h1v1h-1zM153 319h1v1h-1zM166 319h1v1h-1zM169 319h1v1h-1zM178 319h1v1h-1zM181 319h1v1h-1zM183 319h1v1h-1zM185 319h1v1h-1zM199 319h1v1h-1zM202 319h1v1h-1zM220 319h2v1h-2zM223 319h1v1h-1zM230 319h1v1h-1zM235 319h1v1h-1zM240 319h1v1h-1zM242 319h1v1h-1zM263 319h1v1h-1zM275 319h2v1h-2zM288 319h1v1h-1zM24 320h1v1h-1zM38 320h1v1h-1zM49 320h1v1h-1zM53 320h1v1h-1zM57 320h1v1h-1zM59 320h1v1h-1zM67 320h1v1h-1zM78 320h2v1h-2zM84 320h2v1h-2zM105 320h2v1h-2zM116 320h1v1h-1zM120 320h1v1h-1zM123 320h2v1h-2zM140 319h1v2h-1zM149 320h1v1h-1zM156 320h1v1h-1zM158 319h1v2h-1zM174 320h1v1h-1zM180 320h1v1h-1zM195 320h1v1h-1zM200 320h1v1h-1zM206 320h1v1h-1zM208 320h1v1h-1zM213 320h1v1h-1zM226 320h1v1h-1zM228 320h1v1h-1zM236 320h1v1h-1zM243 320h1v1h-1zM247 320h1v1h-1zM252 320h1v1h-1zM254 320h1v1h-1zM259 320h1v1h-1zM261 320h1v1h-1zM265 320h2v1h-2zM268 320h1v1h-1zM271 320h2v1h-2zM282 320h1v1h-1zM284 320h1v1h-1zM18 321h2v1h-2zM25 321h1v1h-1zM42 321h1v1h-1zM44 321h1v1h-1zM50 321h1v1h-1zM54 321h1v1h-1zM56 321h1v1h-1zM65 321h1v1h-1zM71 320h1v2h-1zM73 321h2v1h-2zM81 321h2v1h-2zM87 321h1v1h-1zM89 321h1v1h-1zM97 320h1v2h-1zM104 321h1v1h-1zM109 321h2v1h-2zM114 321h1v1h-1zM119 321h1v1h-1zM123 321h1v1h-1zM128 321h1v1h-1zM130 320h1v2h-1zM132 321h1v1h-1zM146 321h1v1h-1zM148 321h2v1h-2zM151 321h1v1h-1zM164 321h1v1h-1zM182 321h1v1h-1zM188 321h1v1h-1zM193 320h1v2h-1zM201 321h1v1h-1zM210 321h2v1h-2zM215 321h1v1h-1zM217 321h1v1h-1zM221 320h1v2h-1zM235 321h1v1h-1zM242 321h1v1h-1zM246 321h2v1h-2zM249 321h1v1h-1zM260 321h2v1h-2zM280 321h1v1h-1zM19 322h1v1h-1zM21 322h1v1h-1zM24 322h1v1h-1zM26 322h1v1h-1zM28 322h1v1h-1zM35 322h1v1h-1zM41 322h1v1h-1zM60 322h1v1h-1zM69 321h1v2h-1zM74 322h1v1h-1zM76 322h1v1h-1zM79 322h1v1h-1zM91 322h1v1h-1zM94 322h2v1h-2zM101 321h1v2h-1zM103 322h1v1h-1zM120 322h1v1h-1zM124 322h1v1h-1zM126 322h1v1h-1zM140 322h1v1h-1zM149 322h1v1h-1zM159 322h1v1h-1zM161 322h1v1h-1zM167 321h1v2h-1zM169 321h1v2h-1zM174 322h1v1h-1zM176 321h2v2h-2zM197 322h1v1h-1zM200 322h1v1h-1zM209 322h1v1h-1zM211 322h1v1h-1zM225 322h1v1h-1zM239 322h1v1h-1zM246 322h1v1h-1zM261 322h1v1h-1zM268 322h1v1h-1zM273 322h1v1h-1zM276 322h1v1h-1zM278 321h1v2h-1zM282 322h1v1h-1zM284 322h1v1h-1zM27 323h1v1h-1zM30 323h1v1h-1zM32 323h1v1h-1zM42 323h1v1h-1zM48 323h1v1h-1zM55 323h1v1h-1zM57 323h1v1h-1zM62 322h1v2h-1zM68 323h1v1h-1zM74 323h3v1h-3zM82 323h1v1h-1zM85 323h1v1h-1zM90 323h1v1h-1zM105 323h1v1h-1zM109 323h1v1h-1zM112 323h1v1h-1zM119 323h1v1h-1zM134 322h1v2h-1zM139 323h1v1h-1zM144 323h1v1h-1zM155 322h1v2h-1zM165 323h1v1h-1zM168 323h1v1h-1zM171 322h1v2h-1zM178 323h1v1h-1zM187 323h2v1h-2zM194 322h1v2h-1zM202 323h1v1h-1zM207 323h1v1h-1zM215 323h1v1h-1zM221 323h2v1h-2zM226 323h1v1h-1zM228 323h1v1h-1zM230 322h1v2h-1zM233 322h1v2h-1zM242 323h1v1h-1zM248 322h1v2h-1zM253 323h1v1h-1zM258 323h1v1h-1zM267 323h1v1h-1zM271 323h1v1h-1zM31 324h1v1h-1zM33 324h2v1h-2zM36 323h1v2h-1zM39 323h1v2h-1zM43 324h2v1h-2zM47 324h1v1h-1zM51 323h1v2h-1zM61 324h1v1h-1zM64 324h1v1h-1zM66 324h1v1h-1zM69 324h1v1h-1zM71 324h1v1h-1zM76 324h1v1h-1zM80 324h1v1h-1zM93 323h1v2h-1zM95 324h1v1h-1zM100 324h1v1h-1zM103 324h1v1h-1zM107 324h2v1h-2zM115 324h1v1h-1zM125 324h1v1h-1zM135 324h1v1h-1zM149 324h1v1h-1zM153 324h1v1h-1zM164 324h1v1h-1zM172 324h1v1h-1zM175 324h1v1h-1zM180 324h1v1h-1zM182 324h1v1h-1zM193 324h1v1h-1zM195 324h1v1h-1zM197 324h1v1h-1zM201 324h1v1h-1zM213 324h4v1h-4zM246 324h1v1h-1zM248 324h2v1h-2zM256 323h1v2h-1zM272 324h1v1h-1zM283 324h1v1h-1zM286 324h1v1h-1zM288 324h1v1h-1zM18 325h1v1h-1zM25 325h1v1h-1zM28 325h1v1h-1zM33 325h1v1h-1zM42 325h1v1h-1zM48 325h1v1h-1zM68 325h1v1h-1zM84 325h1v1h-1zM95 325h2v1h-2zM98 324h1v2h-1zM106 325h1v1h-1zM110 325h1v1h-1zM112 325h1v1h-1zM116 325h1v1h-1zM121 324h1v2h-1zM124 325h1v1h-1zM127 325h1v1h-1zM130 324h1v2h-1zM133 325h1v1h-1zM137 324h1v2h-1zM143 324h1v2h-1zM145 325h1v1h-1zM148 325h1v1h-1zM159 324h1v2h-1zM162 325h1v1h-1zM176 325h2v1h-2zM183 325h2v1h-2zM192 325h1v1h-1zM200 325h1v1h-1zM205 325h1v1h-1zM209 325h1v1h-1zM219 325h2v1h-2zM228 325h1v1h-1zM234 325h1v1h-1zM237 325h3v1h-3zM249 325h1v1h-1zM262 325h1v1h-1zM264 325h2v1h-2zM270 325h1v1h-1zM277 325h1v1h-1zM282 325h1v1h-1z"/>
<path fill="#78eaf2" d="M184 48h1v1h-1zM186 48h1v1h-1zM188 48h1v1h-1zM190 48h1v1h-1zM196 48h1v1h-1zM200 48h1v1h-1zM202 48h1v1h-1zM206 48h1v1h-1zM208 48h1v1h-1zM210 48h1v1h-1zM212 48h1v1h-1zM214 48h1v1h-1zM216 48h1v1h-1zM218 48h1v1h-1zM224 48h1v1h-1zM226 48h1v1h-1zM244 48h1v1h-1zM250 48h1v1h-1zM252 48h1v1h-1zM254 48h1v1h-1zM256 48h1v1h-1zM260 48h1v1h-1zM262 48h1v1h-1zM264 48h1v1h-1zM266 48h1v1h-1zM163 80h1v1h-1zM171 80h1v1h-1zM173 80h1v1h-1zM175 80h1v1h-1zM177 80h1v1h-1zM183 80h1v1h-1zM185 80h1v1h-1zM187 80h1v1h-1zM189 80h1v1h-1zM197 80h1v1h-1zM199 80h1v1h-1zM201 80h1v1h-1zM203 80h1v1h-1zM205 80h1v1h-1zM211 80h1v1h-1zM215 80h1v1h-1zM217 80h1v1h-1zM219 80h1v1h-1zM221 80h1v1h-1zM223 80h1v1h-1zM225 80h1v1h-1zM227 80h1v1h-1zM233 80h1v1h-1zM235 80h1v1h-1zM237 80h1v1h-1zM239 80h1v1h-1zM241 80h1v1h-1zM247 80h1v1h-1zM249 80h1v1h-1zM251 80h1v1h-1zM253 80h1v1h-1zM257 80h1v1h-1zM263 80h1v1h-1zM265 80h1v1h-1zM267 80h1v1h-1zM273 80h1v1h-1zM275 80h1v1h-1zM156 115h1v1h-1zM158 115h1v1h-1zM174 115h1v1h-1zM178 115h1v1h-1zM180 115h1v1h-1zM182 115h1v1h-1zM184 115h1v1h-1zM188 115h1v1h-1zM190 115h1v1h-1zM194 115h1v1h-1zM196 115h1v1h-1zM198 115h1v1h-1zM200 115h1v1h-1zM204 115h1v1h-1zM208 115h1v1h-1zM212 115h1v1h-1zM214 115h1v1h-1zM216 115h1v1h-1zM218 115h1v1h-1zM220 115h1v1h-1zM224 115h1v1h-1zM226 115h1v1h-1zM228 115h1v1h-1zM230 115h1v1h-1zM232 115h1v1h-1zM234 115h1v1h-1zM236 115h1v1h-1zM238 115h1v1h-1zM252 115h1v1h-1zM254 115h1v1h-1zM100 257h1v1h-1zM104 257h1v1h-1zM106 257h1v1h-1zM112 257h1v1h-1zM98 275h1v1h-1zM104 275h1v1h-1zM106 275h1v1h-1zM108 275h1v1h-1zM112 275h1v1h-1zM124 275h1v1h-1zM68 288h1v1h-1zM72 288h1v1h-1zM80 288h1v1h-1zM86 288h1v1h-1zM94 288h1v1h-1zM96 288h1v1h-1zM98 288h1v1h-1zM100 288h1v1h-1zM102 288h1v1h-1zM110 288h1v1h-1zM112 288h1v1h-1zM120 288h1v1h-1zM124 288h1v1h-1z"/>
<path fill="#1c0000" d="M193 186h6v45h-6zM220 186h6v45h-6z"/>
<path fill="#3a44c4" d="M226 23h2v2h-2zM232 23h2v2h-2zM235 23h2v2h-2zM238 23h2v2h-2zM241 23h2v2h-2zM244 23h2v2h-2zM247 23h2v2h-2zM250 23h2v2h-2zM253 23h2v2h-2zM256 23h2v2h-2zM261 23h2v2h-2zM264 23h2v2h-2zM267 23h1v2h-1zM270 23h2v2h-2zM274 23h2v2h-2zM280 23h4v2h-4zM303 23h2v2h-2zM315 23h2v2h-2zM226 40h2v2h-2zM229 40h2v2h-2zM232 40h2v2h-2zM235 40h2v2h-2zM241 40h2v2h-2zM244 40h2v2h-2zM247 40h2v2h-2zM250 40h2v2h-2zM253 40h2v2h-2zM256 40h2v2h-2zM261 40h2v2h-2zM264 40h2v2h-2zM267 40h1v2h-1zM270 40h2v2h-2zM274 40h2v2h-2zM280 40h4v2h-4zM303 40h2v2h-2zM315 40h2v2h-2zM226 59h2v2h-2zM229 59h2v2h-2zM232 59h2v2h-2zM235 59h2v2h-2zM238 59h2v2h-2zM241 59h2v2h-2zM244 59h2v2h-2zM247 59h2v2h-2zM250 59h2v2h-2zM253 59h2v2h-2zM256 59h2v2h-2zM261 59h2v2h-2zM264 59h2v2h-2zM267 59h1v2h-1zM270 59h2v2h-2zM274 59h2v2h-2zM280 59h4v2h-4zM303 59h2v2h-2zM315 59h2v2h-2z"/>
<path fill="#b04a2c" d="M226 186h4v36h-4zM226 222h2v2h-2zM156 224h37v1h-37zM229 223h1v2h-1zM156 225h5v1h-5zM162 225h15v1h-15zM178 225h11v1h-11zM190 225h3v1h-3zM228 225h1v1h-1zM156 226h37v1h-37zM226 226h4v1h-4zM155 227h19v1h-19zM175 227h2v1h-2zM178 227h7v1h-7zM186 227h7v1h-7zM228 227h2v1h-2zM156 228h2v1h-2zM159 228h27v1h-27zM187 228h2v1h-2zM190 228h3v1h-3zM226 228h4v1h-4zM154 229h1v1h-1zM156 229h8v1h-8zM165 229h14v1h-14zM180 229h13v1h-13zM226 229h2v1h-2zM229 229h1v1h-1zM226 230h4v1h-4z"/>
<path fill="#021602" d="M199 186h21v5h-21zM199 224h21v7h-21z"/>
<path fill="#d6f6d2" d="M193 249h7v1h-7zM201 249h6v1h-6zM208 249h7v1h-7zM216 249h6v1h-6zM223 249h3v1h-3zM193 250h5v1h-5zM201 250h10v1h-10zM213 250h2v1h-2zM216 250h10v1h-10zM193 251h6v1h-6zM200 251h19v1h-19zM221 251h5v1h-5zM215 253h2v1h-2zM221 253h1v1h-1zM195 254h1v1h-1zM201 254h1v1h-1zM209 254h2v1h-2zM213 254h1v1h-1zM193 255h2v1h-2zM197 255h4v1h-4zM202 255h3v1h-3zM206 255h6v1h-6zM213 255h2v1h-2zM216 255h4v1h-4zM221 255h2v1h-2zM224 255h2v1h-2zM193 256h5v1h-5zM199 256h11v1h-11zM211 256h3v1h-3zM215 256h11v1h-11zM212 258h1v1h-1zM193 259h24v1h-24zM219 259h7v1h-7zM193 260h9v1h-9zM203 260h1v1h-1zM205 260h7v1h-7zM213 260h1v1h-1zM215 260h11v1h-11zM195 261h1v1h-1zM214 261h1v1h-1zM205 262h1v1h-1zM196 263h10v1h-10zM207 263h6v1h-6zM215 263h2v1h-2zM219 263h3v1h-3zM223 263h3v1h-3zM193 263h2v2h-2zM196 264h1v1h-1zM199 264h7v1h-7zM207 264h7v1h-7zM215 264h4v1h-4zM220 264h6v1h-6zM193 265h12v1h-12zM206 265h14v1h-14zM221 265h5v1h-5zM193 266h6v1h-6zM200 266h26v1h-26zM193 267h3v1h-3zM199 267h1v1h-1zM202 267h4v1h-4zM207 267h2v1h-2zM210 267h16v1h-16zM193 268h6v1h-6zM200 268h13v1h-13zM215 268h11v1h-11zM199 269h1v1h-1zM193 269h1v2h-1zM195 270h1v1h-1zM222 270h1v1h-1zM193 271h6v1h-6zM200 271h1v1h-1zM202 271h7v1h-7zM210 271h2v1h-2zM213 271h13v1h-13zM197 278h1v1h-1zM200 278h1v1h-1zM214 278h1v1h-1zM211 279h1v1h-1zM200 280h1v1h-1zM216 280h1v1h-1zM220 280h1v1h-1zM193 281h10v1h-10zM204 281h10v1h-10zM215 281h5v1h-5zM222 281h4v1h-4zM193 282h7v1h-7zM202 282h10v1h-10zM214 282h6v1h-6zM221 282h5v1h-5zM193 283h11v1h-11zM205 283h19v1h-19zM225 283h1v1h-1zM193 284h5v1h-5zM199 284h13v1h-13zM213 284h4v1h-4zM218 284h8v1h-8zM193 285h11v1h-11zM205 285h20v1h-20zM193 286h2v1h-2zM208 286h1v1h-1zM211 286h1v1h-1zM220 286h1v1h-1zM198 287h1v1h-1zM218 287h1v1h-1zM193 288h3v1h-3zM197 288h1v1h-1zM199 288h3v1h-3zM203 288h2v1h-2zM206 288h5v1h-5zM212 288h6v1h-6zM219 288h5v1h-5zM225 288h1v1h-1z"/>
<path fill="#e2f8ec" d="M212 22h3v1h-3zM216 22h4v1h-4zM221 22h5v1h-5zM227 22h9v1h-9zM237 22h3v1h-3zM229 23h3v1h-3zM237 23h1v1h-1zM206 22h1v3h-1zM209 23h2v2h-2zM228 24h1v1h-1zM230 24h1v1h-1zM234 23h1v2h-1zM205 25h2v1h-2zM208 25h11v1h-11zM221 25h8v1h-8zM230 25h10v1h-10zM205 26h4v1h-4zM210 26h3v1h-3zM214 26h7v1h-7zM222 26h7v1h-7zM230 26h4v1h-4zM235 26h5v1h-5zM205 27h1v1h-1zM207 27h11v1h-11zM219 27h3v1h-3zM223 27h5v1h-5zM229 27h2v1h-2zM232 27h1v1h-1zM234 27h6v1h-6zM205 39h1v1h-1zM207 39h2v1h-2zM210 39h9v1h-9zM220 39h2v1h-2zM223 39h6v1h-6zM231 39h3v1h-3zM235 39h1v1h-1zM237 39h1v1h-1zM239 39h1v1h-1zM238 40h2v1h-2zM228 41h1v1h-1zM231 40h1v2h-1zM234 40h1v2h-1zM239 41h1v1h-1zM205 42h2v1h-2zM208 42h6v1h-6zM216 42h8v1h-8zM227 42h1v1h-1zM229 42h2v1h-2zM232 42h5v1h-5zM238 42h2v1h-2zM205 43h9v1h-9zM215 43h5v1h-5zM223 43h17v1h-17zM205 44h5v1h-5zM211 44h1v1h-1zM213 44h1v1h-1zM215 44h3v1h-3zM220 44h3v1h-3zM224 44h7v1h-7zM232 44h1v1h-1zM234 44h5v1h-5zM206 58h2v1h-2zM209 58h5v1h-5zM215 58h1v1h-1zM217 58h6v1h-6zM224 58h9v1h-9zM235 58h5v1h-5zM206 59h1v1h-1zM209 59h1v1h-1zM209 60h2v1h-2zM228 59h1v2h-1zM231 59h1v2h-1zM234 60h1v1h-1zM237 59h1v2h-1zM205 61h5v1h-5zM211 61h3v1h-3zM215 61h12v1h-12zM228 61h8v1h-8zM205 62h4v1h-4zM213 62h2v1h-2zM216 62h3v1h-3zM220 62h1v1h-1zM222 62h1v1h-1zM224 62h6v1h-6zM231 62h6v1h-6zM238 61h2v2h-2zM205 63h12v1h-12zM218 63h4v1h-4zM223 63h10v1h-10zM234 63h2v1h-2zM237 63h3v1h-3z"/>
<path fill="#fbdde9" d="M100 196h2v1h-2zM104 196h1v1h-1zM106 196h13v1h-13zM120 196h1v1h-1zM122 196h5v1h-5zM129 196h1v1h-1zM132 196h3v1h-3zM150 196h1v1h-1zM154 196h1v1h-1zM100 197h3v1h-3zM105 197h2v1h-2zM111 197h3v1h-3zM115 197h4v1h-4zM122 197h3v1h-3zM130 197h3v1h-3zM137 196h2v2h-2zM141 196h1v2h-1zM145 197h2v1h-2zM100 198h2v1h-2zM104 198h2v1h-2zM108 197h2v2h-2zM112 198h3v1h-3zM118 198h1v1h-1zM120 198h3v1h-3zM126 198h1v1h-1zM128 198h1v1h-1zM130 198h2v1h-2zM134 198h1v1h-1zM101 199h3v1h-3zM105 199h4v1h-4zM110 199h7v1h-7zM118 199h4v1h-4zM126 199h2v1h-2zM130 199h4v1h-4zM138 199h1v1h-1zM141 198h2v2h-2zM100 200h9v1h-9zM110 200h10v1h-10zM123 200h4v1h-4zM128 200h4v1h-4zM142 200h1v1h-1zM154 200h1v1h-1zM100 201h3v1h-3zM105 201h1v1h-1zM107 201h4v1h-4zM113 201h7v1h-7zM121 200h1v2h-1zM123 201h6v1h-6zM130 201h2v1h-2zM134 201h1v1h-1zM138 201h1v1h-1zM100 202h7v1h-7zM108 202h2v1h-2zM111 202h3v1h-3zM117 202h2v1h-2zM125 202h3v1h-3zM133 202h2v1h-2zM137 202h1v1h-1zM100 203h3v1h-3zM105 203h3v1h-3zM110 203h1v1h-1zM112 203h2v1h-2zM115 203h3v1h-3zM121 202h2v2h-2zM126 203h1v1h-1zM129 202h2v2h-2zM145 203h1v1h-1zM149 203h1v1h-1zM153 203h1v1h-1zM106 204h6v1h-6zM113 204h1v1h-1zM116 204h1v1h-1zM118 204h1v1h-1zM124 204h2v1h-2zM127 204h3v1h-3zM133 204h1v1h-1zM100 205h7v1h-7zM113 205h6v1h-6zM121 204h1v2h-1zM124 205h3v1h-3zM129 205h2v1h-2zM146 204h1v2h-1zM100 206h1v1h-1zM103 206h1v1h-1zM105 206h2v1h-2zM108 205h4v2h-4zM113 206h1v1h-1zM116 206h3v1h-3zM121 206h2v1h-2zM126 206h1v1h-1zM133 206h1v1h-1zM100 207h5v1h-5zM109 207h4v1h-4zM114 207h1v1h-1zM117 207h1v1h-1zM125 207h2v1h-2zM130 207h1v1h-1zM142 207h1v1h-1zM145 207h1v1h-1zM153 207h1v1h-1zM100 208h2v1h-2zM105 208h2v1h-2zM110 208h2v1h-2zM113 208h2v1h-2zM122 207h1v2h-1zM126 208h1v1h-1zM134 208h1v1h-1zM146 208h1v1h-1zM149 208h2v1h-2zM102 209h5v1h-5zM114 209h2v1h-2zM117 208h2v2h-2zM125 209h1v1h-1zM129 208h1v2h-1zM138 209h1v1h-1zM155 209h1v1h-1zM100 210h1v1h-1zM102 210h4v1h-4zM115 210h4v1h-4zM121 209h2v2h-2zM133 210h1v1h-1zM150 210h1v1h-1zM100 211h6v1h-6zM107 211h1v1h-1zM109 209h2v3h-2zM112 211h3v1h-3zM117 211h2v1h-2zM122 211h1v1h-1zM125 211h2v1h-2zM134 211h1v1h-1zM141 210h1v2h-1zM146 211h1v1h-1zM155 211h1v1h-1zM100 212h1v1h-1zM103 212h1v1h-1zM105 212h2v1h-2zM109 212h1v1h-1zM121 212h1v1h-1zM127 212h1v1h-1zM149 212h1v1h-1zM101 213h6v1h-6zM113 212h2v2h-2zM118 212h1v2h-1zM122 213h1v1h-1zM134 213h1v1h-1zM145 212h1v2h-1zM150 213h1v1h-1zM153 213h1v1h-1zM109 213h2v2h-2zM114 214h1v1h-1zM121 214h2v1h-2zM130 214h1v1h-1zM133 214h1v1h-1zM137 213h1v2h-1zM141 214h2v1h-2zM146 214h1v1h-1zM155 214h1v1h-1zM100 214h2v2h-2zM103 214h2v2h-2zM106 215h1v1h-1zM110 215h1v1h-1zM117 215h2v1h-2zM125 214h1v2h-1zM142 215h1v1h-1zM145 215h1v1h-1zM100 216h6v1h-6zM109 216h2v1h-2zM117 216h1v1h-1zM130 216h1v1h-1zM138 216h1v1h-1zM146 216h1v1h-1zM100 217h5v1h-5zM106 217h1v1h-1zM110 217h1v1h-1zM113 215h2v3h-2zM122 217h1v1h-1zM126 216h1v2h-1zM142 217h1v1h-1zM154 217h2v1h-2zM102 218h1v1h-1zM104 218h3v1h-3zM109 218h2v1h-2zM125 218h1v1h-1zM133 218h1v1h-1zM138 218h1v1h-1zM149 218h2v1h-2zM100 218h1v2h-1zM102 219h5v1h-5zM110 219h1v1h-1zM117 219h1v1h-1zM121 219h1v1h-1zM126 219h1v1h-1zM134 219h1v1h-1zM137 219h2v1h-2zM141 218h1v2h-1zM154 219h1v1h-1zM101 220h1v1h-1zM103 220h1v1h-1zM105 220h1v1h-1zM114 219h1v2h-1zM129 220h1v1h-1zM101 221h6v1h-6zM117 220h2v2h-2zM133 221h2v1h-2zM100 222h2v1h-2zM103 222h1v1h-1zM106 222h1v1h-1zM109 220h2v3h-2zM114 222h1v1h-1zM129 222h1v1h-1zM134 222h1v1h-1zM145 221h1v2h-1zM100 223h6v1h-6zM110 223h1v1h-1zM113 223h2v1h-2zM117 222h1v2h-1zM122 222h1v2h-1zM126 221h1v3h-1zM129 223h2v1h-2zM133 223h1v1h-1zM145 223h2v1h-2zM154 223h1v1h-1zM101 224h4v1h-4zM109 224h1v1h-1zM114 224h1v1h-1zM117 224h2v1h-2zM125 224h1v1h-1zM129 224h1v1h-1zM138 224h1v1h-1zM101 225h3v1h-3zM106 225h1v1h-1zM109 225h2v1h-2zM121 225h1v1h-1zM126 225h1v1h-1zM137 225h1v1h-1zM146 225h1v1h-1zM149 225h1v1h-1zM154 225h1v1h-1zM101 226h4v1h-4zM117 226h1v1h-1zM129 226h2v1h-2zM141 226h2v1h-2zM100 227h1v1h-1zM102 227h2v1h-2zM106 227h1v1h-1zM109 227h1v1h-1zM121 227h1v1h-1zM133 227h2v1h-2zM100 228h3v1h-3zM104 228h2v1h-2zM110 228h1v1h-1zM113 228h2v1h-2zM117 228h1v1h-1zM122 228h1v1h-1zM125 228h1v1h-1zM154 228h1v1h-1zM100 229h7v1h-7zM109 229h2v1h-2zM118 229h1v1h-1zM129 229h1v1h-1zM137 229h1v1h-1zM141 228h1v2h-1zM153 229h1v1h-1z"/>
<path fill="#7a4a22" d="M63 190h2v2h-2zM63 196h2v2h-2zM63 199h2v2h-2zM63 202h2v2h-2zM94 204h2v2h-2zM63 205h2v2h-2zM69 206h2v2h-2zM94 207h2v2h-2zM63 208h2v2h-2zM69 209h2v2h-2zM94 210h2v2h-2zM63 211h2v2h-2zM77 211h2v2h-2zM69 212h2v2h-2zM94 213h2v2h-2zM63 214h2v2h-2zM77 214h2v2h-2zM63 217h2v2h-2zM77 217h2v2h-2zM69 218h2v2h-2zM94 219h2v2h-2zM63 220h2v2h-2zM85 221h2v2h-2zM94 222h2v2h-2zM63 223h2v2h-2zM77 223h2v2h-2zM69 224h2v2h-2zM85 224h2v2h-2zM63 226h2v2h-2zM69 227h2v2h-2zM85 227h2v2h-2zM94 228h2v2h-2zM77 229h2v2h-2z"/>
<path fill="#a8703a" d="M302 189h2v2h-2zM313 189h2v2h-2zM377 192h2v2h-2zM291 194h2v2h-2zM297 194h2v2h-2zM321 194h2v2h-2zM351 194h2v2h-2zM369 194h2v2h-2zM381 194h2v2h-2zM393 194h2v2h-2zM302 195h2v2h-2zM330 195h2v2h-2zM358 201h2v2h-2zM291 204h2v2h-2zM297 204h2v2h-2zM315 204h2v2h-2zM339 204h2v2h-2zM377 204h2v2h-2zM302 207h2v2h-2zM302 210h2v2h-2zM330 210h2v2h-2zM285 213h2v2h-2zM297 213h2v2h-2zM309 213h2v2h-2zM313 213h4v2h-4zM327 213h2v2h-2zM377 213h2v2h-2zM406 213h2v2h-2zM313 216h2v2h-2zM389 216h2v2h-2zM406 216h2v2h-2zM330 219h2v2h-2z"/>
<path fill="#36b02a" d="M193 252h33v1h-33zM193 253h22v1h-22zM217 253h4v1h-4zM222 253h4v1h-4zM193 254h2v1h-2zM196 254h5v1h-5zM202 254h7v1h-7zM211 254h2v1h-2zM214 254h12v1h-12zM193 257h33v1h-33zM193 258h19v1h-19zM214 258h12v1h-12zM193 261h2v1h-2zM196 261h6v1h-6zM203 261h11v1h-11zM215 261h11v1h-11zM193 262h12v1h-12zM206 262h20v1h-20zM194 269h5v1h-5zM200 269h26v1h-26zM194 270h1v1h-1zM196 270h26v1h-26zM223 270h3v1h-3zM193 278h4v1h-4zM198 278h2v1h-2zM201 278h13v1h-13zM215 278h11v1h-11zM193 279h18v1h-18zM212 279h14v1h-14zM193 280h7v1h-7zM201 280h15v1h-15zM217 280h3v1h-3zM221 280h5v1h-5zM195 286h13v1h-13zM209 286h2v1h-2zM212 286h8v1h-8zM221 286h5v1h-5zM193 287h5v1h-5zM199 287h19v1h-19zM219 287h7v1h-7z"/></g>
<line x1="193.4" y1="12" x2="193.4" y2="303" stroke="#111" stroke-width="1.1" stroke-dasharray="3.1,3.2"/>
<line x1="226.4" y1="12" x2="226.4" y2="303" stroke="#111" stroke-width="1.1" stroke-dasharray="3.1,3.2"/>
<line x1="46" y1="186.9" x2="435.5" y2="186.9" stroke="#111" stroke-width="1.3" stroke-dasharray="3.1,3.2"/>
<line x1="46" y1="230.7" x2="435.5" y2="230.7" stroke="#111" stroke-width="1.3" stroke-dasharray="3.1,3.2"/>
<line x1="45.9" y1="11.5" x2="45.9" y2="300.5" stroke="#7a7a7a" stroke-width="1.8"/>
<line x1="45" y1="300.5" x2="434" y2="300.5" stroke="#333" stroke-width="1.1"/>
<line x1="68.0" y1="300.5" x2="68.0" y2="302.5" stroke="#333" stroke-width="0.8"/>
<text x="68.0" y="310" font-family="Liberation Serif" font-size="6.3" text-anchor="middle" fill="#444">−5.0</text>
<line x1="139.0" y1="300.5" x2="139.0" y2="302.5" stroke="#333" stroke-width="0.8"/>
<text x="139.0" y="310" font-family="Liberation Serif" font-size="6.3" text-anchor="middle" fill="#444">−2.5</text>
<line x1="210.0" y1="300.5" x2="210.0" y2="302.5" stroke="#333" stroke-width="0.8"/>
<text x="210.0" y="310" font-family="Liberation Serif" font-size="6.3" text-anchor="middle" fill="#444">0.0</text>
<line x1="281.0" y1="300.5" x2="281.0" y2="302.5" stroke="#333" stroke-width="0.8"/>
<text x="281.0" y="310" font-family="Liberation Serif" font-size="6.3" text-anchor="middle" fill="#444">2.5</text>
<line x1="352.0" y1="300.5" x2="352.0" y2="302.5" stroke="#333" stroke-width="0.8"/>
<text x="352.0" y="310" font-family="Liberation Serif" font-size="6.3" text-anchor="middle" fill="#444">5.0</text>
<line x1="423.0" y1="300.5" x2="423.0" y2="302.5" stroke="#333" stroke-width="0.8"/>
<text x="423.0" y="310" font-family="Liberation Serif" font-size="6.3" text-anchor="middle" fill="#444">7.5</text>
<line x1="43.5" y1="99.2" x2="46" y2="99.2" stroke="#444" stroke-width="0.9"/>
<text x="42.8" y="101.6" font-size="6.6" text-anchor="end" fill="#444">5</text>
<line x1="43.5" y1="208.7" x2="46" y2="208.7" stroke="#444" stroke-width="0.9"/>
<text x="42.8" y="211.1" font-size="6.6" text-anchor="end" fill="#444">0</text>
<text x="240" y="317.6" font-size="8" text-anchor="middle" fill="#000">Log2FC of prot</text>
<text transform="translate(35.5,156) rotate(-90)" font-size="8.1" text-anchor="middle" fill="#000">Log2FC of meta</text>
<text x="4.5" y="20.2" font-family="Liberation Serif" font-weight="bold" font-size="18.2" fill="#000">A</text>
<rect x="277.50" y="344.00" width="59.13" height="5.40" fill="#4a98c8"/>
<rect x="336.63" y="344.00" width="88.70" height="5.40" fill="#26a9c8"/>
<rect x="277.50" y="349.40" width="59.13" height="2.70" fill="#50c070"/>
<rect x="336.63" y="349.40" width="88.70" height="2.70" fill="#d6f9f9"/>
<rect x="277.50" y="352.10" width="59.13" height="2.70" fill="#a09868"/>
<rect x="336.63" y="352.10" width="88.70" height="2.70" fill="#d6f9f9"/>
<rect x="277.50" y="354.80" width="59.13" height="1.80" fill="#f0ead0"/>
<text x="273.5" y="353.90" font-size="10.7" text-anchor="end" fill="#1a1a1a">Biosynthesis of cofactors</text>
<line x1="275.0" y1="349.70" x2="277.5" y2="349.70" stroke="#333" stroke-width="1"/>
<rect x="277.50" y="358.00" width="49.28" height="2.20" fill="#8a78c8"/>
<rect x="326.77" y="358.00" width="68.98" height="2.20" fill="#6c88c8"/>
<rect x="277.50" y="360.20" width="49.28" height="3.60" fill="#6c88c8"/>
<rect x="326.77" y="360.20" width="68.98" height="3.60" fill="#6c88c8"/>
<rect x="277.50" y="363.80" width="49.28" height="3.60" fill="#88a870"/>
<rect x="326.77" y="363.80" width="68.98" height="3.60" fill="#d6f9f9"/>
<rect x="277.50" y="367.40" width="49.28" height="1.30" fill="#60c080"/>
<rect x="326.77" y="367.40" width="68.98" height="1.30" fill="#d6f9f9"/>
<text x="273.5" y="368.15" font-size="10.7" text-anchor="end" fill="#1a1a1a">Purine metabolism</text>
<line x1="275.0" y1="363.95" x2="277.5" y2="363.95" stroke="#333" stroke-width="1"/>
<rect x="277.50" y="368.70" width="128.12" height="3.10" fill="#d0fcf8"/>
<rect x="277.50" y="371.80" width="29.57" height="4.10" fill="#5090c8"/>
<rect x="307.06" y="371.80" width="98.55" height="4.10" fill="#5090c8"/>
<rect x="277.50" y="375.90" width="29.57" height="1.80" fill="#b060c0"/>
<rect x="307.06" y="375.90" width="98.55" height="1.80" fill="#5090c8"/>
<rect x="277.50" y="377.70" width="29.57" height="5.30" fill="#c0906a"/>
<rect x="307.06" y="377.70" width="98.55" height="5.30" fill="#d6f9f9"/>
<rect x="277.50" y="383.00" width="29.57" height="1.00" fill="#f4ecdc"/>
<text x="273.5" y="382.40" font-size="10.7" text-anchor="end" fill="#1a1a1a">cAMP signaling pathway</text>
<line x1="275.0" y1="378.20" x2="277.5" y2="378.20" stroke="#333" stroke-width="1"/>
<rect x="277.50" y="384.00" width="88.70" height="3.50" fill="#a8f8f2"/>
<rect x="277.50" y="387.50" width="49.28" height="4.10" fill="#20a8c0"/>
<rect x="326.77" y="387.50" width="39.42" height="4.10" fill="#1aadc5"/>
<rect x="277.50" y="391.60" width="49.28" height="0.90" fill="#30a8a0"/>
<rect x="326.77" y="391.60" width="39.42" height="0.90" fill="#1eadbc"/>
<rect x="277.50" y="392.50" width="49.28" height="4.90" fill="#e08070"/>
<rect x="326.77" y="392.50" width="39.42" height="4.90" fill="#d6f9f9"/>
<rect x="277.50" y="397.40" width="49.28" height="2.40" fill="#f6d6e6"/>
<text x="273.5" y="396.65" font-size="10.7" text-anchor="end" fill="#1a1a1a">Nucleotide metabolism</text>
<line x1="275.0" y1="392.45" x2="277.5" y2="392.45" stroke="#333" stroke-width="1"/>
<rect x="277.50" y="399.80" width="88.70" height="1.30" fill="#c8f8f8"/>
<rect x="277.50" y="401.10" width="29.57" height="5.40" fill="#3c98c8"/>
<rect x="307.06" y="401.10" width="59.13" height="5.40" fill="#22a9c8"/>
<rect x="277.50" y="406.50" width="29.57" height="1.40" fill="#50c080"/>
<rect x="307.06" y="406.50" width="59.13" height="1.40" fill="#d6f9f9"/>
<rect x="277.50" y="407.90" width="29.57" height="3.60" fill="#b09068"/>
<rect x="307.06" y="407.90" width="59.13" height="3.60" fill="#d6f9f9"/>
<rect x="277.50" y="411.50" width="29.57" height="1.30" fill="#f0ead6"/>
<rect x="277.50" y="412.80" width="29.57" height="2.20" fill="#fce0f0"/>
<text x="273.5" y="410.90" font-size="10.7" text-anchor="end" fill="#1a1a1a">Arachidonic acid metabolism</text>
<line x1="275.0" y1="406.70" x2="277.5" y2="406.70" stroke="#333" stroke-width="1"/>
<rect x="277.50" y="415.00" width="59.13" height="4.50" fill="#5a88c8"/>
<rect x="277.50" y="419.50" width="59.13" height="4.50" fill="#70b070"/>
<rect x="277.50" y="424.00" width="59.13" height="0.90" fill="#50c070"/>
<rect x="277.50" y="424.90" width="59.13" height="4.10" fill="#e8fce8"/>
<text x="273.5" y="425.15" font-size="10.7" text-anchor="end" fill="#1a1a1a">ABC transporters</text>
<line x1="275.0" y1="420.95" x2="277.5" y2="420.95" stroke="#333" stroke-width="1"/>
<rect x="277.50" y="429.00" width="29.57" height="3.00" fill="#6a80c8"/>
<rect x="307.06" y="429.00" width="39.42" height="3.00" fill="#6a80c8"/>
<rect x="277.50" y="432.00" width="29.57" height="2.80" fill="#9070c0"/>
<rect x="307.06" y="432.00" width="39.42" height="2.80" fill="#6a80c8"/>
<rect x="277.50" y="434.80" width="29.57" height="4.50" fill="#a89868"/>
<rect x="307.06" y="434.80" width="39.42" height="4.50" fill="#d6f9f9"/>
<rect x="277.50" y="439.30" width="29.57" height="1.70" fill="#60c890"/>
<rect x="307.06" y="439.30" width="39.42" height="1.70" fill="#d6f9f9"/>
<text x="273.5" y="439.40" font-size="10.7" text-anchor="end" fill="#1a1a1a">Biosynthesis of nucleotide sugars</text>
<line x1="275.0" y1="435.20" x2="277.5" y2="435.20" stroke="#333" stroke-width="1"/>
<rect x="277.50" y="441.00" width="88.70" height="2.70" fill="#c8f8f8"/>
<rect x="277.50" y="443.70" width="9.86" height="4.50" fill="#3090c0"/>
<rect x="287.36" y="443.70" width="78.84" height="4.50" fill="#1ea7c5"/>
<rect x="277.50" y="448.20" width="9.86" height="1.80" fill="#c070b0"/>
<rect x="287.36" y="448.20" width="78.84" height="1.80" fill="#1ea7c5"/>
<rect x="277.50" y="450.00" width="9.86" height="5.40" fill="#c88a60"/>
<rect x="287.36" y="450.00" width="78.84" height="5.40" fill="#d6f9f9"/>
<rect x="277.50" y="455.40" width="9.86" height="1.40" fill="#f6dcea"/>
<text x="273.5" y="453.65" font-size="10.7" text-anchor="end" fill="#1a1a1a">Bile secretion</text>
<line x1="275.0" y1="449.45" x2="277.5" y2="449.45" stroke="#333" stroke-width="1"/>
<rect x="277.50" y="456.80" width="78.84" height="1.30" fill="#b8f6f6"/>
<rect x="277.50" y="458.10" width="9.86" height="5.00" fill="#20a0c0"/>
<rect x="287.36" y="458.10" width="68.98" height="5.00" fill="#1aabc5"/>
<rect x="277.50" y="463.10" width="9.86" height="0.90" fill="#409898"/>
<rect x="287.36" y="463.10" width="68.98" height="0.90" fill="#23a9ba"/>
<rect x="277.50" y="464.00" width="9.86" height="5.40" fill="#e08a70"/>
<rect x="287.36" y="464.00" width="68.98" height="5.40" fill="#d6f9f9"/>
<rect x="277.50" y="469.40" width="9.86" height="2.20" fill="#fcd8f0"/>
<text x="273.5" y="467.90" font-size="10.7" text-anchor="end" fill="#1a1a1a">Pertussis</text>
<line x1="275.0" y1="463.70" x2="277.5" y2="463.70" stroke="#333" stroke-width="1"/>
<rect x="277.50" y="471.60" width="68.98" height="1.40" fill="#c8f8f8"/>
<rect x="277.50" y="473.00" width="9.86" height="4.40" fill="#4a90d0"/>
<rect x="287.36" y="473.00" width="59.13" height="4.40" fill="#26a7ca"/>
<rect x="277.50" y="477.40" width="9.86" height="2.30" fill="#40c070"/>
<rect x="287.36" y="477.40" width="59.13" height="2.30" fill="#d6f9f9"/>
<rect x="277.50" y="479.70" width="9.86" height="4.00" fill="#a09868"/>
<rect x="287.36" y="479.70" width="59.13" height="4.00" fill="#d6f9f9"/>
<rect x="277.50" y="483.70" width="9.86" height="2.30" fill="#f2ecd8"/>
<text x="273.5" y="482.15" font-size="10.7" text-anchor="end" fill="#1a1a1a">Glycine, serine and threonine metabolism</text>
<line x1="275.0" y1="477.95" x2="277.5" y2="477.95" stroke="#333" stroke-width="1"/>
<rect x="277.50" y="486.00" width="9.86" height="1.30" fill="#8070c8"/>
<rect x="287.36" y="486.00" width="59.13" height="1.30" fill="#6a80c8"/>
<rect x="277.50" y="487.30" width="9.86" height="4.50" fill="#6a80c8"/>
<rect x="287.36" y="487.30" width="59.13" height="4.50" fill="#6a80c8"/>
<rect x="277.50" y="491.80" width="9.86" height="5.40" fill="#90a870"/>
<rect x="287.36" y="491.80" width="59.13" height="5.40" fill="#d6f9f9"/>
<rect x="277.50" y="497.20" width="68.98" height="3.50" fill="#e6fafa"/>
<text x="273.5" y="496.40" font-size="10.7" text-anchor="end" fill="#1a1a1a">Cysteine and methionine metabolism</text>
<line x1="275.0" y1="492.20" x2="277.5" y2="492.20" stroke="#333" stroke-width="1"/>
<rect x="277.50" y="500.70" width="29.57" height="2.70" fill="#5080c8"/>
<rect x="277.50" y="503.40" width="29.57" height="2.30" fill="#b060c0"/>
<rect x="277.50" y="505.70" width="29.57" height="6.10" fill="#c09068"/>
<rect x="307.06" y="505.70" width="19.71" height="6.10" fill="#e47a6a"/>
<text x="273.5" y="510.65" font-size="10.7" text-anchor="end" fill="#1a1a1a">Autophagy − other</text>
<line x1="275.0" y1="506.45" x2="277.5" y2="506.45" stroke="#333" stroke-width="1"/>
<rect x="277.50" y="511.80" width="59.13" height="2.70" fill="#c0f8f8"/>
<rect x="277.50" y="514.50" width="19.71" height="4.90" fill="#20a0c0"/>
<rect x="297.21" y="514.50" width="39.42" height="4.90" fill="#1aabc5"/>
<rect x="277.50" y="519.40" width="19.71" height="0.90" fill="#409898"/>
<rect x="297.21" y="519.40" width="39.42" height="0.90" fill="#23a9ba"/>
<rect x="277.50" y="520.30" width="19.71" height="5.40" fill="#e07868"/>
<rect x="297.21" y="520.30" width="39.42" height="5.40" fill="#d6f9f9"/>
<rect x="277.50" y="525.70" width="19.71" height="2.20" fill="#fcd8f0"/>
<text x="273.5" y="524.90" font-size="10.7" text-anchor="end" fill="#1a1a1a">Amino sugar and nucleotide sugar metabolism</text>
<line x1="275.0" y1="520.70" x2="277.5" y2="520.70" stroke="#333" stroke-width="1"/>
<rect x="277.50" y="527.90" width="49.28" height="1.40" fill="#c8f8f8"/>
<rect x="277.50" y="529.30" width="19.71" height="4.50" fill="#3098c8"/>
<rect x="297.21" y="529.30" width="29.57" height="4.50" fill="#1ea9c8"/>
<rect x="277.50" y="533.80" width="19.71" height="2.20" fill="#40c080"/>
<rect x="297.21" y="533.80" width="29.57" height="2.20" fill="#1ea9c8"/>
<rect x="277.50" y="536.00" width="19.71" height="3.60" fill="#b89068"/>
<rect x="297.21" y="536.00" width="29.57" height="3.60" fill="#d6f9f9"/>
<rect x="277.50" y="539.60" width="19.71" height="1.40" fill="#f2ead6"/>
<rect x="277.50" y="541.00" width="19.71" height="1.70" fill="#fce0f0"/>
<text x="273.5" y="539.15" font-size="10.7" text-anchor="end" fill="#1a1a1a">Ascorbate and aldarate metabolism</text>
<line x1="275.0" y1="534.95" x2="277.5" y2="534.95" stroke="#333" stroke-width="1"/>
<rect x="277.50" y="542.70" width="29.57" height="5.00" fill="#6080c8"/>
<rect x="277.50" y="547.70" width="29.57" height="4.50" fill="#70a870"/>
<rect x="277.50" y="552.20" width="29.57" height="1.80" fill="#50c070"/>
<rect x="277.50" y="554.00" width="29.57" height="3.50" fill="#e6fbf6"/>
<text x="273.5" y="553.40" font-size="10.7" text-anchor="end" fill="#1a1a1a">Linoleic acid metabolism</text>
<line x1="275.0" y1="549.20" x2="277.5" y2="549.20" stroke="#333" stroke-width="1"/>
<rect x="277.50" y="557.50" width="9.86" height="2.30" fill="#8070c8"/>
<rect x="287.36" y="557.50" width="39.42" height="2.30" fill="#5a80c8"/>
<rect x="277.50" y="559.80" width="9.86" height="3.10" fill="#5a80c8"/>
<rect x="287.36" y="559.80" width="39.42" height="3.10" fill="#5a80c8"/>
<rect x="277.50" y="562.90" width="9.86" height="4.60" fill="#a0a070"/>
<rect x="287.36" y="562.90" width="39.42" height="4.60" fill="#d6f9f9"/>
<rect x="277.50" y="567.50" width="9.86" height="1.50" fill="#60c080"/>
<rect x="287.36" y="567.50" width="39.42" height="1.50" fill="#d6f9f9"/>
<text x="273.5" y="567.65" font-size="10.7" text-anchor="end" fill="#1a1a1a">beta−Alanine metabolism</text>
<line x1="275.0" y1="563.45" x2="277.5" y2="563.45" stroke="#333" stroke-width="1"/>
<rect x="277.50" y="569.00" width="39.42" height="3.10" fill="#c8f8f8"/>
<rect x="277.50" y="572.10" width="9.86" height="3.60" fill="#3090c0"/>
<rect x="287.36" y="572.10" width="29.57" height="3.60" fill="#1ea7c5"/>
<rect x="277.50" y="575.70" width="9.86" height="1.50" fill="#c060b0"/>
<rect x="287.36" y="575.70" width="29.57" height="1.50" fill="#1ea7c5"/>
<rect x="277.50" y="577.20" width="9.86" height="5.60" fill="#c09068"/>
<rect x="287.36" y="577.20" width="29.57" height="5.60" fill="#d6f9f9"/>
<rect x="277.50" y="582.80" width="9.86" height="2.00" fill="#f6e0e6"/>
<text x="273.5" y="581.90" font-size="10.7" text-anchor="end" fill="#1a1a1a">Starch and sucrose metabolism</text>
<line x1="275.0" y1="577.70" x2="277.5" y2="577.70" stroke="#333" stroke-width="1"/>
<rect x="277.50" y="584.80" width="39.42" height="1.50" fill="#c0f8f8"/>
<rect x="277.50" y="586.30" width="9.86" height="5.10" fill="#20a0c0"/>
<rect x="287.36" y="586.30" width="29.57" height="5.10" fill="#1aabc5"/>
<rect x="277.50" y="591.40" width="9.86" height="6.10" fill="#e08068"/>
<rect x="287.36" y="591.40" width="29.57" height="6.10" fill="#d6f9f9"/>
<rect x="277.50" y="597.50" width="9.86" height="2.50" fill="#fcd8f0"/>
<text x="273.5" y="596.15" font-size="10.7" text-anchor="end" fill="#1a1a1a">Sphingolipid metabolism</text>
<line x1="275.0" y1="591.95" x2="277.5" y2="591.95" stroke="#333" stroke-width="1"/>
<rect x="277.50" y="600.00" width="39.42" height="1.00" fill="#c8f8f8"/>
<rect x="277.50" y="601.00" width="9.86" height="4.60" fill="#4090c8"/>
<rect x="287.36" y="601.00" width="29.57" height="4.60" fill="#23a7c8"/>
<rect x="277.50" y="605.60" width="9.86" height="2.10" fill="#40c070"/>
<rect x="287.36" y="605.60" width="29.57" height="2.10" fill="#d6f9f9"/>
<rect x="277.50" y="607.70" width="9.86" height="4.00" fill="#a89868"/>
<rect x="287.36" y="607.70" width="29.57" height="4.00" fill="#d6f9f9"/>
<rect x="277.50" y="611.70" width="9.86" height="2.10" fill="#f2ecd8"/>
<text x="273.5" y="610.40" font-size="10.7" text-anchor="end" fill="#1a1a1a">Pentose and glucuronate interconversions</text>
<line x1="275.0" y1="606.20" x2="277.5" y2="606.20" stroke="#333" stroke-width="1"/>
<rect x="277.50" y="613.80" width="9.86" height="2.50" fill="#8070c0"/>
<rect x="287.36" y="613.80" width="29.57" height="2.50" fill="#6080c8"/>
<rect x="277.50" y="616.30" width="9.86" height="3.60" fill="#6080c8"/>
<rect x="287.36" y="616.30" width="29.57" height="3.60" fill="#6080c8"/>
<rect x="277.50" y="619.90" width="9.86" height="5.10" fill="#90a070"/>
<rect x="287.36" y="619.90" width="29.57" height="5.10" fill="#d6f9f9"/>
<rect x="277.50" y="625.00" width="9.86" height="2.00" fill="#f8e0ec"/>
<text x="273.5" y="624.65" font-size="10.7" text-anchor="end" fill="#1a1a1a">Pantothenate and CoA biosynthesis</text>
<line x1="275.0" y1="620.45" x2="277.5" y2="620.45" stroke="#333" stroke-width="1"/>
<text x="427.23" y="349.39" font-size="8.4" fill="#1a1a1a">15</text>
<text x="338.53" y="355.80" font-size="8.4" fill="#1a1a1a">6</text>
<text x="397.66" y="363.64" font-size="8.4" fill="#1a1a1a">12</text>
<text x="328.67" y="370.05" font-size="8.4" fill="#1a1a1a">5</text>
<text x="407.51" y="377.89" font-size="8.4" fill="#1a1a1a">13</text>
<text x="308.96" y="384.30" font-size="8.4" fill="#1a1a1a">3</text>
<text x="368.09" y="392.14" font-size="8.4" fill="#1a1a1a">9</text>
<text x="328.67" y="398.55" font-size="8.4" fill="#1a1a1a">5</text>
<text x="368.09" y="406.39" font-size="8.4" fill="#1a1a1a">9</text>
<text x="308.96" y="412.80" font-size="8.4" fill="#1a1a1a">3</text>
<text x="338.53" y="420.64" font-size="8.4" fill="#1a1a1a">6</text>
<text x="338.53" y="427.05" font-size="8.4" fill="#1a1a1a">6</text>
<text x="348.38" y="434.89" font-size="8.4" fill="#1a1a1a">7</text>
<text x="308.96" y="441.30" font-size="8.4" fill="#1a1a1a">3</text>
<text x="368.09" y="449.14" font-size="8.4" fill="#1a1a1a">9</text>
<text x="289.25" y="455.55" font-size="8.4" fill="#1a1a1a">1</text>
<text x="358.24" y="463.39" font-size="8.4" fill="#1a1a1a">8</text>
<text x="289.25" y="469.80" font-size="8.4" fill="#1a1a1a">1</text>
<text x="348.38" y="477.64" font-size="8.4" fill="#1a1a1a">7</text>
<text x="289.25" y="484.05" font-size="8.4" fill="#1a1a1a">1</text>
<text x="348.38" y="491.89" font-size="8.4" fill="#1a1a1a">7</text>
<text x="289.25" y="498.30" font-size="8.4" fill="#1a1a1a">1</text>
<text x="308.96" y="506.14" font-size="8.4" fill="#1a1a1a">3</text>
<text x="328.67" y="512.55" font-size="8.4" fill="#1a1a1a">5</text>
<text x="338.53" y="520.39" font-size="8.4" fill="#1a1a1a">6</text>
<text x="299.11" y="526.81" font-size="8.4" fill="#1a1a1a">2</text>
<text x="328.67" y="534.64" font-size="8.4" fill="#1a1a1a">5</text>
<text x="299.11" y="541.06" font-size="8.4" fill="#1a1a1a">2</text>
<text x="308.96" y="548.89" font-size="8.4" fill="#1a1a1a">3</text>
<text x="308.96" y="555.31" font-size="8.4" fill="#1a1a1a">3</text>
<text x="328.67" y="563.14" font-size="8.4" fill="#1a1a1a">5</text>
<text x="289.25" y="569.56" font-size="8.4" fill="#1a1a1a">1</text>
<text x="318.82" y="577.39" font-size="8.4" fill="#1a1a1a">4</text>
<text x="289.25" y="583.81" font-size="8.4" fill="#1a1a1a">1</text>
<text x="318.82" y="591.64" font-size="8.4" fill="#1a1a1a">4</text>
<text x="289.25" y="598.06" font-size="8.4" fill="#1a1a1a">1</text>
<text x="318.82" y="605.89" font-size="8.4" fill="#1a1a1a">4</text>
<text x="289.25" y="612.31" font-size="8.4" fill="#1a1a1a">1</text>
<text x="318.82" y="620.14" font-size="8.4" fill="#1a1a1a">4</text>
<text x="289.25" y="626.56" font-size="8.4" fill="#1a1a1a">1</text>
<line x1="277.5" y1="341.5" x2="277.5" y2="631" stroke="#111" stroke-width="1.1"/>
<line x1="277.5" y1="630.5" x2="490" y2="630.5" stroke="#111" stroke-width="1.1"/>
<line x1="277.50" y1="630.5" x2="277.50" y2="633" stroke="#333" stroke-width="1"/>
<text x="277.50" y="642.6" font-size="10.2" text-anchor="middle" fill="#4d4d4d">0</text>
<line x1="326.77" y1="630.5" x2="326.77" y2="633" stroke="#333" stroke-width="1"/>
<text x="326.77" y="642.6" font-size="10.2" text-anchor="middle" fill="#4d4d4d">5</text>
<line x1="376.05" y1="630.5" x2="376.05" y2="633" stroke="#333" stroke-width="1"/>
<text x="376.05" y="642.6" font-size="10.2" text-anchor="middle" fill="#4d4d4d">10</text>
<line x1="425.33" y1="630.5" x2="425.33" y2="633" stroke="#333" stroke-width="1"/>
<text x="425.33" y="642.6" font-size="10.2" text-anchor="middle" fill="#4d4d4d">15</text>
<line x1="474.60" y1="630.5" x2="474.60" y2="633" stroke="#333" stroke-width="1"/>
<text x="474.60" y="642.6" font-size="10.2" text-anchor="middle" fill="#4d4d4d">20</text>
<text x="384" y="658.6" font-size="13" text-anchor="middle" fill="#111">Number of Genes or Metabolites</text>
<text transform="translate(25.3,506) rotate(-90)" font-size="12.8" text-anchor="middle" fill="#111">Pathway Name</text>
<text x="505.3" y="493" font-size="9.5" fill="#111">Type</text>
<rect x="505.3" y="498" width="14" height="1.2" fill="#fbe0f4"/>
<rect x="505.3" y="499" width="14" height="13" fill="#ee7a6a"/>
<rect x="505.3" y="499" width="14" height="3.5" fill="#c08868"/>
<rect x="505.3" y="512" width="14" height="14.3" fill="#a8fbf6"/>
<rect x="506.3" y="513" width="12" height="12.3" fill="#1fa8c2"/>
<text x="523.8" y="510" font-size="10.2" fill="#111">meta</text>
<text x="523.8" y="524" font-size="10.2" fill="#111">prot</text>
<text x="4.9" y="346.8" font-family="Liberation Serif" font-weight="bold" font-size="17.8" fill="#000">B</text>
</svg></body></html>
